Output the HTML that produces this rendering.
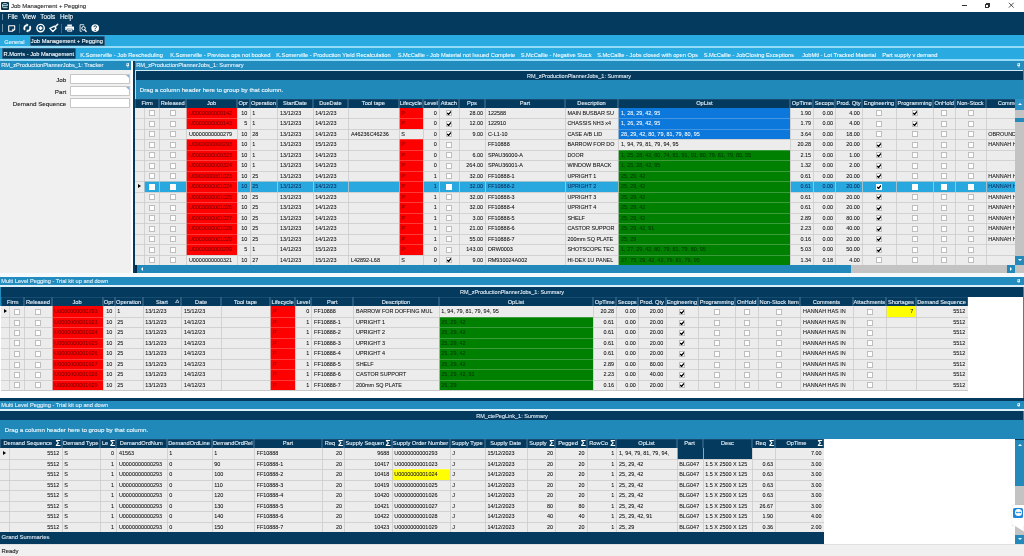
<!DOCTYPE html>
<html lang="en"><head><meta charset="utf-8"><title>Job Management + Pegging</title>
<style>
html,body{margin:0;padding:0}
body{width:1024px;height:556px;overflow:hidden;position:relative;background:#fff;font-family:"Liberation Sans",sans-serif;font-size:5.5px}
body>div{position:absolute;overflow:hidden}
.t{position:absolute;white-space:nowrap;font-size:5.5px;-webkit-text-stroke:0.1px}
.tab{color:#f4fbfe;font-size:5.72px;-webkit-text-stroke:0.1px;line-height:10px;text-align:left;overflow:visible}
.h{position:absolute;white-space:nowrap;overflow:hidden;color:#e4eef6;font-size:5.7px;-webkit-text-stroke:0.12px}
.c{position:absolute;white-space:nowrap;overflow:hidden;font-size:5.45px;-webkit-text-stroke:0.06px;margin-top:1.1px;margin-left:0.5px}
.cb{width:6px;height:6px;box-sizing:border-box;border:1px solid #bebebe;background:#fff !important;line-height:0}
.cb svg{position:absolute;left:-1px;top:-1px}
.sg{position:absolute;color:#fff;font-size:8.6px;font-weight:bold;white-space:nowrap}
.arr{width:0;height:0;border-left:3.2px solid #000;border-top:2.4px solid transparent;border-bottom:2.4px solid transparent;background:transparent !important}
.au{width:0;height:0;border-bottom:2.6px solid #fff;border-left:2px solid transparent;border-right:2px solid transparent;background:transparent !important}
.ad{width:0;height:0;border-top:2.6px solid #fff;border-left:2px solid transparent;border-right:2px solid transparent;background:transparent !important}
.al{width:0;height:0;border-right:2.6px solid #fff;border-top:2px solid transparent;border-bottom:2px solid transparent;background:transparent !important}
.ar{width:0;height:0;border-left:2.6px solid #fff;border-top:2px solid transparent;border-bottom:2px solid transparent;background:transparent !important}
</style></head>
<body>
<div  style="left:0.00px;top:0.00px;width:1024.00px;height:12.00px;background:#ffffff;"></div>
<div style="left:1px;top:1.8px;width:7.9px;height:7.9px;background:#0c2f40;border-radius:1px"></div>
<svg style="position:absolute;left:0;top:0" width="11" height="11" viewBox="0 0 11 11"><path d="M7.5 7.7 H3.6 Q2.6 7.7 2.6 6.7 V4.7 Q2.6 3.7 3.6 3.7 H6.4 Q7.4 3.7 7.4 4.7 V5.7 H2.8" fill="none" stroke="#c8f0fa" stroke-width="0.95"/></svg>
<span class="t" style="left:10.90px;top:0.50px;color:#2a2a2a;font-size:6.0px;line-height:11px;-webkit-text-stroke:0.1px">Job Management + Pegging</span>
<div  style="left:962.00px;top:5.20px;width:4.80px;height:0.60px;background:#333;"></div>
<div style="left:985.1px;top:3.9px;width:3.9px;height:3.9px;border:0.55px solid #333;background:transparent;box-sizing:border-box"></div><div style="left:986.2px;top:3px;width:3.9px;height:3.9px;border-top:0.55px solid #333;border-right:0.55px solid #333;background:transparent;box-sizing:border-box"></div>
<svg style="position:absolute;left:1008px;top:2.4px" width="6.6" height="6.6" viewBox="0 0 6.6 6.6"><path d="M0.9 0.8 L5.7 5.6 M5.7 0.8 L0.9 5.6" stroke="#222" stroke-width="0.8"/></svg>
<div  style="left:0.00px;top:12.00px;width:1024.00px;height:22.80px;background:#043a5e;"></div>
<div  style="left:2.40px;top:13.80px;width:0.70px;height:6.50px;background:#6f93ad;"></div>
<span class="t" style="left:7.60px;top:12.30px;color:#fff;font-size:6.4px;line-height:10px">File</span>
<span class="t" style="left:22.20px;top:12.30px;color:#fff;font-size:6.4px;line-height:10px">View</span>
<span class="t" style="left:40.20px;top:12.30px;color:#fff;font-size:6.4px;line-height:10px">Tools</span>
<span class="t" style="left:60.00px;top:12.30px;color:#fff;font-size:6.4px;line-height:10px">Help</span>
<div  style="left:2.40px;top:24.30px;width:0.70px;height:8.00px;background:#6f93ad;"></div>
<div  style="left:19.30px;top:23.60px;width:0.60px;height:9.60px;background:#3b6787;"></div>
<div  style="left:61.10px;top:23.60px;width:0.60px;height:9.60px;background:#3b6787;"></div>
<svg style="position:absolute;left:0;top:20px" width="104" height="16" viewBox="0 0 104 16">
<g fill="none" stroke="#fff" stroke-linejoin="round">
<path d="M8.7 5.8 H14.7 V9.5 L12.6 11.2 H8.7 Z" stroke-width="1.05"/>
<path d="M14.6 9.3 H12.5 V11.1" stroke-width="0.7"/>
<path d="M24.94 9.85 A3.0 3.0 0 0 1 26.88 5.03" stroke-width="1.8"/>
<path d="M29.66 6.15 A3.0 3.0 0 0 1 27.72 10.97" stroke-width="1.8"/>
<circle cx="40.6" cy="8.1" r="3.7" stroke-width="1.4"/>
<path d="M38.8 8.1 H42.4 M40.6 6.3 V9.9" stroke-width="1.6"/>
<path d="M57.7 4.3 L55.2 6.7" stroke-width="1.5" stroke-linecap="round"/>
<path d="M49.8 8.4 L54.5 6.2 L56.1 8.3 L52.9 11.5 Z" stroke-width="1.3"/>
<path d="M80.1 4.7 H83.8 V5.6 M80.1 4.7 V11.3 H81.8" stroke-width="0.8"/>
<circle cx="83.5" cy="8.3" r="1.75" stroke-width="1"/>
<path d="M84.8 9.8 L86.2 11.5" stroke-width="1.2" stroke-linecap="round"/>
</g>
<g fill="#fff">
<path d="M28.57 4.79 L26.46 3.47 L26.91 6.64 Z"/>
<path d="M26.03 11.21 L28.14 12.53 L27.69 9.36 Z"/>
<rect x="67.3" y="4.5" width="4.6" height="2"/>
<rect x="65.2" y="6.5" width="8.8" height="3.7" rx="0.6"/>
<rect x="67" y="9" width="5.2" height="2.9" stroke="#043a5e" stroke-width="0.5"/>
<circle cx="95.2" cy="8.1" r="3.85"/>
</g>
<path d="M67.9 10.5 H71.3" stroke="#043a5e" stroke-width="0.5"/>
<path d="M93.9 7.1 Q93.9 5.8 95.2 5.8 Q96.5 5.8 96.5 6.9 Q96.5 7.6 95.8 8 Q95.2 8.4 95.2 9.1" fill="none" stroke="#043a5e" stroke-width="1"/>
<circle cx="95.2" cy="10.4" r="0.65" fill="#043a5e"/>
</svg>
<div  style="left:0.00px;top:34.80px;width:1024.00px;height:12.00px;background:#29abe2;"></div>
<div  style="left:0.00px;top:45.90px;width:1024.00px;height:2.10px;background:#93dcf8;"></div>
<span class="t" style="left:4.30px;top:36.70px;color:#e9f6fd;font-size:5.7px;line-height:10px">General</span>
<div  style="left:29.50px;top:35.50px;width:75.20px;height:10.70px;background:#043a5e;box-shadow:inset 0 0 0 0.6px rgba(160,215,245,0.45);"></div>
<span class="t" style="left:30.80px;top:36.00px;color:#fff;font-size:5.75px;line-height:10px">Job Management + Pegging</span>
<div  style="left:0.00px;top:48.00px;width:1024.00px;height:12.00px;background:#29abe2;"></div>
<div  style="left:0.00px;top:58.80px;width:1024.00px;height:2.20px;background:#93dcf8;"></div>
<div  style="left:1.70px;top:48.40px;width:74.50px;height:10.80px;background:#043a5e;box-shadow:inset 0 0 0 0.6px rgba(160,215,245,0.45);"></div>
<span class="t" style="left:3.60px;top:48.90px;color:#fff;font-size:5.7px;line-height:10px">R.Morris - Job Management</span>
<span class="t tab" style="left:80.2px;top:50.1px;width:83.5px">K.Somerville - Job Rescheduling</span>
<span class="t tab" style="left:170.2px;top:50.1px;width:100px">K.Somerville - Previous ops not booked</span>
<span class="t tab" style="left:276.2px;top:50.1px;width:114px">K.Somerville - Production Yield Recalculation</span>
<span class="t tab" style="left:397.7px;top:50.1px;width:116.5px">S.McCallie - Job Material not Issued Complete</span>
<span class="t tab" style="left:520.7px;top:50.1px;width:70.5px">S.McCallie - Negative Stock</span>
<span class="t tab" style="left:597.2px;top:50.1px;width:101px">S.McCallie - Jobs closed with open Ops</span>
<span class="t tab" style="left:703.7px;top:50.1px;width:92.0px">S.McCallie - JobClosing Exceptions</span>
<span class="t tab" style="left:802.2px;top:50.1px;width:74px">JobMtl - Lot Tracked Material</span>
<span class="t tab" style="left:882.2px;top:50.1px;width:56px">Part supply v demand</span>
<div  style="left:0.00px;top:60.90px;width:131.00px;height:8.90px;background:#238cbf;"></div>
<span class="t" style="left:1.20px;top:60.90px;color:#e6f3fa;font-size:5.7px;line-height:9px">RM_zProductionPlannerJobs_1: Tracker</span>
<svg style="position:absolute;left:125.6px;top:62.9px" width="3.8" height="4.7" viewBox="0 0 7.6 11.2" preserveAspectRatio="none"><path d="M1.6 0.8 H6 V5.6 H1.6 Z" fill="none" stroke="#fff" stroke-width="1.5"/><path d="M4.9 1 V5.4" stroke="#fff" stroke-width="1.6"/><path d="M0.2 6.2 H7.4" stroke="#fff" stroke-width="1.5"/><path d="M3.8 6.4 V11" stroke="#fff" stroke-width="1.4"/></svg>
<div  style="left:0.00px;top:69.80px;width:131.50px;height:204.00px;background:#f0f0f0;"></div>
<div  style="left:130.80px;top:61.20px;width:2.20px;height:212.50px;background:#fff;"></div>
<div  style="left:132.90px;top:61.20px;width:2.10px;height:212.50px;background:#043a5e;"></div>
<span class="t" style="left:0;top:75.10000000000001px;width:66.3px;text-align:right;color:#1a1a1a;font-size:6.25px;line-height:10.4px">Job</span>
<div  style="left:70.00px;top:74.20px;width:59.60px;height:10.00px;background:#fff;border:0.7px solid #c6c6c6;box-sizing:border-box;border-radius:0.8px"></div>
<span class="t" style="left:0;top:87.30000000000001px;width:66.3px;text-align:right;color:#1a1a1a;font-size:6.25px;line-height:10.4px">Part</span>
<div  style="left:70.00px;top:86.40px;width:59.60px;height:10.00px;background:#fff;border:0.7px solid #c6c6c6;box-sizing:border-box;border-radius:0.8px"></div>
<span class="t" style="left:0;top:99.30000000000001px;width:66.3px;text-align:right;color:#1a1a1a;font-size:6.25px;line-height:10.4px">Demand Sequence</span>
<div  style="left:70.00px;top:98.40px;width:59.60px;height:10.00px;background:#fff;border:0.7px solid #c6c6c6;box-sizing:border-box;border-radius:0.8px"></div>
<svg style="position:absolute;left:125.9px;top:74.7px" width="3.4" height="3.4" viewBox="0 0 3 3"><path d="M0 0 H3 V3 Z" fill="#8fb4dc"/></svg>
<svg style="position:absolute;left:125.9px;top:86.9px" width="3.4" height="3.4" viewBox="0 0 3 3"><path d="M0 0 H3 V3 Z" fill="#8fb4dc"/></svg>
<div  style="left:135.00px;top:60.90px;width:889.00px;height:8.90px;background:#238cbf;"></div>
<span class="t" style="left:136.20px;top:60.90px;color:#e6f3fa;font-size:5.7px;line-height:9px">RM_zProductionPlannerJobs_1: Summary</span>
<svg style="position:absolute;left:1016.7px;top:62.9px" width="3.8" height="4.7" viewBox="0 0 7.6 11.2" preserveAspectRatio="none"><path d="M1.6 0.8 H6 V5.6 H1.6 Z" fill="none" stroke="#fff" stroke-width="1.5"/><path d="M4.9 1 V5.4" stroke="#fff" stroke-width="1.6"/><path d="M0.2 6.2 H7.4" stroke="#fff" stroke-width="1.5"/><path d="M3.8 6.4 V11" stroke="#fff" stroke-width="1.4"/></svg>
<div  style="left:135.00px;top:69.80px;width:889.00px;height:1.60px;background:#d4ecf8;"></div>
<div  style="left:135.00px;top:71.30px;width:888.00px;height:8.70px;background:#043a5e;"></div>
<span class="t" style="left:135px;top:72px;width:888px;text-align:center;color:#dfeaf3;font-size:5.5px;line-height:9px">RM_zProductionPlannerJobs_1: Summary</span>
<div  style="left:135.00px;top:80.00px;width:888.00px;height:19.00px;background:#2189ba;"></div>
<div  style="left:1023.00px;top:69.80px;width:1.00px;height:29.00px;background:#238cbf;"></div>
<div  style="left:135.00px;top:69.80px;width:0.80px;height:29.00px;background:#b9dff2;"></div>
<span class="t" style="left:139.70px;top:85.20px;color:#f2f9fd;font-size:6.2px;line-height:10px">Drag a column header here to group by that column.</span>
<div  style="left:135.00px;top:98.80px;width:902.60px;height:8.90px;background:#043a5e;"></div>
<div  style="left:135.00px;top:98.80px;width:24.25px;height:8.90px;background:#043a5e;box-shadow:inset 0.6px 0 0 #3f6f92, inset -0.6px 0 0 #3f6f92, inset 0 0.6px 0 #2b5d82;"></div>
<div  style="left:159.25px;top:98.80px;width:26.95px;height:8.90px;background:#043a5e;box-shadow:inset 0.6px 0 0 #3f6f92, inset -0.6px 0 0 #3f6f92, inset 0 0.6px 0 #2b5d82;"></div>
<div  style="left:186.20px;top:98.80px;width:50.60px;height:8.90px;background:#043a5e;box-shadow:inset 0.6px 0 0 #3f6f92, inset -0.6px 0 0 #3f6f92, inset 0 0.6px 0 #2b5d82;"></div>
<div  style="left:236.80px;top:98.80px;width:12.72px;height:8.90px;background:#043a5e;box-shadow:inset 0.6px 0 0 #3f6f92, inset -0.6px 0 0 #3f6f92, inset 0 0.6px 0 #2b5d82;"></div>
<div  style="left:249.52px;top:98.80px;width:27.88px;height:8.90px;background:#043a5e;box-shadow:inset 0.6px 0 0 #3f6f92, inset -0.6px 0 0 #3f6f92, inset 0 0.6px 0 #2b5d82;"></div>
<div  style="left:277.40px;top:98.80px;width:35.20px;height:8.90px;background:#043a5e;box-shadow:inset 0.6px 0 0 #3f6f92, inset -0.6px 0 0 #3f6f92, inset 0 0.6px 0 #2b5d82;"></div>
<div  style="left:312.60px;top:98.80px;width:35.60px;height:8.90px;background:#043a5e;box-shadow:inset 0.6px 0 0 #3f6f92, inset -0.6px 0 0 #3f6f92, inset 0 0.6px 0 #2b5d82;"></div>
<div  style="left:348.20px;top:98.80px;width:50.40px;height:8.90px;background:#043a5e;box-shadow:inset 0.6px 0 0 #3f6f92, inset -0.6px 0 0 #3f6f92, inset 0 0.6px 0 #2b5d82;"></div>
<div  style="left:398.60px;top:98.80px;width:24.40px;height:8.90px;background:#043a5e;box-shadow:inset 0.6px 0 0 #3f6f92, inset -0.6px 0 0 #3f6f92, inset 0 0.6px 0 #2b5d82;"></div>
<div  style="left:423.00px;top:98.80px;width:16.00px;height:8.90px;background:#043a5e;box-shadow:inset 0.6px 0 0 #3f6f92, inset -0.6px 0 0 #3f6f92, inset 0 0.6px 0 #2b5d82;"></div>
<div  style="left:439.00px;top:98.80px;width:19.60px;height:8.90px;background:#043a5e;box-shadow:inset 0.6px 0 0 #3f6f92, inset -0.6px 0 0 #3f6f92, inset 0 0.6px 0 #2b5d82;"></div>
<div  style="left:458.60px;top:98.80px;width:26.60px;height:8.90px;background:#043a5e;box-shadow:inset 0.6px 0 0 #3f6f92, inset -0.6px 0 0 #3f6f92, inset 0 0.6px 0 #2b5d82;"></div>
<div  style="left:485.20px;top:98.80px;width:79.50px;height:8.90px;background:#043a5e;box-shadow:inset 0.6px 0 0 #3f6f92, inset -0.6px 0 0 #3f6f92, inset 0 0.6px 0 #2b5d82;"></div>
<div  style="left:564.70px;top:98.80px;width:53.70px;height:8.90px;background:#043a5e;box-shadow:inset 0.6px 0 0 #3f6f92, inset -0.6px 0 0 #3f6f92, inset 0 0.6px 0 #2b5d82;"></div>
<div  style="left:618.40px;top:98.80px;width:172.00px;height:8.90px;background:#043a5e;box-shadow:inset 0.6px 0 0 #3f6f92, inset -0.6px 0 0 #3f6f92, inset 0 0.6px 0 #2b5d82;"></div>
<div  style="left:790.40px;top:98.80px;width:22.90px;height:8.90px;background:#043a5e;box-shadow:inset 0.6px 0 0 #3f6f92, inset -0.6px 0 0 #3f6f92, inset 0 0.6px 0 #2b5d82;"></div>
<div  style="left:813.30px;top:98.80px;width:21.90px;height:8.90px;background:#043a5e;box-shadow:inset 0.6px 0 0 #3f6f92, inset -0.6px 0 0 #3f6f92, inset 0 0.6px 0 #2b5d82;"></div>
<div  style="left:835.20px;top:98.80px;width:26.90px;height:8.90px;background:#043a5e;box-shadow:inset 0.6px 0 0 #3f6f92, inset -0.6px 0 0 #3f6f92, inset 0 0.6px 0 #2b5d82;"></div>
<div  style="left:862.10px;top:98.80px;width:33.90px;height:8.90px;background:#043a5e;box-shadow:inset 0.6px 0 0 #3f6f92, inset -0.6px 0 0 #3f6f92, inset 0 0.6px 0 #2b5d82;"></div>
<div  style="left:896.00px;top:98.80px;width:37.20px;height:8.90px;background:#043a5e;box-shadow:inset 0.6px 0 0 #3f6f92, inset -0.6px 0 0 #3f6f92, inset 0 0.6px 0 #2b5d82;"></div>
<div  style="left:933.20px;top:98.80px;width:22.00px;height:8.90px;background:#043a5e;box-shadow:inset 0.6px 0 0 #3f6f92, inset -0.6px 0 0 #3f6f92, inset 0 0.6px 0 #2b5d82;"></div>
<div  style="left:955.20px;top:98.80px;width:30.32px;height:8.90px;background:#043a5e;box-shadow:inset 0.6px 0 0 #3f6f92, inset -0.6px 0 0 #3f6f92, inset 0 0.6px 0 #2b5d82;"></div>
<div  style="left:985.52px;top:98.80px;width:52.08px;height:8.90px;background:#043a5e;box-shadow:inset 0.6px 0 0 #3f6f92, inset -0.6px 0 0 #3f6f92, inset 0 0.6px 0 #2b5d82;"></div>
<span class="h" style="left:129.00px;top:98.80px;width:36.25px;line-height:9.20px;text-align:center">Firm</span>
<span class="h" style="left:153.25px;top:98.80px;width:38.95px;line-height:9.20px;text-align:center">Released</span>
<span class="h" style="left:180.20px;top:98.80px;width:62.60px;line-height:9.20px;text-align:center">Job</span>
<span class="h" style="left:230.80px;top:98.80px;width:24.72px;line-height:9.20px;text-align:center">Opr</span>
<span class="h" style="left:243.52px;top:98.80px;width:39.88px;line-height:9.20px;text-align:center">Operation</span>
<span class="h" style="left:271.40px;top:98.80px;width:47.20px;line-height:9.20px;text-align:center">StartDate</span>
<span class="h" style="left:306.60px;top:98.80px;width:47.60px;line-height:9.20px;text-align:center">DueDate</span>
<span class="h" style="left:342.20px;top:98.80px;width:62.40px;line-height:9.20px;text-align:center">Tool tape</span>
<span class="h" style="left:392.60px;top:98.80px;width:36.40px;line-height:9.20px;text-align:center">Lifecycle</span>
<span class="h" style="left:417.00px;top:98.80px;width:28.00px;line-height:9.20px;text-align:center">Level</span>
<span class="h" style="left:433.00px;top:98.80px;width:31.60px;line-height:9.20px;text-align:center">Attach</span>
<span class="h" style="left:452.60px;top:98.80px;width:38.60px;line-height:9.20px;text-align:center">Pps</span>
<span class="h" style="left:479.20px;top:98.80px;width:91.50px;line-height:9.20px;text-align:center">Part</span>
<span class="h" style="left:558.70px;top:98.80px;width:65.70px;line-height:9.20px;text-align:center">Description</span>
<span class="h" style="left:612.40px;top:98.80px;width:184.00px;line-height:9.20px;text-align:center">OpList</span>
<span class="h" style="left:784.40px;top:98.80px;width:34.90px;line-height:9.20px;text-align:center">OpTime</span>
<span class="h" style="left:807.30px;top:98.80px;width:33.90px;line-height:9.20px;text-align:center">Secops</span>
<span class="h" style="left:829.20px;top:98.80px;width:38.90px;line-height:9.20px;text-align:center">Prod. Qty</span>
<span class="h" style="left:856.10px;top:98.80px;width:45.90px;line-height:9.20px;text-align:center">Engineering</span>
<span class="h" style="left:890.00px;top:98.80px;width:49.20px;line-height:9.20px;text-align:center">Programming</span>
<span class="h" style="left:927.20px;top:98.80px;width:34.00px;line-height:9.20px;text-align:center">OnHold</span>
<span class="h" style="left:949.20px;top:98.80px;width:42.32px;line-height:9.20px;text-align:center">Non-Stock</span>
<span class="h" style="left:979.52px;top:98.80px;width:64.08px;line-height:9.20px;text-align:center">Comments</span>
<div  style="left:135.00px;top:107.60px;width:903.30px;height:158.20px;background:#c9c9c9;"></div>
<div  style="left:135.00px;top:107.60px;width:902.60px;height:157.50px;background:#ececec;"></div>
<div  style="left:135.00px;top:107.60px;width:9.40px;height:10.50px;background:#ececec;"></div>
<div  style="left:144.40px;top:107.60px;width:14.85px;height:10.50px;background:#ececec;box-shadow:inset 0.75px 0 0 #c9c9c9;"></div>
<div class="cb" style="left:149px;top:110px;border-color:#bebebe"></div>
<div  style="left:159.25px;top:107.60px;width:26.95px;height:10.50px;background:#ececec;box-shadow:inset 0.75px 0 0 #c9c9c9;"></div>
<div class="cb" style="left:170px;top:110px;border-color:#bebebe"></div>
<div  style="left:186.20px;top:107.60px;width:50.60px;height:10.50px;background:#ff0000;box-shadow:inset 0.75px 0 0 #c9c9c9;"></div>
<span class="c" style="left:188.40px;top:107.60px;width:45.70px;line-height:9.90px;text-align:left;color:#7a0000">U0000000000142</span>
<div  style="left:236.80px;top:107.60px;width:12.72px;height:10.50px;background:#ececec;box-shadow:inset 0.75px 0 0 #c9c9c9;"></div>
<span class="c" style="left:239.00px;top:107.60px;width:7.82px;line-height:9.90px;text-align:right;color:#0d0d0d;overflow:visible">10</span>
<div  style="left:249.52px;top:107.60px;width:27.88px;height:10.50px;background:#ececec;box-shadow:inset 0.75px 0 0 #c9c9c9;"></div>
<span class="c" style="left:251.72px;top:107.60px;width:22.98px;line-height:9.90px;text-align:left;color:#0d0d0d">1</span>
<div  style="left:277.40px;top:107.60px;width:35.20px;height:10.50px;background:#ececec;box-shadow:inset 0.75px 0 0 #c9c9c9;"></div>
<span class="c" style="left:279.60px;top:107.60px;width:30.30px;line-height:9.90px;text-align:left;color:#0d0d0d">13/12/23</span>
<div  style="left:312.60px;top:107.60px;width:35.60px;height:10.50px;background:#ececec;box-shadow:inset 0.75px 0 0 #c9c9c9;"></div>
<span class="c" style="left:314.80px;top:107.60px;width:30.70px;line-height:9.90px;text-align:left;color:#0d0d0d">14/12/23</span>
<div  style="left:348.20px;top:107.60px;width:50.40px;height:10.50px;background:#ececec;box-shadow:inset 0.75px 0 0 #c9c9c9;"></div>
<div  style="left:398.60px;top:107.60px;width:24.40px;height:10.50px;background:#ff0000;box-shadow:inset 0.75px 0 0 #c9c9c9;"></div>
<span class="c" style="left:400.80px;top:107.60px;width:19.50px;line-height:9.90px;text-align:left;color:#7a0000">P</span>
<div  style="left:423.00px;top:107.60px;width:16.00px;height:10.50px;background:#ececec;box-shadow:inset 0.75px 0 0 #c9c9c9;"></div>
<span class="c" style="left:425.20px;top:107.60px;width:11.10px;line-height:9.90px;text-align:right;color:#0d0d0d;overflow:visible">0</span>
<div  style="left:439.00px;top:107.60px;width:19.60px;height:10.50px;background:#ececec;box-shadow:inset 0.75px 0 0 #c9c9c9;"></div>
<div class="cb" style="left:446px;top:110px;border-color:#bebebe"><svg viewBox="0 0 7 7" width="6" height="6"><path d="M1.3 3.3 L3 5.2 L5.9 1.7" fill="none" stroke="#000" stroke-width="1.55"/></svg></div>
<div  style="left:458.60px;top:107.60px;width:26.60px;height:10.50px;background:#ececec;box-shadow:inset 0.75px 0 0 #c9c9c9;"></div>
<span class="c" style="left:460.80px;top:107.60px;width:21.70px;line-height:9.90px;text-align:right;color:#0d0d0d;overflow:visible">28.00</span>
<div  style="left:485.20px;top:107.60px;width:79.50px;height:10.50px;background:#ececec;box-shadow:inset 0.75px 0 0 #c9c9c9;"></div>
<span class="c" style="left:487.40px;top:107.60px;width:74.60px;line-height:9.90px;text-align:left;color:#0d0d0d">122588</span>
<div  style="left:564.70px;top:107.60px;width:53.70px;height:10.50px;background:#ececec;box-shadow:inset 0.75px 0 0 #c9c9c9;"></div>
<span class="c" style="left:566.90px;top:107.60px;width:48.80px;line-height:9.90px;text-align:left;color:#0d0d0d">MAIN BUSBAR SU</span>
<div  style="left:618.40px;top:107.60px;width:172.00px;height:10.50px;background:#0c78dc;box-shadow:inset 0.75px 0 0 #c9c9c9;"></div>
<span class="c" style="left:620.60px;top:107.60px;width:167.10px;line-height:9.90px;text-align:left;color:#ffffff">1, 28, 29, 42, 95</span>
<div  style="left:790.40px;top:107.60px;width:22.90px;height:10.50px;background:#ececec;box-shadow:inset 0.75px 0 0 #c9c9c9;"></div>
<span class="c" style="left:792.60px;top:107.60px;width:18.00px;line-height:9.90px;text-align:right;color:#0d0d0d;overflow:visible">1.90</span>
<div  style="left:813.30px;top:107.60px;width:21.90px;height:10.50px;background:#ececec;box-shadow:inset 0.75px 0 0 #c9c9c9;"></div>
<span class="c" style="left:815.50px;top:107.60px;width:17.00px;line-height:9.90px;text-align:right;color:#0d0d0d;overflow:visible">0.00</span>
<div  style="left:835.20px;top:107.60px;width:26.90px;height:10.50px;background:#ececec;box-shadow:inset 0.75px 0 0 #c9c9c9;"></div>
<span class="c" style="left:837.40px;top:107.60px;width:22.00px;line-height:9.90px;text-align:right;color:#0d0d0d;overflow:visible">4.00</span>
<div  style="left:862.10px;top:107.60px;width:33.90px;height:10.50px;background:#ececec;box-shadow:inset 0.75px 0 0 #c9c9c9;"></div>
<div class="cb" style="left:876px;top:110px;border-color:#bebebe"></div>
<div  style="left:896.00px;top:107.60px;width:37.20px;height:10.50px;background:#ececec;box-shadow:inset 0.75px 0 0 #c9c9c9;"></div>
<div class="cb" style="left:912px;top:110px;border-color:#bebebe"><svg viewBox="0 0 7 7" width="6" height="6"><path d="M1.3 3.3 L3 5.2 L5.9 1.7" fill="none" stroke="#000" stroke-width="1.55"/></svg></div>
<div  style="left:933.20px;top:107.60px;width:22.00px;height:10.50px;background:#ececec;box-shadow:inset 0.75px 0 0 #c9c9c9;"></div>
<div class="cb" style="left:941px;top:110px;border-color:#bebebe"></div>
<div  style="left:955.20px;top:107.60px;width:30.32px;height:10.50px;background:#ececec;box-shadow:inset 0.75px 0 0 #c9c9c9;"></div>
<div class="cb" style="left:968px;top:110px;border-color:#bebebe"></div>
<div  style="left:985.52px;top:107.60px;width:52.08px;height:10.50px;background:#ececec;box-shadow:inset 0.75px 0 0 #c9c9c9;"></div>
<div  style="left:135.00px;top:118.10px;width:9.40px;height:10.50px;background:#ececec;box-shadow:inset 0 0.7px 0 #c9c9c9;"></div>
<div  style="left:144.40px;top:118.10px;width:14.85px;height:10.50px;background:#ececec;box-shadow:inset 0.75px 0 0 #c9c9c9, inset 0 0.7px 0 #c9c9c9;"></div>
<div class="cb" style="left:149px;top:121px;border-color:#bebebe"></div>
<div  style="left:159.25px;top:118.10px;width:26.95px;height:10.50px;background:#ececec;box-shadow:inset 0.75px 0 0 #c9c9c9, inset 0 0.7px 0 #c9c9c9;"></div>
<div class="cb" style="left:170px;top:121px;border-color:#bebebe"></div>
<div  style="left:186.20px;top:118.10px;width:50.60px;height:10.50px;background:#ff0000;box-shadow:inset 0.75px 0 0 #c9c9c9, inset 0 0.8px 0 rgba(255,255,255,0.3);"></div>
<span class="c" style="left:188.40px;top:118.10px;width:45.70px;line-height:9.90px;text-align:left;color:#7a0000">U0000000000143</span>
<div  style="left:236.80px;top:118.10px;width:12.72px;height:10.50px;background:#ececec;box-shadow:inset 0.75px 0 0 #c9c9c9, inset 0 0.7px 0 #c9c9c9;"></div>
<span class="c" style="left:239.00px;top:118.10px;width:7.82px;line-height:9.90px;text-align:right;color:#0d0d0d;overflow:visible">5</span>
<div  style="left:249.52px;top:118.10px;width:27.88px;height:10.50px;background:#ececec;box-shadow:inset 0.75px 0 0 #c9c9c9, inset 0 0.7px 0 #c9c9c9;"></div>
<span class="c" style="left:251.72px;top:118.10px;width:22.98px;line-height:9.90px;text-align:left;color:#0d0d0d">1</span>
<div  style="left:277.40px;top:118.10px;width:35.20px;height:10.50px;background:#ececec;box-shadow:inset 0.75px 0 0 #c9c9c9, inset 0 0.7px 0 #c9c9c9;"></div>
<span class="c" style="left:279.60px;top:118.10px;width:30.30px;line-height:9.90px;text-align:left;color:#0d0d0d">13/12/23</span>
<div  style="left:312.60px;top:118.10px;width:35.60px;height:10.50px;background:#ececec;box-shadow:inset 0.75px 0 0 #c9c9c9, inset 0 0.7px 0 #c9c9c9;"></div>
<span class="c" style="left:314.80px;top:118.10px;width:30.70px;line-height:9.90px;text-align:left;color:#0d0d0d">14/12/23</span>
<div  style="left:348.20px;top:118.10px;width:50.40px;height:10.50px;background:#ececec;box-shadow:inset 0.75px 0 0 #c9c9c9, inset 0 0.7px 0 #c9c9c9;"></div>
<div  style="left:398.60px;top:118.10px;width:24.40px;height:10.50px;background:#ff0000;box-shadow:inset 0.75px 0 0 #c9c9c9, inset 0 0.8px 0 rgba(255,255,255,0.3);"></div>
<span class="c" style="left:400.80px;top:118.10px;width:19.50px;line-height:9.90px;text-align:left;color:#7a0000">P</span>
<div  style="left:423.00px;top:118.10px;width:16.00px;height:10.50px;background:#ececec;box-shadow:inset 0.75px 0 0 #c9c9c9, inset 0 0.7px 0 #c9c9c9;"></div>
<span class="c" style="left:425.20px;top:118.10px;width:11.10px;line-height:9.90px;text-align:right;color:#0d0d0d;overflow:visible">0</span>
<div  style="left:439.00px;top:118.10px;width:19.60px;height:10.50px;background:#ececec;box-shadow:inset 0.75px 0 0 #c9c9c9, inset 0 0.7px 0 #c9c9c9;"></div>
<div class="cb" style="left:446px;top:121px;border-color:#bebebe"><svg viewBox="0 0 7 7" width="6" height="6"><path d="M1.3 3.3 L3 5.2 L5.9 1.7" fill="none" stroke="#000" stroke-width="1.55"/></svg></div>
<div  style="left:458.60px;top:118.10px;width:26.60px;height:10.50px;background:#ececec;box-shadow:inset 0.75px 0 0 #c9c9c9, inset 0 0.7px 0 #c9c9c9;"></div>
<span class="c" style="left:460.80px;top:118.10px;width:21.70px;line-height:9.90px;text-align:right;color:#0d0d0d;overflow:visible">12.00</span>
<div  style="left:485.20px;top:118.10px;width:79.50px;height:10.50px;background:#ececec;box-shadow:inset 0.75px 0 0 #c9c9c9, inset 0 0.7px 0 #c9c9c9;"></div>
<span class="c" style="left:487.40px;top:118.10px;width:74.60px;line-height:9.90px;text-align:left;color:#0d0d0d">122910</span>
<div  style="left:564.70px;top:118.10px;width:53.70px;height:10.50px;background:#ececec;box-shadow:inset 0.75px 0 0 #c9c9c9, inset 0 0.7px 0 #c9c9c9;"></div>
<span class="c" style="left:566.90px;top:118.10px;width:48.80px;line-height:9.90px;text-align:left;color:#0d0d0d">CHASSIS NH3 x4</span>
<div  style="left:618.40px;top:118.10px;width:172.00px;height:10.50px;background:#0c78dc;box-shadow:inset 0.75px 0 0 #c9c9c9, inset 0 0.8px 0 rgba(255,255,255,0.3);"></div>
<span class="c" style="left:620.60px;top:118.10px;width:167.10px;line-height:9.90px;text-align:left;color:#ffffff">1, 26, 29, 42, 95</span>
<div  style="left:790.40px;top:118.10px;width:22.90px;height:10.50px;background:#ececec;box-shadow:inset 0.75px 0 0 #c9c9c9, inset 0 0.7px 0 #c9c9c9;"></div>
<span class="c" style="left:792.60px;top:118.10px;width:18.00px;line-height:9.90px;text-align:right;color:#0d0d0d;overflow:visible">1.79</span>
<div  style="left:813.30px;top:118.10px;width:21.90px;height:10.50px;background:#ececec;box-shadow:inset 0.75px 0 0 #c9c9c9, inset 0 0.7px 0 #c9c9c9;"></div>
<span class="c" style="left:815.50px;top:118.10px;width:17.00px;line-height:9.90px;text-align:right;color:#0d0d0d;overflow:visible">0.00</span>
<div  style="left:835.20px;top:118.10px;width:26.90px;height:10.50px;background:#ececec;box-shadow:inset 0.75px 0 0 #c9c9c9, inset 0 0.7px 0 #c9c9c9;"></div>
<span class="c" style="left:837.40px;top:118.10px;width:22.00px;line-height:9.90px;text-align:right;color:#0d0d0d;overflow:visible">4.00</span>
<div  style="left:862.10px;top:118.10px;width:33.90px;height:10.50px;background:#ececec;box-shadow:inset 0.75px 0 0 #c9c9c9, inset 0 0.7px 0 #c9c9c9;"></div>
<div class="cb" style="left:876px;top:121px;border-color:#bebebe"></div>
<div  style="left:896.00px;top:118.10px;width:37.20px;height:10.50px;background:#ececec;box-shadow:inset 0.75px 0 0 #c9c9c9, inset 0 0.7px 0 #c9c9c9;"></div>
<div class="cb" style="left:912px;top:121px;border-color:#bebebe"><svg viewBox="0 0 7 7" width="6" height="6"><path d="M1.3 3.3 L3 5.2 L5.9 1.7" fill="none" stroke="#000" stroke-width="1.55"/></svg></div>
<div  style="left:933.20px;top:118.10px;width:22.00px;height:10.50px;background:#ececec;box-shadow:inset 0.75px 0 0 #c9c9c9, inset 0 0.7px 0 #c9c9c9;"></div>
<div class="cb" style="left:941px;top:121px;border-color:#bebebe"></div>
<div  style="left:955.20px;top:118.10px;width:30.32px;height:10.50px;background:#ececec;box-shadow:inset 0.75px 0 0 #c9c9c9, inset 0 0.7px 0 #c9c9c9;"></div>
<div class="cb" style="left:968px;top:121px;border-color:#bebebe"></div>
<div  style="left:985.52px;top:118.10px;width:52.08px;height:10.50px;background:#ececec;box-shadow:inset 0.75px 0 0 #c9c9c9, inset 0 0.7px 0 #c9c9c9;"></div>
<div  style="left:135.00px;top:128.60px;width:9.40px;height:10.50px;background:#ececec;box-shadow:inset 0 0.7px 0 #c9c9c9;"></div>
<div  style="left:144.40px;top:128.60px;width:14.85px;height:10.50px;background:#ececec;box-shadow:inset 0.75px 0 0 #c9c9c9, inset 0 0.7px 0 #c9c9c9;"></div>
<div class="cb" style="left:149px;top:131px;border-color:#bebebe"></div>
<div  style="left:159.25px;top:128.60px;width:26.95px;height:10.50px;background:#ececec;box-shadow:inset 0.75px 0 0 #c9c9c9, inset 0 0.7px 0 #c9c9c9;"></div>
<div class="cb" style="left:170px;top:131px;border-color:#bebebe"></div>
<div  style="left:186.20px;top:128.60px;width:50.60px;height:10.50px;background:#ececec;box-shadow:inset 0.75px 0 0 #c9c9c9, inset 0 0.7px 0 #c9c9c9;"></div>
<span class="c" style="left:188.40px;top:128.60px;width:45.70px;line-height:9.90px;text-align:left;color:#0d0d0d">U0000000000279</span>
<div  style="left:236.80px;top:128.60px;width:12.72px;height:10.50px;background:#ececec;box-shadow:inset 0.75px 0 0 #c9c9c9, inset 0 0.7px 0 #c9c9c9;"></div>
<span class="c" style="left:239.00px;top:128.60px;width:7.82px;line-height:9.90px;text-align:right;color:#0d0d0d;overflow:visible">10</span>
<div  style="left:249.52px;top:128.60px;width:27.88px;height:10.50px;background:#ececec;box-shadow:inset 0.75px 0 0 #c9c9c9, inset 0 0.7px 0 #c9c9c9;"></div>
<span class="c" style="left:251.72px;top:128.60px;width:22.98px;line-height:9.90px;text-align:left;color:#0d0d0d">28</span>
<div  style="left:277.40px;top:128.60px;width:35.20px;height:10.50px;background:#ececec;box-shadow:inset 0.75px 0 0 #c9c9c9, inset 0 0.7px 0 #c9c9c9;"></div>
<span class="c" style="left:279.60px;top:128.60px;width:30.30px;line-height:9.90px;text-align:left;color:#0d0d0d">13/12/23</span>
<div  style="left:312.60px;top:128.60px;width:35.60px;height:10.50px;background:#ececec;box-shadow:inset 0.75px 0 0 #c9c9c9, inset 0 0.7px 0 #c9c9c9;"></div>
<span class="c" style="left:314.80px;top:128.60px;width:30.70px;line-height:9.90px;text-align:left;color:#0d0d0d">14/12/23</span>
<div  style="left:348.20px;top:128.60px;width:50.40px;height:10.50px;background:#ececec;box-shadow:inset 0.75px 0 0 #c9c9c9, inset 0 0.7px 0 #c9c9c9;"></div>
<span class="c" style="left:350.40px;top:128.60px;width:45.50px;line-height:9.90px;text-align:left;color:#0d0d0d">A46236C46236</span>
<div  style="left:398.60px;top:128.60px;width:24.40px;height:10.50px;background:#ececec;box-shadow:inset 0.75px 0 0 #c9c9c9, inset 0 0.7px 0 #c9c9c9;"></div>
<span class="c" style="left:400.80px;top:128.60px;width:19.50px;line-height:9.90px;text-align:left;color:#0d0d0d">S</span>
<div  style="left:423.00px;top:128.60px;width:16.00px;height:10.50px;background:#ececec;box-shadow:inset 0.75px 0 0 #c9c9c9, inset 0 0.7px 0 #c9c9c9;"></div>
<span class="c" style="left:425.20px;top:128.60px;width:11.10px;line-height:9.90px;text-align:right;color:#0d0d0d;overflow:visible">0</span>
<div  style="left:439.00px;top:128.60px;width:19.60px;height:10.50px;background:#ececec;box-shadow:inset 0.75px 0 0 #c9c9c9, inset 0 0.7px 0 #c9c9c9;"></div>
<div class="cb" style="left:446px;top:131px;border-color:#bebebe"><svg viewBox="0 0 7 7" width="6" height="6"><path d="M1.3 3.3 L3 5.2 L5.9 1.7" fill="none" stroke="#000" stroke-width="1.55"/></svg></div>
<div  style="left:458.60px;top:128.60px;width:26.60px;height:10.50px;background:#ececec;box-shadow:inset 0.75px 0 0 #c9c9c9, inset 0 0.7px 0 #c9c9c9;"></div>
<span class="c" style="left:460.80px;top:128.60px;width:21.70px;line-height:9.90px;text-align:right;color:#0d0d0d;overflow:visible">9.00</span>
<div  style="left:485.20px;top:128.60px;width:79.50px;height:10.50px;background:#ececec;box-shadow:inset 0.75px 0 0 #c9c9c9, inset 0 0.7px 0 #c9c9c9;"></div>
<span class="c" style="left:487.40px;top:128.60px;width:74.60px;line-height:9.90px;text-align:left;color:#0d0d0d">C-L1-10</span>
<div  style="left:564.70px;top:128.60px;width:53.70px;height:10.50px;background:#ececec;box-shadow:inset 0.75px 0 0 #c9c9c9, inset 0 0.7px 0 #c9c9c9;"></div>
<span class="c" style="left:566.90px;top:128.60px;width:48.80px;line-height:9.90px;text-align:left;color:#0d0d0d">CASE A/B LID</span>
<div  style="left:618.40px;top:128.60px;width:172.00px;height:10.50px;background:#0c78dc;box-shadow:inset 0.75px 0 0 #c9c9c9, inset 0 0.8px 0 rgba(255,255,255,0.3);"></div>
<span class="c" style="left:620.60px;top:128.60px;width:167.10px;line-height:9.90px;text-align:left;color:#ffffff">28, 29, 42, 80, 79, 81, 79, 80, 95</span>
<div  style="left:790.40px;top:128.60px;width:22.90px;height:10.50px;background:#ececec;box-shadow:inset 0.75px 0 0 #c9c9c9, inset 0 0.7px 0 #c9c9c9;"></div>
<span class="c" style="left:792.60px;top:128.60px;width:18.00px;line-height:9.90px;text-align:right;color:#0d0d0d;overflow:visible">3.64</span>
<div  style="left:813.30px;top:128.60px;width:21.90px;height:10.50px;background:#ececec;box-shadow:inset 0.75px 0 0 #c9c9c9, inset 0 0.7px 0 #c9c9c9;"></div>
<span class="c" style="left:815.50px;top:128.60px;width:17.00px;line-height:9.90px;text-align:right;color:#0d0d0d;overflow:visible">0.00</span>
<div  style="left:835.20px;top:128.60px;width:26.90px;height:10.50px;background:#ececec;box-shadow:inset 0.75px 0 0 #c9c9c9, inset 0 0.7px 0 #c9c9c9;"></div>
<span class="c" style="left:837.40px;top:128.60px;width:22.00px;line-height:9.90px;text-align:right;color:#0d0d0d;overflow:visible">18.00</span>
<div  style="left:862.10px;top:128.60px;width:33.90px;height:10.50px;background:#ececec;box-shadow:inset 0.75px 0 0 #c9c9c9, inset 0 0.7px 0 #c9c9c9;"></div>
<div class="cb" style="left:876px;top:131px;border-color:#bebebe"></div>
<div  style="left:896.00px;top:128.60px;width:37.20px;height:10.50px;background:#ececec;box-shadow:inset 0.75px 0 0 #c9c9c9, inset 0 0.7px 0 #c9c9c9;"></div>
<div class="cb" style="left:912px;top:131px;border-color:#bebebe"></div>
<div  style="left:933.20px;top:128.60px;width:22.00px;height:10.50px;background:#ececec;box-shadow:inset 0.75px 0 0 #c9c9c9, inset 0 0.7px 0 #c9c9c9;"></div>
<div class="cb" style="left:941px;top:131px;border-color:#bebebe"></div>
<div  style="left:955.20px;top:128.60px;width:30.32px;height:10.50px;background:#ececec;box-shadow:inset 0.75px 0 0 #c9c9c9, inset 0 0.7px 0 #c9c9c9;"></div>
<div class="cb" style="left:968px;top:131px;border-color:#bebebe"></div>
<div  style="left:985.52px;top:128.60px;width:52.08px;height:10.50px;background:#ececec;box-shadow:inset 0.75px 0 0 #c9c9c9, inset 0 0.7px 0 #c9c9c9;"></div>
<span class="c" style="left:987.72px;top:128.60px;width:47.18px;line-height:9.90px;text-align:left;color:#0d0d0d">OBROUND SLOTS</span>
<div  style="left:135.00px;top:139.10px;width:9.40px;height:10.50px;background:#ececec;box-shadow:inset 0 0.7px 0 #c9c9c9;"></div>
<div  style="left:144.40px;top:139.10px;width:14.85px;height:10.50px;background:#ececec;box-shadow:inset 0.75px 0 0 #c9c9c9, inset 0 0.7px 0 #c9c9c9;"></div>
<div class="cb" style="left:149px;top:142px;border-color:#bebebe"></div>
<div  style="left:159.25px;top:139.10px;width:26.95px;height:10.50px;background:#ececec;box-shadow:inset 0.75px 0 0 #c9c9c9, inset 0 0.7px 0 #c9c9c9;"></div>
<div class="cb" style="left:170px;top:142px;border-color:#bebebe"></div>
<div  style="left:186.20px;top:139.10px;width:50.60px;height:10.50px;background:#ff0000;box-shadow:inset 0.75px 0 0 #c9c9c9, inset 0 0.8px 0 rgba(255,255,255,0.3);"></div>
<span class="c" style="left:188.40px;top:139.10px;width:45.70px;line-height:9.90px;text-align:left;color:#7a0000">U0000000000293</span>
<div  style="left:236.80px;top:139.10px;width:12.72px;height:10.50px;background:#ececec;box-shadow:inset 0.75px 0 0 #c9c9c9, inset 0 0.7px 0 #c9c9c9;"></div>
<span class="c" style="left:239.00px;top:139.10px;width:7.82px;line-height:9.90px;text-align:right;color:#0d0d0d;overflow:visible">10</span>
<div  style="left:249.52px;top:139.10px;width:27.88px;height:10.50px;background:#ececec;box-shadow:inset 0.75px 0 0 #c9c9c9, inset 0 0.7px 0 #c9c9c9;"></div>
<span class="c" style="left:251.72px;top:139.10px;width:22.98px;line-height:9.90px;text-align:left;color:#0d0d0d">1</span>
<div  style="left:277.40px;top:139.10px;width:35.20px;height:10.50px;background:#ececec;box-shadow:inset 0.75px 0 0 #c9c9c9, inset 0 0.7px 0 #c9c9c9;"></div>
<span class="c" style="left:279.60px;top:139.10px;width:30.30px;line-height:9.90px;text-align:left;color:#0d0d0d">13/12/23</span>
<div  style="left:312.60px;top:139.10px;width:35.60px;height:10.50px;background:#ececec;box-shadow:inset 0.75px 0 0 #c9c9c9, inset 0 0.7px 0 #c9c9c9;"></div>
<span class="c" style="left:314.80px;top:139.10px;width:30.70px;line-height:9.90px;text-align:left;color:#0d0d0d">15/12/23</span>
<div  style="left:348.20px;top:139.10px;width:50.40px;height:10.50px;background:#ececec;box-shadow:inset 0.75px 0 0 #c9c9c9, inset 0 0.7px 0 #c9c9c9;"></div>
<div  style="left:398.60px;top:139.10px;width:24.40px;height:10.50px;background:#ff0000;box-shadow:inset 0.75px 0 0 #c9c9c9, inset 0 0.8px 0 rgba(255,255,255,0.3);"></div>
<span class="c" style="left:400.80px;top:139.10px;width:19.50px;line-height:9.90px;text-align:left;color:#7a0000">P</span>
<div  style="left:423.00px;top:139.10px;width:16.00px;height:10.50px;background:#ececec;box-shadow:inset 0.75px 0 0 #c9c9c9, inset 0 0.7px 0 #c9c9c9;"></div>
<span class="c" style="left:425.20px;top:139.10px;width:11.10px;line-height:9.90px;text-align:right;color:#0d0d0d;overflow:visible">0</span>
<div  style="left:439.00px;top:139.10px;width:19.60px;height:10.50px;background:#ececec;box-shadow:inset 0.75px 0 0 #c9c9c9, inset 0 0.7px 0 #c9c9c9;"></div>
<div class="cb" style="left:446px;top:142px;border-color:#bebebe"></div>
<div  style="left:458.60px;top:139.10px;width:26.60px;height:10.50px;background:#ececec;box-shadow:inset 0.75px 0 0 #c9c9c9, inset 0 0.7px 0 #c9c9c9;"></div>
<div  style="left:485.20px;top:139.10px;width:79.50px;height:10.50px;background:#ececec;box-shadow:inset 0.75px 0 0 #c9c9c9, inset 0 0.7px 0 #c9c9c9;"></div>
<span class="c" style="left:487.40px;top:139.10px;width:74.60px;line-height:9.90px;text-align:left;color:#0d0d0d">FF10888</span>
<div  style="left:564.70px;top:139.10px;width:53.70px;height:10.50px;background:#ececec;box-shadow:inset 0.75px 0 0 #c9c9c9, inset 0 0.7px 0 #c9c9c9;"></div>
<span class="c" style="left:566.90px;top:139.10px;width:48.80px;line-height:9.90px;text-align:left;color:#0d0d0d">BARROW FOR DO</span>
<div  style="left:618.40px;top:139.10px;width:172.00px;height:10.50px;background:#ececec;box-shadow:inset 0.75px 0 0 #c9c9c9, inset 0 0.7px 0 #c9c9c9;"></div>
<span class="c" style="left:620.60px;top:139.10px;width:167.10px;line-height:9.90px;text-align:left;color:#0d0d0d">1, 94, 79, 81, 79, 94, 95</span>
<div  style="left:790.40px;top:139.10px;width:22.90px;height:10.50px;background:#ececec;box-shadow:inset 0.75px 0 0 #c9c9c9, inset 0 0.7px 0 #c9c9c9;"></div>
<span class="c" style="left:792.60px;top:139.10px;width:18.00px;line-height:9.90px;text-align:right;color:#0d0d0d;overflow:visible">20.28</span>
<div  style="left:813.30px;top:139.10px;width:21.90px;height:10.50px;background:#ececec;box-shadow:inset 0.75px 0 0 #c9c9c9, inset 0 0.7px 0 #c9c9c9;"></div>
<span class="c" style="left:815.50px;top:139.10px;width:17.00px;line-height:9.90px;text-align:right;color:#0d0d0d;overflow:visible">0.00</span>
<div  style="left:835.20px;top:139.10px;width:26.90px;height:10.50px;background:#ececec;box-shadow:inset 0.75px 0 0 #c9c9c9, inset 0 0.7px 0 #c9c9c9;"></div>
<span class="c" style="left:837.40px;top:139.10px;width:22.00px;line-height:9.90px;text-align:right;color:#0d0d0d;overflow:visible">20.00</span>
<div  style="left:862.10px;top:139.10px;width:33.90px;height:10.50px;background:#ececec;box-shadow:inset 0.75px 0 0 #c9c9c9, inset 0 0.7px 0 #c9c9c9;"></div>
<div class="cb" style="left:876px;top:142px;border-color:#bebebe"><svg viewBox="0 0 7 7" width="6" height="6"><path d="M1.3 3.3 L3 5.2 L5.9 1.7" fill="none" stroke="#000" stroke-width="1.55"/></svg></div>
<div  style="left:896.00px;top:139.10px;width:37.20px;height:10.50px;background:#ececec;box-shadow:inset 0.75px 0 0 #c9c9c9, inset 0 0.7px 0 #c9c9c9;"></div>
<div class="cb" style="left:912px;top:142px;border-color:#bebebe"></div>
<div  style="left:933.20px;top:139.10px;width:22.00px;height:10.50px;background:#ececec;box-shadow:inset 0.75px 0 0 #c9c9c9, inset 0 0.7px 0 #c9c9c9;"></div>
<div class="cb" style="left:941px;top:142px;border-color:#bebebe"></div>
<div  style="left:955.20px;top:139.10px;width:30.32px;height:10.50px;background:#ececec;box-shadow:inset 0.75px 0 0 #c9c9c9, inset 0 0.7px 0 #c9c9c9;"></div>
<div class="cb" style="left:968px;top:142px;border-color:#bebebe"></div>
<div  style="left:985.52px;top:139.10px;width:52.08px;height:10.50px;background:#ececec;box-shadow:inset 0.75px 0 0 #c9c9c9, inset 0 0.7px 0 #c9c9c9;"></div>
<span class="c" style="left:987.72px;top:139.10px;width:47.18px;line-height:9.90px;text-align:left;color:#0d0d0d">HANNAH H</span>
<div  style="left:135.00px;top:149.60px;width:9.40px;height:10.50px;background:#ececec;box-shadow:inset 0 0.7px 0 #c9c9c9;"></div>
<div  style="left:144.40px;top:149.60px;width:14.85px;height:10.50px;background:#ececec;box-shadow:inset 0.75px 0 0 #c9c9c9, inset 0 0.7px 0 #c9c9c9;"></div>
<div class="cb" style="left:149px;top:152px;border-color:#bebebe"></div>
<div  style="left:159.25px;top:149.60px;width:26.95px;height:10.50px;background:#ececec;box-shadow:inset 0.75px 0 0 #c9c9c9, inset 0 0.7px 0 #c9c9c9;"></div>
<div class="cb" style="left:170px;top:152px;border-color:#bebebe"></div>
<div  style="left:186.20px;top:149.60px;width:50.60px;height:10.50px;background:#ff0000;box-shadow:inset 0.75px 0 0 #c9c9c9, inset 0 0.8px 0 rgba(255,255,255,0.3);"></div>
<span class="c" style="left:188.40px;top:149.60px;width:45.70px;line-height:9.90px;text-align:left;color:#7a0000">U0000000000323</span>
<div  style="left:236.80px;top:149.60px;width:12.72px;height:10.50px;background:#ececec;box-shadow:inset 0.75px 0 0 #c9c9c9, inset 0 0.7px 0 #c9c9c9;"></div>
<span class="c" style="left:239.00px;top:149.60px;width:7.82px;line-height:9.90px;text-align:right;color:#0d0d0d;overflow:visible">10</span>
<div  style="left:249.52px;top:149.60px;width:27.88px;height:10.50px;background:#ececec;box-shadow:inset 0.75px 0 0 #c9c9c9, inset 0 0.7px 0 #c9c9c9;"></div>
<span class="c" style="left:251.72px;top:149.60px;width:22.98px;line-height:9.90px;text-align:left;color:#0d0d0d">1</span>
<div  style="left:277.40px;top:149.60px;width:35.20px;height:10.50px;background:#ececec;box-shadow:inset 0.75px 0 0 #c9c9c9, inset 0 0.7px 0 #c9c9c9;"></div>
<span class="c" style="left:279.60px;top:149.60px;width:30.30px;line-height:9.90px;text-align:left;color:#0d0d0d">13/12/23</span>
<div  style="left:312.60px;top:149.60px;width:35.60px;height:10.50px;background:#ececec;box-shadow:inset 0.75px 0 0 #c9c9c9, inset 0 0.7px 0 #c9c9c9;"></div>
<span class="c" style="left:314.80px;top:149.60px;width:30.70px;line-height:9.90px;text-align:left;color:#0d0d0d">14/12/23</span>
<div  style="left:348.20px;top:149.60px;width:50.40px;height:10.50px;background:#ececec;box-shadow:inset 0.75px 0 0 #c9c9c9, inset 0 0.7px 0 #c9c9c9;"></div>
<div  style="left:398.60px;top:149.60px;width:24.40px;height:10.50px;background:#ff0000;box-shadow:inset 0.75px 0 0 #c9c9c9, inset 0 0.8px 0 rgba(255,255,255,0.3);"></div>
<span class="c" style="left:400.80px;top:149.60px;width:19.50px;line-height:9.90px;text-align:left;color:#7a0000">P</span>
<div  style="left:423.00px;top:149.60px;width:16.00px;height:10.50px;background:#ececec;box-shadow:inset 0.75px 0 0 #c9c9c9, inset 0 0.7px 0 #c9c9c9;"></div>
<span class="c" style="left:425.20px;top:149.60px;width:11.10px;line-height:9.90px;text-align:right;color:#0d0d0d;overflow:visible">0</span>
<div  style="left:439.00px;top:149.60px;width:19.60px;height:10.50px;background:#ececec;box-shadow:inset 0.75px 0 0 #c9c9c9, inset 0 0.7px 0 #c9c9c9;"></div>
<div class="cb" style="left:446px;top:152px;border-color:#bebebe"></div>
<div  style="left:458.60px;top:149.60px;width:26.60px;height:10.50px;background:#ececec;box-shadow:inset 0.75px 0 0 #c9c9c9, inset 0 0.7px 0 #c9c9c9;"></div>
<span class="c" style="left:460.80px;top:149.60px;width:21.70px;line-height:9.90px;text-align:right;color:#0d0d0d;overflow:visible">6.00</span>
<div  style="left:485.20px;top:149.60px;width:79.50px;height:10.50px;background:#ececec;box-shadow:inset 0.75px 0 0 #c9c9c9, inset 0 0.7px 0 #c9c9c9;"></div>
<span class="c" style="left:487.40px;top:149.60px;width:74.60px;line-height:9.90px;text-align:left;color:#0d0d0d">SPAU36000-A</span>
<div  style="left:564.70px;top:149.60px;width:53.70px;height:10.50px;background:#ececec;box-shadow:inset 0.75px 0 0 #c9c9c9, inset 0 0.7px 0 #c9c9c9;"></div>
<span class="c" style="left:566.90px;top:149.60px;width:48.80px;line-height:9.90px;text-align:left;color:#0d0d0d">DOOR</span>
<div  style="left:618.40px;top:149.60px;width:172.00px;height:10.50px;background:#008000;box-shadow:inset 0.75px 0 0 #c9c9c9, inset 0 0.8px 0 rgba(255,255,255,0.3);"></div>
<span class="c" style="left:620.60px;top:149.60px;width:167.10px;line-height:9.90px;text-align:left;color:#003800">1, 25, 28, 42, 80, 74, 81, 91, 91, 80, 79, 81, 79, 80, 95</span>
<div  style="left:790.40px;top:149.60px;width:22.90px;height:10.50px;background:#ececec;box-shadow:inset 0.75px 0 0 #c9c9c9, inset 0 0.7px 0 #c9c9c9;"></div>
<span class="c" style="left:792.60px;top:149.60px;width:18.00px;line-height:9.90px;text-align:right;color:#0d0d0d;overflow:visible">2.15</span>
<div  style="left:813.30px;top:149.60px;width:21.90px;height:10.50px;background:#ececec;box-shadow:inset 0.75px 0 0 #c9c9c9, inset 0 0.7px 0 #c9c9c9;"></div>
<span class="c" style="left:815.50px;top:149.60px;width:17.00px;line-height:9.90px;text-align:right;color:#0d0d0d;overflow:visible">0.00</span>
<div  style="left:835.20px;top:149.60px;width:26.90px;height:10.50px;background:#ececec;box-shadow:inset 0.75px 0 0 #c9c9c9, inset 0 0.7px 0 #c9c9c9;"></div>
<span class="c" style="left:837.40px;top:149.60px;width:22.00px;line-height:9.90px;text-align:right;color:#0d0d0d;overflow:visible">1.00</span>
<div  style="left:862.10px;top:149.60px;width:33.90px;height:10.50px;background:#ececec;box-shadow:inset 0.75px 0 0 #c9c9c9, inset 0 0.7px 0 #c9c9c9;"></div>
<div class="cb" style="left:876px;top:152px;border-color:#bebebe"><svg viewBox="0 0 7 7" width="6" height="6"><path d="M1.3 3.3 L3 5.2 L5.9 1.7" fill="none" stroke="#000" stroke-width="1.55"/></svg></div>
<div  style="left:896.00px;top:149.60px;width:37.20px;height:10.50px;background:#ececec;box-shadow:inset 0.75px 0 0 #c9c9c9, inset 0 0.7px 0 #c9c9c9;"></div>
<div class="cb" style="left:912px;top:152px;border-color:#bebebe"></div>
<div  style="left:933.20px;top:149.60px;width:22.00px;height:10.50px;background:#ececec;box-shadow:inset 0.75px 0 0 #c9c9c9, inset 0 0.7px 0 #c9c9c9;"></div>
<div class="cb" style="left:941px;top:152px;border-color:#bebebe"></div>
<div  style="left:955.20px;top:149.60px;width:30.32px;height:10.50px;background:#ececec;box-shadow:inset 0.75px 0 0 #c9c9c9, inset 0 0.7px 0 #c9c9c9;"></div>
<div class="cb" style="left:968px;top:152px;border-color:#bebebe"></div>
<div  style="left:985.52px;top:149.60px;width:52.08px;height:10.50px;background:#ececec;box-shadow:inset 0.75px 0 0 #c9c9c9, inset 0 0.7px 0 #c9c9c9;"></div>
<div  style="left:135.00px;top:160.10px;width:9.40px;height:10.50px;background:#ececec;box-shadow:inset 0 0.7px 0 #c9c9c9;"></div>
<div  style="left:144.40px;top:160.10px;width:14.85px;height:10.50px;background:#ececec;box-shadow:inset 0.75px 0 0 #c9c9c9, inset 0 0.7px 0 #c9c9c9;"></div>
<div class="cb" style="left:149px;top:163px;border-color:#bebebe"></div>
<div  style="left:159.25px;top:160.10px;width:26.95px;height:10.50px;background:#ececec;box-shadow:inset 0.75px 0 0 #c9c9c9, inset 0 0.7px 0 #c9c9c9;"></div>
<div class="cb" style="left:170px;top:163px;border-color:#bebebe"></div>
<div  style="left:186.20px;top:160.10px;width:50.60px;height:10.50px;background:#ff0000;box-shadow:inset 0.75px 0 0 #c9c9c9, inset 0 0.8px 0 rgba(255,255,255,0.3);"></div>
<span class="c" style="left:188.40px;top:160.10px;width:45.70px;line-height:9.90px;text-align:left;color:#7a0000">U0000000000324</span>
<div  style="left:236.80px;top:160.10px;width:12.72px;height:10.50px;background:#ececec;box-shadow:inset 0.75px 0 0 #c9c9c9, inset 0 0.7px 0 #c9c9c9;"></div>
<span class="c" style="left:239.00px;top:160.10px;width:7.82px;line-height:9.90px;text-align:right;color:#0d0d0d;overflow:visible">10</span>
<div  style="left:249.52px;top:160.10px;width:27.88px;height:10.50px;background:#ececec;box-shadow:inset 0.75px 0 0 #c9c9c9, inset 0 0.7px 0 #c9c9c9;"></div>
<span class="c" style="left:251.72px;top:160.10px;width:22.98px;line-height:9.90px;text-align:left;color:#0d0d0d">1</span>
<div  style="left:277.40px;top:160.10px;width:35.20px;height:10.50px;background:#ececec;box-shadow:inset 0.75px 0 0 #c9c9c9, inset 0 0.7px 0 #c9c9c9;"></div>
<span class="c" style="left:279.60px;top:160.10px;width:30.30px;line-height:9.90px;text-align:left;color:#0d0d0d">13/12/23</span>
<div  style="left:312.60px;top:160.10px;width:35.60px;height:10.50px;background:#ececec;box-shadow:inset 0.75px 0 0 #c9c9c9, inset 0 0.7px 0 #c9c9c9;"></div>
<span class="c" style="left:314.80px;top:160.10px;width:30.70px;line-height:9.90px;text-align:left;color:#0d0d0d">14/12/23</span>
<div  style="left:348.20px;top:160.10px;width:50.40px;height:10.50px;background:#ececec;box-shadow:inset 0.75px 0 0 #c9c9c9, inset 0 0.7px 0 #c9c9c9;"></div>
<div  style="left:398.60px;top:160.10px;width:24.40px;height:10.50px;background:#ff0000;box-shadow:inset 0.75px 0 0 #c9c9c9, inset 0 0.8px 0 rgba(255,255,255,0.3);"></div>
<span class="c" style="left:400.80px;top:160.10px;width:19.50px;line-height:9.90px;text-align:left;color:#7a0000">P</span>
<div  style="left:423.00px;top:160.10px;width:16.00px;height:10.50px;background:#ececec;box-shadow:inset 0.75px 0 0 #c9c9c9, inset 0 0.7px 0 #c9c9c9;"></div>
<span class="c" style="left:425.20px;top:160.10px;width:11.10px;line-height:9.90px;text-align:right;color:#0d0d0d;overflow:visible">0</span>
<div  style="left:439.00px;top:160.10px;width:19.60px;height:10.50px;background:#ececec;box-shadow:inset 0.75px 0 0 #c9c9c9, inset 0 0.7px 0 #c9c9c9;"></div>
<div class="cb" style="left:446px;top:163px;border-color:#bebebe"></div>
<div  style="left:458.60px;top:160.10px;width:26.60px;height:10.50px;background:#ececec;box-shadow:inset 0.75px 0 0 #c9c9c9, inset 0 0.7px 0 #c9c9c9;"></div>
<span class="c" style="left:460.80px;top:160.10px;width:21.70px;line-height:9.90px;text-align:right;color:#0d0d0d;overflow:visible">264.00</span>
<div  style="left:485.20px;top:160.10px;width:79.50px;height:10.50px;background:#ececec;box-shadow:inset 0.75px 0 0 #c9c9c9, inset 0 0.7px 0 #c9c9c9;"></div>
<span class="c" style="left:487.40px;top:160.10px;width:74.60px;line-height:9.90px;text-align:left;color:#0d0d0d">SPAU36001-A</span>
<div  style="left:564.70px;top:160.10px;width:53.70px;height:10.50px;background:#ececec;box-shadow:inset 0.75px 0 0 #c9c9c9, inset 0 0.7px 0 #c9c9c9;"></div>
<span class="c" style="left:566.90px;top:160.10px;width:48.80px;line-height:9.90px;text-align:left;color:#0d0d0d">WINDOW BRACK</span>
<div  style="left:618.40px;top:160.10px;width:172.00px;height:10.50px;background:#008000;box-shadow:inset 0.75px 0 0 #c9c9c9, inset 0 0.8px 0 rgba(255,255,255,0.3);"></div>
<span class="c" style="left:620.60px;top:160.10px;width:167.10px;line-height:9.90px;text-align:left;color:#003800">1, 25, 28, 42, 95</span>
<div  style="left:790.40px;top:160.10px;width:22.90px;height:10.50px;background:#ececec;box-shadow:inset 0.75px 0 0 #c9c9c9, inset 0 0.7px 0 #c9c9c9;"></div>
<span class="c" style="left:792.60px;top:160.10px;width:18.00px;line-height:9.90px;text-align:right;color:#0d0d0d;overflow:visible">1.32</span>
<div  style="left:813.30px;top:160.10px;width:21.90px;height:10.50px;background:#ececec;box-shadow:inset 0.75px 0 0 #c9c9c9, inset 0 0.7px 0 #c9c9c9;"></div>
<span class="c" style="left:815.50px;top:160.10px;width:17.00px;line-height:9.90px;text-align:right;color:#0d0d0d;overflow:visible">0.00</span>
<div  style="left:835.20px;top:160.10px;width:26.90px;height:10.50px;background:#ececec;box-shadow:inset 0.75px 0 0 #c9c9c9, inset 0 0.7px 0 #c9c9c9;"></div>
<span class="c" style="left:837.40px;top:160.10px;width:22.00px;line-height:9.90px;text-align:right;color:#0d0d0d;overflow:visible">2.00</span>
<div  style="left:862.10px;top:160.10px;width:33.90px;height:10.50px;background:#ececec;box-shadow:inset 0.75px 0 0 #c9c9c9, inset 0 0.7px 0 #c9c9c9;"></div>
<div class="cb" style="left:876px;top:163px;border-color:#bebebe"><svg viewBox="0 0 7 7" width="6" height="6"><path d="M1.3 3.3 L3 5.2 L5.9 1.7" fill="none" stroke="#000" stroke-width="1.55"/></svg></div>
<div  style="left:896.00px;top:160.10px;width:37.20px;height:10.50px;background:#ececec;box-shadow:inset 0.75px 0 0 #c9c9c9, inset 0 0.7px 0 #c9c9c9;"></div>
<div class="cb" style="left:912px;top:163px;border-color:#bebebe"></div>
<div  style="left:933.20px;top:160.10px;width:22.00px;height:10.50px;background:#ececec;box-shadow:inset 0.75px 0 0 #c9c9c9, inset 0 0.7px 0 #c9c9c9;"></div>
<div class="cb" style="left:941px;top:163px;border-color:#bebebe"></div>
<div  style="left:955.20px;top:160.10px;width:30.32px;height:10.50px;background:#ececec;box-shadow:inset 0.75px 0 0 #c9c9c9, inset 0 0.7px 0 #c9c9c9;"></div>
<div class="cb" style="left:968px;top:163px;border-color:#bebebe"></div>
<div  style="left:985.52px;top:160.10px;width:52.08px;height:10.50px;background:#ececec;box-shadow:inset 0.75px 0 0 #c9c9c9, inset 0 0.7px 0 #c9c9c9;"></div>
<div  style="left:135.00px;top:170.60px;width:9.40px;height:10.50px;background:#ececec;box-shadow:inset 0 0.7px 0 #c9c9c9;"></div>
<div  style="left:144.40px;top:170.60px;width:14.85px;height:10.50px;background:#ececec;box-shadow:inset 0.75px 0 0 #c9c9c9, inset 0 0.7px 0 #c9c9c9;"></div>
<div class="cb" style="left:149px;top:173px;border-color:#bebebe"></div>
<div  style="left:159.25px;top:170.60px;width:26.95px;height:10.50px;background:#ececec;box-shadow:inset 0.75px 0 0 #c9c9c9, inset 0 0.7px 0 #c9c9c9;"></div>
<div class="cb" style="left:170px;top:173px;border-color:#bebebe"></div>
<div  style="left:186.20px;top:170.60px;width:50.60px;height:10.50px;background:#ff0000;box-shadow:inset 0.75px 0 0 #c9c9c9, inset 0 0.8px 0 rgba(255,255,255,0.3);"></div>
<span class="c" style="left:188.40px;top:170.60px;width:45.70px;line-height:9.90px;text-align:left;color:#7a0000">U0000000001023</span>
<div  style="left:236.80px;top:170.60px;width:12.72px;height:10.50px;background:#ececec;box-shadow:inset 0.75px 0 0 #c9c9c9, inset 0 0.7px 0 #c9c9c9;"></div>
<span class="c" style="left:239.00px;top:170.60px;width:7.82px;line-height:9.90px;text-align:right;color:#0d0d0d;overflow:visible">10</span>
<div  style="left:249.52px;top:170.60px;width:27.88px;height:10.50px;background:#ececec;box-shadow:inset 0.75px 0 0 #c9c9c9, inset 0 0.7px 0 #c9c9c9;"></div>
<span class="c" style="left:251.72px;top:170.60px;width:22.98px;line-height:9.90px;text-align:left;color:#0d0d0d">25</span>
<div  style="left:277.40px;top:170.60px;width:35.20px;height:10.50px;background:#ececec;box-shadow:inset 0.75px 0 0 #c9c9c9, inset 0 0.7px 0 #c9c9c9;"></div>
<span class="c" style="left:279.60px;top:170.60px;width:30.30px;line-height:9.90px;text-align:left;color:#0d0d0d">13/12/23</span>
<div  style="left:312.60px;top:170.60px;width:35.60px;height:10.50px;background:#ececec;box-shadow:inset 0.75px 0 0 #c9c9c9, inset 0 0.7px 0 #c9c9c9;"></div>
<span class="c" style="left:314.80px;top:170.60px;width:30.70px;line-height:9.90px;text-align:left;color:#0d0d0d">14/12/23</span>
<div  style="left:348.20px;top:170.60px;width:50.40px;height:10.50px;background:#ececec;box-shadow:inset 0.75px 0 0 #c9c9c9, inset 0 0.7px 0 #c9c9c9;"></div>
<div  style="left:398.60px;top:170.60px;width:24.40px;height:10.50px;background:#ff0000;box-shadow:inset 0.75px 0 0 #c9c9c9, inset 0 0.8px 0 rgba(255,255,255,0.3);"></div>
<span class="c" style="left:400.80px;top:170.60px;width:19.50px;line-height:9.90px;text-align:left;color:#7a0000">P</span>
<div  style="left:423.00px;top:170.60px;width:16.00px;height:10.50px;background:#ececec;box-shadow:inset 0.75px 0 0 #c9c9c9, inset 0 0.7px 0 #c9c9c9;"></div>
<span class="c" style="left:425.20px;top:170.60px;width:11.10px;line-height:9.90px;text-align:right;color:#0d0d0d;overflow:visible">1</span>
<div  style="left:439.00px;top:170.60px;width:19.60px;height:10.50px;background:#ececec;box-shadow:inset 0.75px 0 0 #c9c9c9, inset 0 0.7px 0 #c9c9c9;"></div>
<div class="cb" style="left:446px;top:173px;border-color:#bebebe"></div>
<div  style="left:458.60px;top:170.60px;width:26.60px;height:10.50px;background:#ececec;box-shadow:inset 0.75px 0 0 #c9c9c9, inset 0 0.7px 0 #c9c9c9;"></div>
<span class="c" style="left:460.80px;top:170.60px;width:21.70px;line-height:9.90px;text-align:right;color:#0d0d0d;overflow:visible">32.00</span>
<div  style="left:485.20px;top:170.60px;width:79.50px;height:10.50px;background:#ececec;box-shadow:inset 0.75px 0 0 #c9c9c9, inset 0 0.7px 0 #c9c9c9;"></div>
<span class="c" style="left:487.40px;top:170.60px;width:74.60px;line-height:9.90px;text-align:left;color:#0d0d0d">FF10888-1</span>
<div  style="left:564.70px;top:170.60px;width:53.70px;height:10.50px;background:#ececec;box-shadow:inset 0.75px 0 0 #c9c9c9, inset 0 0.7px 0 #c9c9c9;"></div>
<span class="c" style="left:566.90px;top:170.60px;width:48.80px;line-height:9.90px;text-align:left;color:#0d0d0d">UPRIGHT 1</span>
<div  style="left:618.40px;top:170.60px;width:172.00px;height:10.50px;background:#008000;box-shadow:inset 0.75px 0 0 #c9c9c9, inset 0 0.8px 0 rgba(255,255,255,0.3);"></div>
<span class="c" style="left:620.60px;top:170.60px;width:167.10px;line-height:9.90px;text-align:left;color:#003800">25, 29, 42</span>
<div  style="left:790.40px;top:170.60px;width:22.90px;height:10.50px;background:#ececec;box-shadow:inset 0.75px 0 0 #c9c9c9, inset 0 0.7px 0 #c9c9c9;"></div>
<span class="c" style="left:792.60px;top:170.60px;width:18.00px;line-height:9.90px;text-align:right;color:#0d0d0d;overflow:visible">0.61</span>
<div  style="left:813.30px;top:170.60px;width:21.90px;height:10.50px;background:#ececec;box-shadow:inset 0.75px 0 0 #c9c9c9, inset 0 0.7px 0 #c9c9c9;"></div>
<span class="c" style="left:815.50px;top:170.60px;width:17.00px;line-height:9.90px;text-align:right;color:#0d0d0d;overflow:visible">0.00</span>
<div  style="left:835.20px;top:170.60px;width:26.90px;height:10.50px;background:#ececec;box-shadow:inset 0.75px 0 0 #c9c9c9, inset 0 0.7px 0 #c9c9c9;"></div>
<span class="c" style="left:837.40px;top:170.60px;width:22.00px;line-height:9.90px;text-align:right;color:#0d0d0d;overflow:visible">20.00</span>
<div  style="left:862.10px;top:170.60px;width:33.90px;height:10.50px;background:#ececec;box-shadow:inset 0.75px 0 0 #c9c9c9, inset 0 0.7px 0 #c9c9c9;"></div>
<div class="cb" style="left:876px;top:173px;border-color:#bebebe"><svg viewBox="0 0 7 7" width="6" height="6"><path d="M1.3 3.3 L3 5.2 L5.9 1.7" fill="none" stroke="#000" stroke-width="1.55"/></svg></div>
<div  style="left:896.00px;top:170.60px;width:37.20px;height:10.50px;background:#ececec;box-shadow:inset 0.75px 0 0 #c9c9c9, inset 0 0.7px 0 #c9c9c9;"></div>
<div class="cb" style="left:912px;top:173px;border-color:#bebebe"></div>
<div  style="left:933.20px;top:170.60px;width:22.00px;height:10.50px;background:#ececec;box-shadow:inset 0.75px 0 0 #c9c9c9, inset 0 0.7px 0 #c9c9c9;"></div>
<div class="cb" style="left:941px;top:173px;border-color:#bebebe"></div>
<div  style="left:955.20px;top:170.60px;width:30.32px;height:10.50px;background:#ececec;box-shadow:inset 0.75px 0 0 #c9c9c9, inset 0 0.7px 0 #c9c9c9;"></div>
<div class="cb" style="left:968px;top:173px;border-color:#bebebe"></div>
<div  style="left:985.52px;top:170.60px;width:52.08px;height:10.50px;background:#ececec;box-shadow:inset 0.75px 0 0 #c9c9c9, inset 0 0.7px 0 #c9c9c9;"></div>
<span class="c" style="left:987.72px;top:170.60px;width:47.18px;line-height:9.90px;text-align:left;color:#0d0d0d">HANNAH H</span>
<div  style="left:135.00px;top:181.10px;width:9.40px;height:10.50px;background:#ececec;box-shadow:inset 0 0.7px 0 #c9c9c9;"></div>
<div class="arr" style="left:138.40px;top:183.85px"></div>
<div  style="left:144.40px;top:181.10px;width:14.85px;height:10.50px;background:#29a8e0;box-shadow:inset 0.75px 0 0 #c9c9c9, inset 0 0.7px 0 #c9c9c9;"></div>
<div class="cb" style="left:149px;top:184px;border-color:#fff"></div>
<div  style="left:159.25px;top:181.10px;width:26.95px;height:10.50px;background:#29a8e0;box-shadow:inset 0.75px 0 0 #c9c9c9, inset 0 0.7px 0 #c9c9c9;"></div>
<div class="cb" style="left:170px;top:184px;border-color:#fff"></div>
<div  style="left:186.20px;top:181.10px;width:50.60px;height:10.50px;background:#ff0000;box-shadow:inset 0.75px 0 0 #c9c9c9, inset 0 0.8px 0 rgba(255,255,255,0.3);"></div>
<span class="c" style="left:188.40px;top:181.10px;width:45.70px;line-height:9.90px;text-align:left;color:#7a0000">U0000000001024</span>
<div  style="left:236.80px;top:181.10px;width:12.72px;height:10.50px;background:#29a8e0;box-shadow:inset 0.75px 0 0 #c9c9c9, inset 0 0.7px 0 #c9c9c9;"></div>
<span class="c" style="left:239.00px;top:181.10px;width:7.82px;line-height:9.90px;text-align:right;color:#0a2a5a;overflow:visible">10</span>
<div  style="left:249.52px;top:181.10px;width:27.88px;height:10.50px;background:#29a8e0;box-shadow:inset 0.75px 0 0 #c9c9c9, inset 0 0.7px 0 #c9c9c9;"></div>
<span class="c" style="left:251.72px;top:181.10px;width:22.98px;line-height:9.90px;text-align:left;color:#0a2a5a">25</span>
<div  style="left:277.40px;top:181.10px;width:35.20px;height:10.50px;background:#29a8e0;box-shadow:inset 0.75px 0 0 #c9c9c9, inset 0 0.7px 0 #c9c9c9;"></div>
<span class="c" style="left:279.60px;top:181.10px;width:30.30px;line-height:9.90px;text-align:left;color:#0a2a5a">13/12/23</span>
<div  style="left:312.60px;top:181.10px;width:35.60px;height:10.50px;background:#29a8e0;box-shadow:inset 0.75px 0 0 #c9c9c9, inset 0 0.7px 0 #c9c9c9;"></div>
<span class="c" style="left:314.80px;top:181.10px;width:30.70px;line-height:9.90px;text-align:left;color:#0a2a5a">14/12/23</span>
<div  style="left:348.20px;top:181.10px;width:50.40px;height:10.50px;background:#29a8e0;box-shadow:inset 0.75px 0 0 #c9c9c9, inset 0 0.7px 0 #c9c9c9;"></div>
<div  style="left:398.60px;top:181.10px;width:24.40px;height:10.50px;background:#ff0000;box-shadow:inset 0.75px 0 0 #c9c9c9, inset 0 0.8px 0 rgba(255,255,255,0.3);"></div>
<span class="c" style="left:400.80px;top:181.10px;width:19.50px;line-height:9.90px;text-align:left;color:#7a0000">P</span>
<div  style="left:423.00px;top:181.10px;width:16.00px;height:10.50px;background:#29a8e0;box-shadow:inset 0.75px 0 0 #c9c9c9, inset 0 0.7px 0 #c9c9c9;"></div>
<span class="c" style="left:425.20px;top:181.10px;width:11.10px;line-height:9.90px;text-align:right;color:#0a2a5a;overflow:visible">1</span>
<div  style="left:439.00px;top:181.10px;width:19.60px;height:10.50px;background:#29a8e0;box-shadow:inset 0.75px 0 0 #c9c9c9, inset 0 0.7px 0 #c9c9c9;"></div>
<div class="cb" style="left:446px;top:184px;border-color:#fff"></div>
<div  style="left:458.60px;top:181.10px;width:26.60px;height:10.50px;background:#29a8e0;box-shadow:inset 0.75px 0 0 #c9c9c9, inset 0 0.7px 0 #c9c9c9;"></div>
<span class="c" style="left:460.80px;top:181.10px;width:21.70px;line-height:9.90px;text-align:right;color:#0a2a5a;overflow:visible">32.00</span>
<div  style="left:485.20px;top:181.10px;width:79.50px;height:10.50px;background:#29a8e0;box-shadow:inset 0.75px 0 0 #c9c9c9, inset 0 0.7px 0 #c9c9c9;"></div>
<span class="c" style="left:487.40px;top:181.10px;width:74.60px;line-height:9.90px;text-align:left;color:#0a2a5a">FF10888-2</span>
<div  style="left:564.70px;top:181.10px;width:53.70px;height:10.50px;background:#29a8e0;box-shadow:inset 0.75px 0 0 #c9c9c9, inset 0 0.7px 0 #c9c9c9;"></div>
<span class="c" style="left:566.90px;top:181.10px;width:48.80px;line-height:9.90px;text-align:left;color:#0a2a5a">UPRIGHT 2</span>
<div  style="left:618.40px;top:181.10px;width:172.00px;height:10.50px;background:#008000;box-shadow:inset 0.75px 0 0 #c9c9c9, inset 0 0.8px 0 rgba(255,255,255,0.3);"></div>
<span class="c" style="left:620.60px;top:181.10px;width:167.10px;line-height:9.90px;text-align:left;color:#003800">25, 29, 42</span>
<div  style="left:790.40px;top:181.10px;width:22.90px;height:10.50px;background:#29a8e0;box-shadow:inset 0.75px 0 0 #c9c9c9, inset 0 0.7px 0 #c9c9c9;"></div>
<span class="c" style="left:792.60px;top:181.10px;width:18.00px;line-height:9.90px;text-align:right;color:#0a2a5a;overflow:visible">0.61</span>
<div  style="left:813.30px;top:181.10px;width:21.90px;height:10.50px;background:#29a8e0;box-shadow:inset 0.75px 0 0 #c9c9c9, inset 0 0.7px 0 #c9c9c9;"></div>
<span class="c" style="left:815.50px;top:181.10px;width:17.00px;line-height:9.90px;text-align:right;color:#0a2a5a;overflow:visible">0.00</span>
<div  style="left:835.20px;top:181.10px;width:26.90px;height:10.50px;background:#29a8e0;box-shadow:inset 0.75px 0 0 #c9c9c9, inset 0 0.7px 0 #c9c9c9;"></div>
<span class="c" style="left:837.40px;top:181.10px;width:22.00px;line-height:9.90px;text-align:right;color:#0a2a5a;overflow:visible">20.00</span>
<div  style="left:862.10px;top:181.10px;width:33.90px;height:10.50px;background:#29a8e0;box-shadow:inset 0.75px 0 0 #c9c9c9, inset 0 0.7px 0 #c9c9c9;"></div>
<div class="cb" style="left:876px;top:184px;border-color:#fff"><svg viewBox="0 0 7 7" width="6" height="6"><path d="M1.3 3.3 L3 5.2 L5.9 1.7" fill="none" stroke="#000" stroke-width="1.55"/></svg></div>
<div  style="left:896.00px;top:181.10px;width:37.20px;height:10.50px;background:#29a8e0;box-shadow:inset 0.75px 0 0 #c9c9c9, inset 0 0.7px 0 #c9c9c9;"></div>
<div class="cb" style="left:912px;top:184px;border-color:#fff"></div>
<div  style="left:933.20px;top:181.10px;width:22.00px;height:10.50px;background:#29a8e0;box-shadow:inset 0.75px 0 0 #c9c9c9, inset 0 0.7px 0 #c9c9c9;"></div>
<div class="cb" style="left:941px;top:184px;border-color:#fff"></div>
<div  style="left:955.20px;top:181.10px;width:30.32px;height:10.50px;background:#29a8e0;box-shadow:inset 0.75px 0 0 #c9c9c9, inset 0 0.7px 0 #c9c9c9;"></div>
<div class="cb" style="left:968px;top:184px;border-color:#fff"></div>
<div  style="left:985.52px;top:181.10px;width:52.08px;height:10.50px;background:#29a8e0;box-shadow:inset 0.75px 0 0 #c9c9c9, inset 0 0.7px 0 #c9c9c9;"></div>
<span class="c" style="left:987.72px;top:181.10px;width:47.18px;line-height:9.90px;text-align:left;color:#0a2a5a">HANNAH H</span>
<div  style="left:135.00px;top:191.60px;width:9.40px;height:10.50px;background:#ececec;box-shadow:inset 0 0.7px 0 #c9c9c9;"></div>
<div  style="left:144.40px;top:191.60px;width:14.85px;height:10.50px;background:#ececec;box-shadow:inset 0.75px 0 0 #c9c9c9, inset 0 0.7px 0 #c9c9c9;"></div>
<div class="cb" style="left:149px;top:194px;border-color:#bebebe"></div>
<div  style="left:159.25px;top:191.60px;width:26.95px;height:10.50px;background:#ececec;box-shadow:inset 0.75px 0 0 #c9c9c9, inset 0 0.7px 0 #c9c9c9;"></div>
<div class="cb" style="left:170px;top:194px;border-color:#bebebe"></div>
<div  style="left:186.20px;top:191.60px;width:50.60px;height:10.50px;background:#ff0000;box-shadow:inset 0.75px 0 0 #c9c9c9, inset 0 0.8px 0 rgba(255,255,255,0.3);"></div>
<span class="c" style="left:188.40px;top:191.60px;width:45.70px;line-height:9.90px;text-align:left;color:#7a0000">U0000000001025</span>
<div  style="left:236.80px;top:191.60px;width:12.72px;height:10.50px;background:#ececec;box-shadow:inset 0.75px 0 0 #c9c9c9, inset 0 0.7px 0 #c9c9c9;"></div>
<span class="c" style="left:239.00px;top:191.60px;width:7.82px;line-height:9.90px;text-align:right;color:#0d0d0d;overflow:visible">10</span>
<div  style="left:249.52px;top:191.60px;width:27.88px;height:10.50px;background:#ececec;box-shadow:inset 0.75px 0 0 #c9c9c9, inset 0 0.7px 0 #c9c9c9;"></div>
<span class="c" style="left:251.72px;top:191.60px;width:22.98px;line-height:9.90px;text-align:left;color:#0d0d0d">25</span>
<div  style="left:277.40px;top:191.60px;width:35.20px;height:10.50px;background:#ececec;box-shadow:inset 0.75px 0 0 #c9c9c9, inset 0 0.7px 0 #c9c9c9;"></div>
<span class="c" style="left:279.60px;top:191.60px;width:30.30px;line-height:9.90px;text-align:left;color:#0d0d0d">13/12/23</span>
<div  style="left:312.60px;top:191.60px;width:35.60px;height:10.50px;background:#ececec;box-shadow:inset 0.75px 0 0 #c9c9c9, inset 0 0.7px 0 #c9c9c9;"></div>
<span class="c" style="left:314.80px;top:191.60px;width:30.70px;line-height:9.90px;text-align:left;color:#0d0d0d">14/12/23</span>
<div  style="left:348.20px;top:191.60px;width:50.40px;height:10.50px;background:#ececec;box-shadow:inset 0.75px 0 0 #c9c9c9, inset 0 0.7px 0 #c9c9c9;"></div>
<div  style="left:398.60px;top:191.60px;width:24.40px;height:10.50px;background:#ff0000;box-shadow:inset 0.75px 0 0 #c9c9c9, inset 0 0.8px 0 rgba(255,255,255,0.3);"></div>
<span class="c" style="left:400.80px;top:191.60px;width:19.50px;line-height:9.90px;text-align:left;color:#7a0000">P</span>
<div  style="left:423.00px;top:191.60px;width:16.00px;height:10.50px;background:#ececec;box-shadow:inset 0.75px 0 0 #c9c9c9, inset 0 0.7px 0 #c9c9c9;"></div>
<span class="c" style="left:425.20px;top:191.60px;width:11.10px;line-height:9.90px;text-align:right;color:#0d0d0d;overflow:visible">1</span>
<div  style="left:439.00px;top:191.60px;width:19.60px;height:10.50px;background:#ececec;box-shadow:inset 0.75px 0 0 #c9c9c9, inset 0 0.7px 0 #c9c9c9;"></div>
<div class="cb" style="left:446px;top:194px;border-color:#bebebe"></div>
<div  style="left:458.60px;top:191.60px;width:26.60px;height:10.50px;background:#ececec;box-shadow:inset 0.75px 0 0 #c9c9c9, inset 0 0.7px 0 #c9c9c9;"></div>
<span class="c" style="left:460.80px;top:191.60px;width:21.70px;line-height:9.90px;text-align:right;color:#0d0d0d;overflow:visible">32.00</span>
<div  style="left:485.20px;top:191.60px;width:79.50px;height:10.50px;background:#ececec;box-shadow:inset 0.75px 0 0 #c9c9c9, inset 0 0.7px 0 #c9c9c9;"></div>
<span class="c" style="left:487.40px;top:191.60px;width:74.60px;line-height:9.90px;text-align:left;color:#0d0d0d">FF10888-3</span>
<div  style="left:564.70px;top:191.60px;width:53.70px;height:10.50px;background:#ececec;box-shadow:inset 0.75px 0 0 #c9c9c9, inset 0 0.7px 0 #c9c9c9;"></div>
<span class="c" style="left:566.90px;top:191.60px;width:48.80px;line-height:9.90px;text-align:left;color:#0d0d0d">UPRIGHT 3</span>
<div  style="left:618.40px;top:191.60px;width:172.00px;height:10.50px;background:#008000;box-shadow:inset 0.75px 0 0 #c9c9c9, inset 0 0.8px 0 rgba(255,255,255,0.3);"></div>
<span class="c" style="left:620.60px;top:191.60px;width:167.10px;line-height:9.90px;text-align:left;color:#003800">25, 29, 42</span>
<div  style="left:790.40px;top:191.60px;width:22.90px;height:10.50px;background:#ececec;box-shadow:inset 0.75px 0 0 #c9c9c9, inset 0 0.7px 0 #c9c9c9;"></div>
<span class="c" style="left:792.60px;top:191.60px;width:18.00px;line-height:9.90px;text-align:right;color:#0d0d0d;overflow:visible">0.61</span>
<div  style="left:813.30px;top:191.60px;width:21.90px;height:10.50px;background:#ececec;box-shadow:inset 0.75px 0 0 #c9c9c9, inset 0 0.7px 0 #c9c9c9;"></div>
<span class="c" style="left:815.50px;top:191.60px;width:17.00px;line-height:9.90px;text-align:right;color:#0d0d0d;overflow:visible">0.00</span>
<div  style="left:835.20px;top:191.60px;width:26.90px;height:10.50px;background:#ececec;box-shadow:inset 0.75px 0 0 #c9c9c9, inset 0 0.7px 0 #c9c9c9;"></div>
<span class="c" style="left:837.40px;top:191.60px;width:22.00px;line-height:9.90px;text-align:right;color:#0d0d0d;overflow:visible">20.00</span>
<div  style="left:862.10px;top:191.60px;width:33.90px;height:10.50px;background:#ececec;box-shadow:inset 0.75px 0 0 #c9c9c9, inset 0 0.7px 0 #c9c9c9;"></div>
<div class="cb" style="left:876px;top:194px;border-color:#bebebe"><svg viewBox="0 0 7 7" width="6" height="6"><path d="M1.3 3.3 L3 5.2 L5.9 1.7" fill="none" stroke="#000" stroke-width="1.55"/></svg></div>
<div  style="left:896.00px;top:191.60px;width:37.20px;height:10.50px;background:#ececec;box-shadow:inset 0.75px 0 0 #c9c9c9, inset 0 0.7px 0 #c9c9c9;"></div>
<div class="cb" style="left:912px;top:194px;border-color:#bebebe"></div>
<div  style="left:933.20px;top:191.60px;width:22.00px;height:10.50px;background:#ececec;box-shadow:inset 0.75px 0 0 #c9c9c9, inset 0 0.7px 0 #c9c9c9;"></div>
<div class="cb" style="left:941px;top:194px;border-color:#bebebe"></div>
<div  style="left:955.20px;top:191.60px;width:30.32px;height:10.50px;background:#ececec;box-shadow:inset 0.75px 0 0 #c9c9c9, inset 0 0.7px 0 #c9c9c9;"></div>
<div class="cb" style="left:968px;top:194px;border-color:#bebebe"></div>
<div  style="left:985.52px;top:191.60px;width:52.08px;height:10.50px;background:#ececec;box-shadow:inset 0.75px 0 0 #c9c9c9, inset 0 0.7px 0 #c9c9c9;"></div>
<span class="c" style="left:987.72px;top:191.60px;width:47.18px;line-height:9.90px;text-align:left;color:#0d0d0d">HANNAH H</span>
<div  style="left:135.00px;top:202.10px;width:9.40px;height:10.50px;background:#ececec;box-shadow:inset 0 0.7px 0 #c9c9c9;"></div>
<div  style="left:144.40px;top:202.10px;width:14.85px;height:10.50px;background:#ececec;box-shadow:inset 0.75px 0 0 #c9c9c9, inset 0 0.7px 0 #c9c9c9;"></div>
<div class="cb" style="left:149px;top:205px;border-color:#bebebe"></div>
<div  style="left:159.25px;top:202.10px;width:26.95px;height:10.50px;background:#ececec;box-shadow:inset 0.75px 0 0 #c9c9c9, inset 0 0.7px 0 #c9c9c9;"></div>
<div class="cb" style="left:170px;top:205px;border-color:#bebebe"></div>
<div  style="left:186.20px;top:202.10px;width:50.60px;height:10.50px;background:#ff0000;box-shadow:inset 0.75px 0 0 #c9c9c9, inset 0 0.8px 0 rgba(255,255,255,0.3);"></div>
<span class="c" style="left:188.40px;top:202.10px;width:45.70px;line-height:9.90px;text-align:left;color:#7a0000">U0000000001026</span>
<div  style="left:236.80px;top:202.10px;width:12.72px;height:10.50px;background:#ececec;box-shadow:inset 0.75px 0 0 #c9c9c9, inset 0 0.7px 0 #c9c9c9;"></div>
<span class="c" style="left:239.00px;top:202.10px;width:7.82px;line-height:9.90px;text-align:right;color:#0d0d0d;overflow:visible">10</span>
<div  style="left:249.52px;top:202.10px;width:27.88px;height:10.50px;background:#ececec;box-shadow:inset 0.75px 0 0 #c9c9c9, inset 0 0.7px 0 #c9c9c9;"></div>
<span class="c" style="left:251.72px;top:202.10px;width:22.98px;line-height:9.90px;text-align:left;color:#0d0d0d">25</span>
<div  style="left:277.40px;top:202.10px;width:35.20px;height:10.50px;background:#ececec;box-shadow:inset 0.75px 0 0 #c9c9c9, inset 0 0.7px 0 #c9c9c9;"></div>
<span class="c" style="left:279.60px;top:202.10px;width:30.30px;line-height:9.90px;text-align:left;color:#0d0d0d">13/12/23</span>
<div  style="left:312.60px;top:202.10px;width:35.60px;height:10.50px;background:#ececec;box-shadow:inset 0.75px 0 0 #c9c9c9, inset 0 0.7px 0 #c9c9c9;"></div>
<span class="c" style="left:314.80px;top:202.10px;width:30.70px;line-height:9.90px;text-align:left;color:#0d0d0d">14/12/23</span>
<div  style="left:348.20px;top:202.10px;width:50.40px;height:10.50px;background:#ececec;box-shadow:inset 0.75px 0 0 #c9c9c9, inset 0 0.7px 0 #c9c9c9;"></div>
<div  style="left:398.60px;top:202.10px;width:24.40px;height:10.50px;background:#ff0000;box-shadow:inset 0.75px 0 0 #c9c9c9, inset 0 0.8px 0 rgba(255,255,255,0.3);"></div>
<span class="c" style="left:400.80px;top:202.10px;width:19.50px;line-height:9.90px;text-align:left;color:#7a0000">P</span>
<div  style="left:423.00px;top:202.10px;width:16.00px;height:10.50px;background:#ececec;box-shadow:inset 0.75px 0 0 #c9c9c9, inset 0 0.7px 0 #c9c9c9;"></div>
<span class="c" style="left:425.20px;top:202.10px;width:11.10px;line-height:9.90px;text-align:right;color:#0d0d0d;overflow:visible">1</span>
<div  style="left:439.00px;top:202.10px;width:19.60px;height:10.50px;background:#ececec;box-shadow:inset 0.75px 0 0 #c9c9c9, inset 0 0.7px 0 #c9c9c9;"></div>
<div class="cb" style="left:446px;top:205px;border-color:#bebebe"></div>
<div  style="left:458.60px;top:202.10px;width:26.60px;height:10.50px;background:#ececec;box-shadow:inset 0.75px 0 0 #c9c9c9, inset 0 0.7px 0 #c9c9c9;"></div>
<span class="c" style="left:460.80px;top:202.10px;width:21.70px;line-height:9.90px;text-align:right;color:#0d0d0d;overflow:visible">32.00</span>
<div  style="left:485.20px;top:202.10px;width:79.50px;height:10.50px;background:#ececec;box-shadow:inset 0.75px 0 0 #c9c9c9, inset 0 0.7px 0 #c9c9c9;"></div>
<span class="c" style="left:487.40px;top:202.10px;width:74.60px;line-height:9.90px;text-align:left;color:#0d0d0d">FF10888-4</span>
<div  style="left:564.70px;top:202.10px;width:53.70px;height:10.50px;background:#ececec;box-shadow:inset 0.75px 0 0 #c9c9c9, inset 0 0.7px 0 #c9c9c9;"></div>
<span class="c" style="left:566.90px;top:202.10px;width:48.80px;line-height:9.90px;text-align:left;color:#0d0d0d">UPRIGHT 4</span>
<div  style="left:618.40px;top:202.10px;width:172.00px;height:10.50px;background:#008000;box-shadow:inset 0.75px 0 0 #c9c9c9, inset 0 0.8px 0 rgba(255,255,255,0.3);"></div>
<span class="c" style="left:620.60px;top:202.10px;width:167.10px;line-height:9.90px;text-align:left;color:#003800">25, 29, 42</span>
<div  style="left:790.40px;top:202.10px;width:22.90px;height:10.50px;background:#ececec;box-shadow:inset 0.75px 0 0 #c9c9c9, inset 0 0.7px 0 #c9c9c9;"></div>
<span class="c" style="left:792.60px;top:202.10px;width:18.00px;line-height:9.90px;text-align:right;color:#0d0d0d;overflow:visible">0.61</span>
<div  style="left:813.30px;top:202.10px;width:21.90px;height:10.50px;background:#ececec;box-shadow:inset 0.75px 0 0 #c9c9c9, inset 0 0.7px 0 #c9c9c9;"></div>
<span class="c" style="left:815.50px;top:202.10px;width:17.00px;line-height:9.90px;text-align:right;color:#0d0d0d;overflow:visible">0.00</span>
<div  style="left:835.20px;top:202.10px;width:26.90px;height:10.50px;background:#ececec;box-shadow:inset 0.75px 0 0 #c9c9c9, inset 0 0.7px 0 #c9c9c9;"></div>
<span class="c" style="left:837.40px;top:202.10px;width:22.00px;line-height:9.90px;text-align:right;color:#0d0d0d;overflow:visible">20.00</span>
<div  style="left:862.10px;top:202.10px;width:33.90px;height:10.50px;background:#ececec;box-shadow:inset 0.75px 0 0 #c9c9c9, inset 0 0.7px 0 #c9c9c9;"></div>
<div class="cb" style="left:876px;top:205px;border-color:#bebebe"><svg viewBox="0 0 7 7" width="6" height="6"><path d="M1.3 3.3 L3 5.2 L5.9 1.7" fill="none" stroke="#000" stroke-width="1.55"/></svg></div>
<div  style="left:896.00px;top:202.10px;width:37.20px;height:10.50px;background:#ececec;box-shadow:inset 0.75px 0 0 #c9c9c9, inset 0 0.7px 0 #c9c9c9;"></div>
<div class="cb" style="left:912px;top:205px;border-color:#bebebe"></div>
<div  style="left:933.20px;top:202.10px;width:22.00px;height:10.50px;background:#ececec;box-shadow:inset 0.75px 0 0 #c9c9c9, inset 0 0.7px 0 #c9c9c9;"></div>
<div class="cb" style="left:941px;top:205px;border-color:#bebebe"></div>
<div  style="left:955.20px;top:202.10px;width:30.32px;height:10.50px;background:#ececec;box-shadow:inset 0.75px 0 0 #c9c9c9, inset 0 0.7px 0 #c9c9c9;"></div>
<div class="cb" style="left:968px;top:205px;border-color:#bebebe"></div>
<div  style="left:985.52px;top:202.10px;width:52.08px;height:10.50px;background:#ececec;box-shadow:inset 0.75px 0 0 #c9c9c9, inset 0 0.7px 0 #c9c9c9;"></div>
<span class="c" style="left:987.72px;top:202.10px;width:47.18px;line-height:9.90px;text-align:left;color:#0d0d0d">HANNAH H</span>
<div  style="left:135.00px;top:212.60px;width:9.40px;height:10.50px;background:#ececec;box-shadow:inset 0 0.7px 0 #c9c9c9;"></div>
<div  style="left:144.40px;top:212.60px;width:14.85px;height:10.50px;background:#ececec;box-shadow:inset 0.75px 0 0 #c9c9c9, inset 0 0.7px 0 #c9c9c9;"></div>
<div class="cb" style="left:149px;top:215px;border-color:#bebebe"></div>
<div  style="left:159.25px;top:212.60px;width:26.95px;height:10.50px;background:#ececec;box-shadow:inset 0.75px 0 0 #c9c9c9, inset 0 0.7px 0 #c9c9c9;"></div>
<div class="cb" style="left:170px;top:215px;border-color:#bebebe"></div>
<div  style="left:186.20px;top:212.60px;width:50.60px;height:10.50px;background:#ff0000;box-shadow:inset 0.75px 0 0 #c9c9c9, inset 0 0.8px 0 rgba(255,255,255,0.3);"></div>
<span class="c" style="left:188.40px;top:212.60px;width:45.70px;line-height:9.90px;text-align:left;color:#7a0000">U0000000001027</span>
<div  style="left:236.80px;top:212.60px;width:12.72px;height:10.50px;background:#ececec;box-shadow:inset 0.75px 0 0 #c9c9c9, inset 0 0.7px 0 #c9c9c9;"></div>
<span class="c" style="left:239.00px;top:212.60px;width:7.82px;line-height:9.90px;text-align:right;color:#0d0d0d;overflow:visible">10</span>
<div  style="left:249.52px;top:212.60px;width:27.88px;height:10.50px;background:#ececec;box-shadow:inset 0.75px 0 0 #c9c9c9, inset 0 0.7px 0 #c9c9c9;"></div>
<span class="c" style="left:251.72px;top:212.60px;width:22.98px;line-height:9.90px;text-align:left;color:#0d0d0d">25</span>
<div  style="left:277.40px;top:212.60px;width:35.20px;height:10.50px;background:#ececec;box-shadow:inset 0.75px 0 0 #c9c9c9, inset 0 0.7px 0 #c9c9c9;"></div>
<span class="c" style="left:279.60px;top:212.60px;width:30.30px;line-height:9.90px;text-align:left;color:#0d0d0d">13/12/23</span>
<div  style="left:312.60px;top:212.60px;width:35.60px;height:10.50px;background:#ececec;box-shadow:inset 0.75px 0 0 #c9c9c9, inset 0 0.7px 0 #c9c9c9;"></div>
<span class="c" style="left:314.80px;top:212.60px;width:30.70px;line-height:9.90px;text-align:left;color:#0d0d0d">14/12/23</span>
<div  style="left:348.20px;top:212.60px;width:50.40px;height:10.50px;background:#ececec;box-shadow:inset 0.75px 0 0 #c9c9c9, inset 0 0.7px 0 #c9c9c9;"></div>
<div  style="left:398.60px;top:212.60px;width:24.40px;height:10.50px;background:#ff0000;box-shadow:inset 0.75px 0 0 #c9c9c9, inset 0 0.8px 0 rgba(255,255,255,0.3);"></div>
<span class="c" style="left:400.80px;top:212.60px;width:19.50px;line-height:9.90px;text-align:left;color:#7a0000">P</span>
<div  style="left:423.00px;top:212.60px;width:16.00px;height:10.50px;background:#ececec;box-shadow:inset 0.75px 0 0 #c9c9c9, inset 0 0.7px 0 #c9c9c9;"></div>
<span class="c" style="left:425.20px;top:212.60px;width:11.10px;line-height:9.90px;text-align:right;color:#0d0d0d;overflow:visible">1</span>
<div  style="left:439.00px;top:212.60px;width:19.60px;height:10.50px;background:#ececec;box-shadow:inset 0.75px 0 0 #c9c9c9, inset 0 0.7px 0 #c9c9c9;"></div>
<div class="cb" style="left:446px;top:215px;border-color:#bebebe"></div>
<div  style="left:458.60px;top:212.60px;width:26.60px;height:10.50px;background:#ececec;box-shadow:inset 0.75px 0 0 #c9c9c9, inset 0 0.7px 0 #c9c9c9;"></div>
<span class="c" style="left:460.80px;top:212.60px;width:21.70px;line-height:9.90px;text-align:right;color:#0d0d0d;overflow:visible">3.00</span>
<div  style="left:485.20px;top:212.60px;width:79.50px;height:10.50px;background:#ececec;box-shadow:inset 0.75px 0 0 #c9c9c9, inset 0 0.7px 0 #c9c9c9;"></div>
<span class="c" style="left:487.40px;top:212.60px;width:74.60px;line-height:9.90px;text-align:left;color:#0d0d0d">FF10888-5</span>
<div  style="left:564.70px;top:212.60px;width:53.70px;height:10.50px;background:#ececec;box-shadow:inset 0.75px 0 0 #c9c9c9, inset 0 0.7px 0 #c9c9c9;"></div>
<span class="c" style="left:566.90px;top:212.60px;width:48.80px;line-height:9.90px;text-align:left;color:#0d0d0d">SHELF</span>
<div  style="left:618.40px;top:212.60px;width:172.00px;height:10.50px;background:#008000;box-shadow:inset 0.75px 0 0 #c9c9c9, inset 0 0.8px 0 rgba(255,255,255,0.3);"></div>
<span class="c" style="left:620.60px;top:212.60px;width:167.10px;line-height:9.90px;text-align:left;color:#003800">25, 29, 42</span>
<div  style="left:790.40px;top:212.60px;width:22.90px;height:10.50px;background:#ececec;box-shadow:inset 0.75px 0 0 #c9c9c9, inset 0 0.7px 0 #c9c9c9;"></div>
<span class="c" style="left:792.60px;top:212.60px;width:18.00px;line-height:9.90px;text-align:right;color:#0d0d0d;overflow:visible">2.89</span>
<div  style="left:813.30px;top:212.60px;width:21.90px;height:10.50px;background:#ececec;box-shadow:inset 0.75px 0 0 #c9c9c9, inset 0 0.7px 0 #c9c9c9;"></div>
<span class="c" style="left:815.50px;top:212.60px;width:17.00px;line-height:9.90px;text-align:right;color:#0d0d0d;overflow:visible">0.00</span>
<div  style="left:835.20px;top:212.60px;width:26.90px;height:10.50px;background:#ececec;box-shadow:inset 0.75px 0 0 #c9c9c9, inset 0 0.7px 0 #c9c9c9;"></div>
<span class="c" style="left:837.40px;top:212.60px;width:22.00px;line-height:9.90px;text-align:right;color:#0d0d0d;overflow:visible">80.00</span>
<div  style="left:862.10px;top:212.60px;width:33.90px;height:10.50px;background:#ececec;box-shadow:inset 0.75px 0 0 #c9c9c9, inset 0 0.7px 0 #c9c9c9;"></div>
<div class="cb" style="left:876px;top:215px;border-color:#bebebe"><svg viewBox="0 0 7 7" width="6" height="6"><path d="M1.3 3.3 L3 5.2 L5.9 1.7" fill="none" stroke="#000" stroke-width="1.55"/></svg></div>
<div  style="left:896.00px;top:212.60px;width:37.20px;height:10.50px;background:#ececec;box-shadow:inset 0.75px 0 0 #c9c9c9, inset 0 0.7px 0 #c9c9c9;"></div>
<div class="cb" style="left:912px;top:215px;border-color:#bebebe"></div>
<div  style="left:933.20px;top:212.60px;width:22.00px;height:10.50px;background:#ececec;box-shadow:inset 0.75px 0 0 #c9c9c9, inset 0 0.7px 0 #c9c9c9;"></div>
<div class="cb" style="left:941px;top:215px;border-color:#bebebe"></div>
<div  style="left:955.20px;top:212.60px;width:30.32px;height:10.50px;background:#ececec;box-shadow:inset 0.75px 0 0 #c9c9c9, inset 0 0.7px 0 #c9c9c9;"></div>
<div class="cb" style="left:968px;top:215px;border-color:#bebebe"></div>
<div  style="left:985.52px;top:212.60px;width:52.08px;height:10.50px;background:#ececec;box-shadow:inset 0.75px 0 0 #c9c9c9, inset 0 0.7px 0 #c9c9c9;"></div>
<span class="c" style="left:987.72px;top:212.60px;width:47.18px;line-height:9.90px;text-align:left;color:#0d0d0d">HANNAH H</span>
<div  style="left:135.00px;top:223.10px;width:9.40px;height:10.50px;background:#ececec;box-shadow:inset 0 0.7px 0 #c9c9c9;"></div>
<div  style="left:144.40px;top:223.10px;width:14.85px;height:10.50px;background:#ececec;box-shadow:inset 0.75px 0 0 #c9c9c9, inset 0 0.7px 0 #c9c9c9;"></div>
<div class="cb" style="left:149px;top:226px;border-color:#bebebe"></div>
<div  style="left:159.25px;top:223.10px;width:26.95px;height:10.50px;background:#ececec;box-shadow:inset 0.75px 0 0 #c9c9c9, inset 0 0.7px 0 #c9c9c9;"></div>
<div class="cb" style="left:170px;top:226px;border-color:#bebebe"></div>
<div  style="left:186.20px;top:223.10px;width:50.60px;height:10.50px;background:#ff0000;box-shadow:inset 0.75px 0 0 #c9c9c9, inset 0 0.8px 0 rgba(255,255,255,0.3);"></div>
<span class="c" style="left:188.40px;top:223.10px;width:45.70px;line-height:9.90px;text-align:left;color:#7a0000">U0000000001028</span>
<div  style="left:236.80px;top:223.10px;width:12.72px;height:10.50px;background:#ececec;box-shadow:inset 0.75px 0 0 #c9c9c9, inset 0 0.7px 0 #c9c9c9;"></div>
<span class="c" style="left:239.00px;top:223.10px;width:7.82px;line-height:9.90px;text-align:right;color:#0d0d0d;overflow:visible">10</span>
<div  style="left:249.52px;top:223.10px;width:27.88px;height:10.50px;background:#ececec;box-shadow:inset 0.75px 0 0 #c9c9c9, inset 0 0.7px 0 #c9c9c9;"></div>
<span class="c" style="left:251.72px;top:223.10px;width:22.98px;line-height:9.90px;text-align:left;color:#0d0d0d">25</span>
<div  style="left:277.40px;top:223.10px;width:35.20px;height:10.50px;background:#ececec;box-shadow:inset 0.75px 0 0 #c9c9c9, inset 0 0.7px 0 #c9c9c9;"></div>
<span class="c" style="left:279.60px;top:223.10px;width:30.30px;line-height:9.90px;text-align:left;color:#0d0d0d">13/12/23</span>
<div  style="left:312.60px;top:223.10px;width:35.60px;height:10.50px;background:#ececec;box-shadow:inset 0.75px 0 0 #c9c9c9, inset 0 0.7px 0 #c9c9c9;"></div>
<span class="c" style="left:314.80px;top:223.10px;width:30.70px;line-height:9.90px;text-align:left;color:#0d0d0d">14/12/23</span>
<div  style="left:348.20px;top:223.10px;width:50.40px;height:10.50px;background:#ececec;box-shadow:inset 0.75px 0 0 #c9c9c9, inset 0 0.7px 0 #c9c9c9;"></div>
<div  style="left:398.60px;top:223.10px;width:24.40px;height:10.50px;background:#ff0000;box-shadow:inset 0.75px 0 0 #c9c9c9, inset 0 0.8px 0 rgba(255,255,255,0.3);"></div>
<span class="c" style="left:400.80px;top:223.10px;width:19.50px;line-height:9.90px;text-align:left;color:#7a0000">P</span>
<div  style="left:423.00px;top:223.10px;width:16.00px;height:10.50px;background:#ececec;box-shadow:inset 0.75px 0 0 #c9c9c9, inset 0 0.7px 0 #c9c9c9;"></div>
<span class="c" style="left:425.20px;top:223.10px;width:11.10px;line-height:9.90px;text-align:right;color:#0d0d0d;overflow:visible">1</span>
<div  style="left:439.00px;top:223.10px;width:19.60px;height:10.50px;background:#ececec;box-shadow:inset 0.75px 0 0 #c9c9c9, inset 0 0.7px 0 #c9c9c9;"></div>
<div class="cb" style="left:446px;top:226px;border-color:#bebebe"></div>
<div  style="left:458.60px;top:223.10px;width:26.60px;height:10.50px;background:#ececec;box-shadow:inset 0.75px 0 0 #c9c9c9, inset 0 0.7px 0 #c9c9c9;"></div>
<span class="c" style="left:460.80px;top:223.10px;width:21.70px;line-height:9.90px;text-align:right;color:#0d0d0d;overflow:visible">21.00</span>
<div  style="left:485.20px;top:223.10px;width:79.50px;height:10.50px;background:#ececec;box-shadow:inset 0.75px 0 0 #c9c9c9, inset 0 0.7px 0 #c9c9c9;"></div>
<span class="c" style="left:487.40px;top:223.10px;width:74.60px;line-height:9.90px;text-align:left;color:#0d0d0d">FF10888-6</span>
<div  style="left:564.70px;top:223.10px;width:53.70px;height:10.50px;background:#ececec;box-shadow:inset 0.75px 0 0 #c9c9c9, inset 0 0.7px 0 #c9c9c9;"></div>
<span class="c" style="left:566.90px;top:223.10px;width:48.80px;line-height:9.90px;text-align:left;color:#0d0d0d">CASTOR SUPPOR</span>
<div  style="left:618.40px;top:223.10px;width:172.00px;height:10.50px;background:#008000;box-shadow:inset 0.75px 0 0 #c9c9c9, inset 0 0.8px 0 rgba(255,255,255,0.3);"></div>
<span class="c" style="left:620.60px;top:223.10px;width:167.10px;line-height:9.90px;text-align:left;color:#003800">25, 29, 42, 91</span>
<div  style="left:790.40px;top:223.10px;width:22.90px;height:10.50px;background:#ececec;box-shadow:inset 0.75px 0 0 #c9c9c9, inset 0 0.7px 0 #c9c9c9;"></div>
<span class="c" style="left:792.60px;top:223.10px;width:18.00px;line-height:9.90px;text-align:right;color:#0d0d0d;overflow:visible">2.23</span>
<div  style="left:813.30px;top:223.10px;width:21.90px;height:10.50px;background:#ececec;box-shadow:inset 0.75px 0 0 #c9c9c9, inset 0 0.7px 0 #c9c9c9;"></div>
<span class="c" style="left:815.50px;top:223.10px;width:17.00px;line-height:9.90px;text-align:right;color:#0d0d0d;overflow:visible">0.00</span>
<div  style="left:835.20px;top:223.10px;width:26.90px;height:10.50px;background:#ececec;box-shadow:inset 0.75px 0 0 #c9c9c9, inset 0 0.7px 0 #c9c9c9;"></div>
<span class="c" style="left:837.40px;top:223.10px;width:22.00px;line-height:9.90px;text-align:right;color:#0d0d0d;overflow:visible">40.00</span>
<div  style="left:862.10px;top:223.10px;width:33.90px;height:10.50px;background:#ececec;box-shadow:inset 0.75px 0 0 #c9c9c9, inset 0 0.7px 0 #c9c9c9;"></div>
<div class="cb" style="left:876px;top:226px;border-color:#bebebe"><svg viewBox="0 0 7 7" width="6" height="6"><path d="M1.3 3.3 L3 5.2 L5.9 1.7" fill="none" stroke="#000" stroke-width="1.55"/></svg></div>
<div  style="left:896.00px;top:223.10px;width:37.20px;height:10.50px;background:#ececec;box-shadow:inset 0.75px 0 0 #c9c9c9, inset 0 0.7px 0 #c9c9c9;"></div>
<div class="cb" style="left:912px;top:226px;border-color:#bebebe"></div>
<div  style="left:933.20px;top:223.10px;width:22.00px;height:10.50px;background:#ececec;box-shadow:inset 0.75px 0 0 #c9c9c9, inset 0 0.7px 0 #c9c9c9;"></div>
<div class="cb" style="left:941px;top:226px;border-color:#bebebe"></div>
<div  style="left:955.20px;top:223.10px;width:30.32px;height:10.50px;background:#ececec;box-shadow:inset 0.75px 0 0 #c9c9c9, inset 0 0.7px 0 #c9c9c9;"></div>
<div class="cb" style="left:968px;top:226px;border-color:#bebebe"></div>
<div  style="left:985.52px;top:223.10px;width:52.08px;height:10.50px;background:#ececec;box-shadow:inset 0.75px 0 0 #c9c9c9, inset 0 0.7px 0 #c9c9c9;"></div>
<span class="c" style="left:987.72px;top:223.10px;width:47.18px;line-height:9.90px;text-align:left;color:#0d0d0d">HANNAH H</span>
<div  style="left:135.00px;top:233.60px;width:9.40px;height:10.50px;background:#ececec;box-shadow:inset 0 0.7px 0 #c9c9c9;"></div>
<div  style="left:144.40px;top:233.60px;width:14.85px;height:10.50px;background:#ececec;box-shadow:inset 0.75px 0 0 #c9c9c9, inset 0 0.7px 0 #c9c9c9;"></div>
<div class="cb" style="left:149px;top:236px;border-color:#bebebe"></div>
<div  style="left:159.25px;top:233.60px;width:26.95px;height:10.50px;background:#ececec;box-shadow:inset 0.75px 0 0 #c9c9c9, inset 0 0.7px 0 #c9c9c9;"></div>
<div class="cb" style="left:170px;top:236px;border-color:#bebebe"></div>
<div  style="left:186.20px;top:233.60px;width:50.60px;height:10.50px;background:#ff0000;box-shadow:inset 0.75px 0 0 #c9c9c9, inset 0 0.8px 0 rgba(255,255,255,0.3);"></div>
<span class="c" style="left:188.40px;top:233.60px;width:45.70px;line-height:9.90px;text-align:left;color:#7a0000">U0000000001029</span>
<div  style="left:236.80px;top:233.60px;width:12.72px;height:10.50px;background:#ececec;box-shadow:inset 0.75px 0 0 #c9c9c9, inset 0 0.7px 0 #c9c9c9;"></div>
<span class="c" style="left:239.00px;top:233.60px;width:7.82px;line-height:9.90px;text-align:right;color:#0d0d0d;overflow:visible">10</span>
<div  style="left:249.52px;top:233.60px;width:27.88px;height:10.50px;background:#ececec;box-shadow:inset 0.75px 0 0 #c9c9c9, inset 0 0.7px 0 #c9c9c9;"></div>
<span class="c" style="left:251.72px;top:233.60px;width:22.98px;line-height:9.90px;text-align:left;color:#0d0d0d">25</span>
<div  style="left:277.40px;top:233.60px;width:35.20px;height:10.50px;background:#ececec;box-shadow:inset 0.75px 0 0 #c9c9c9, inset 0 0.7px 0 #c9c9c9;"></div>
<span class="c" style="left:279.60px;top:233.60px;width:30.30px;line-height:9.90px;text-align:left;color:#0d0d0d">13/12/23</span>
<div  style="left:312.60px;top:233.60px;width:35.60px;height:10.50px;background:#ececec;box-shadow:inset 0.75px 0 0 #c9c9c9, inset 0 0.7px 0 #c9c9c9;"></div>
<span class="c" style="left:314.80px;top:233.60px;width:30.70px;line-height:9.90px;text-align:left;color:#0d0d0d">14/12/23</span>
<div  style="left:348.20px;top:233.60px;width:50.40px;height:10.50px;background:#ececec;box-shadow:inset 0.75px 0 0 #c9c9c9, inset 0 0.7px 0 #c9c9c9;"></div>
<div  style="left:398.60px;top:233.60px;width:24.40px;height:10.50px;background:#ff0000;box-shadow:inset 0.75px 0 0 #c9c9c9, inset 0 0.8px 0 rgba(255,255,255,0.3);"></div>
<span class="c" style="left:400.80px;top:233.60px;width:19.50px;line-height:9.90px;text-align:left;color:#7a0000">P</span>
<div  style="left:423.00px;top:233.60px;width:16.00px;height:10.50px;background:#ececec;box-shadow:inset 0.75px 0 0 #c9c9c9, inset 0 0.7px 0 #c9c9c9;"></div>
<span class="c" style="left:425.20px;top:233.60px;width:11.10px;line-height:9.90px;text-align:right;color:#0d0d0d;overflow:visible">1</span>
<div  style="left:439.00px;top:233.60px;width:19.60px;height:10.50px;background:#ececec;box-shadow:inset 0.75px 0 0 #c9c9c9, inset 0 0.7px 0 #c9c9c9;"></div>
<div class="cb" style="left:446px;top:236px;border-color:#bebebe"></div>
<div  style="left:458.60px;top:233.60px;width:26.60px;height:10.50px;background:#ececec;box-shadow:inset 0.75px 0 0 #c9c9c9, inset 0 0.7px 0 #c9c9c9;"></div>
<span class="c" style="left:460.80px;top:233.60px;width:21.70px;line-height:9.90px;text-align:right;color:#0d0d0d;overflow:visible">55.00</span>
<div  style="left:485.20px;top:233.60px;width:79.50px;height:10.50px;background:#ececec;box-shadow:inset 0.75px 0 0 #c9c9c9, inset 0 0.7px 0 #c9c9c9;"></div>
<span class="c" style="left:487.40px;top:233.60px;width:74.60px;line-height:9.90px;text-align:left;color:#0d0d0d">FF10888-7</span>
<div  style="left:564.70px;top:233.60px;width:53.70px;height:10.50px;background:#ececec;box-shadow:inset 0.75px 0 0 #c9c9c9, inset 0 0.7px 0 #c9c9c9;"></div>
<span class="c" style="left:566.90px;top:233.60px;width:48.80px;line-height:9.90px;text-align:left;color:#0d0d0d">200mm SQ PLATE</span>
<div  style="left:618.40px;top:233.60px;width:172.00px;height:10.50px;background:#008000;box-shadow:inset 0.75px 0 0 #c9c9c9, inset 0 0.8px 0 rgba(255,255,255,0.3);"></div>
<span class="c" style="left:620.60px;top:233.60px;width:167.10px;line-height:9.90px;text-align:left;color:#003800">25, 29</span>
<div  style="left:790.40px;top:233.60px;width:22.90px;height:10.50px;background:#ececec;box-shadow:inset 0.75px 0 0 #c9c9c9, inset 0 0.7px 0 #c9c9c9;"></div>
<span class="c" style="left:792.60px;top:233.60px;width:18.00px;line-height:9.90px;text-align:right;color:#0d0d0d;overflow:visible">0.16</span>
<div  style="left:813.30px;top:233.60px;width:21.90px;height:10.50px;background:#ececec;box-shadow:inset 0.75px 0 0 #c9c9c9, inset 0 0.7px 0 #c9c9c9;"></div>
<span class="c" style="left:815.50px;top:233.60px;width:17.00px;line-height:9.90px;text-align:right;color:#0d0d0d;overflow:visible">0.00</span>
<div  style="left:835.20px;top:233.60px;width:26.90px;height:10.50px;background:#ececec;box-shadow:inset 0.75px 0 0 #c9c9c9, inset 0 0.7px 0 #c9c9c9;"></div>
<span class="c" style="left:837.40px;top:233.60px;width:22.00px;line-height:9.90px;text-align:right;color:#0d0d0d;overflow:visible">20.00</span>
<div  style="left:862.10px;top:233.60px;width:33.90px;height:10.50px;background:#ececec;box-shadow:inset 0.75px 0 0 #c9c9c9, inset 0 0.7px 0 #c9c9c9;"></div>
<div class="cb" style="left:876px;top:236px;border-color:#bebebe"><svg viewBox="0 0 7 7" width="6" height="6"><path d="M1.3 3.3 L3 5.2 L5.9 1.7" fill="none" stroke="#000" stroke-width="1.55"/></svg></div>
<div  style="left:896.00px;top:233.60px;width:37.20px;height:10.50px;background:#ececec;box-shadow:inset 0.75px 0 0 #c9c9c9, inset 0 0.7px 0 #c9c9c9;"></div>
<div class="cb" style="left:912px;top:236px;border-color:#bebebe"></div>
<div  style="left:933.20px;top:233.60px;width:22.00px;height:10.50px;background:#ececec;box-shadow:inset 0.75px 0 0 #c9c9c9, inset 0 0.7px 0 #c9c9c9;"></div>
<div class="cb" style="left:941px;top:236px;border-color:#bebebe"></div>
<div  style="left:955.20px;top:233.60px;width:30.32px;height:10.50px;background:#ececec;box-shadow:inset 0.75px 0 0 #c9c9c9, inset 0 0.7px 0 #c9c9c9;"></div>
<div class="cb" style="left:968px;top:236px;border-color:#bebebe"></div>
<div  style="left:985.52px;top:233.60px;width:52.08px;height:10.50px;background:#ececec;box-shadow:inset 0.75px 0 0 #c9c9c9, inset 0 0.7px 0 #c9c9c9;"></div>
<span class="c" style="left:987.72px;top:233.60px;width:47.18px;line-height:9.90px;text-align:left;color:#0d0d0d">HANNAH H</span>
<div  style="left:135.00px;top:244.10px;width:9.40px;height:10.50px;background:#ececec;box-shadow:inset 0 0.7px 0 #c9c9c9;"></div>
<div  style="left:144.40px;top:244.10px;width:14.85px;height:10.50px;background:#ececec;box-shadow:inset 0.75px 0 0 #c9c9c9, inset 0 0.7px 0 #c9c9c9;"></div>
<div class="cb" style="left:149px;top:247px;border-color:#bebebe"></div>
<div  style="left:159.25px;top:244.10px;width:26.95px;height:10.50px;background:#ececec;box-shadow:inset 0.75px 0 0 #c9c9c9, inset 0 0.7px 0 #c9c9c9;"></div>
<div class="cb" style="left:170px;top:247px;border-color:#bebebe"></div>
<div  style="left:186.20px;top:244.10px;width:50.60px;height:10.50px;background:#ff0000;box-shadow:inset 0.75px 0 0 #c9c9c9, inset 0 0.8px 0 rgba(255,255,255,0.3);"></div>
<span class="c" style="left:188.40px;top:244.10px;width:45.70px;line-height:9.90px;text-align:left;color:#7a0000">U0000000000299</span>
<div  style="left:236.80px;top:244.10px;width:12.72px;height:10.50px;background:#ececec;box-shadow:inset 0.75px 0 0 #c9c9c9, inset 0 0.7px 0 #c9c9c9;"></div>
<span class="c" style="left:239.00px;top:244.10px;width:7.82px;line-height:9.90px;text-align:right;color:#0d0d0d;overflow:visible">5</span>
<div  style="left:249.52px;top:244.10px;width:27.88px;height:10.50px;background:#ececec;box-shadow:inset 0.75px 0 0 #c9c9c9, inset 0 0.7px 0 #c9c9c9;"></div>
<span class="c" style="left:251.72px;top:244.10px;width:22.98px;line-height:9.90px;text-align:left;color:#0d0d0d">1</span>
<div  style="left:277.40px;top:244.10px;width:35.20px;height:10.50px;background:#ececec;box-shadow:inset 0.75px 0 0 #c9c9c9, inset 0 0.7px 0 #c9c9c9;"></div>
<span class="c" style="left:279.60px;top:244.10px;width:30.30px;line-height:9.90px;text-align:left;color:#0d0d0d">14/12/23</span>
<div  style="left:312.60px;top:244.10px;width:35.60px;height:10.50px;background:#ececec;box-shadow:inset 0.75px 0 0 #c9c9c9, inset 0 0.7px 0 #c9c9c9;"></div>
<span class="c" style="left:314.80px;top:244.10px;width:30.70px;line-height:9.90px;text-align:left;color:#0d0d0d">15/12/23</span>
<div  style="left:348.20px;top:244.10px;width:50.40px;height:10.50px;background:#ececec;box-shadow:inset 0.75px 0 0 #c9c9c9, inset 0 0.7px 0 #c9c9c9;"></div>
<div  style="left:398.60px;top:244.10px;width:24.40px;height:10.50px;background:#ff0000;box-shadow:inset 0.75px 0 0 #c9c9c9, inset 0 0.8px 0 rgba(255,255,255,0.3);"></div>
<span class="c" style="left:400.80px;top:244.10px;width:19.50px;line-height:9.90px;text-align:left;color:#7a0000">P</span>
<div  style="left:423.00px;top:244.10px;width:16.00px;height:10.50px;background:#ececec;box-shadow:inset 0.75px 0 0 #c9c9c9, inset 0 0.7px 0 #c9c9c9;"></div>
<span class="c" style="left:425.20px;top:244.10px;width:11.10px;line-height:9.90px;text-align:right;color:#0d0d0d;overflow:visible">0</span>
<div  style="left:439.00px;top:244.10px;width:19.60px;height:10.50px;background:#ececec;box-shadow:inset 0.75px 0 0 #c9c9c9, inset 0 0.7px 0 #c9c9c9;"></div>
<div class="cb" style="left:446px;top:247px;border-color:#bebebe"></div>
<div  style="left:458.60px;top:244.10px;width:26.60px;height:10.50px;background:#ececec;box-shadow:inset 0.75px 0 0 #c9c9c9, inset 0 0.7px 0 #c9c9c9;"></div>
<span class="c" style="left:460.80px;top:244.10px;width:21.70px;line-height:9.90px;text-align:right;color:#0d0d0d;overflow:visible">143.00</span>
<div  style="left:485.20px;top:244.10px;width:79.50px;height:10.50px;background:#ececec;box-shadow:inset 0.75px 0 0 #c9c9c9, inset 0 0.7px 0 #c9c9c9;"></div>
<span class="c" style="left:487.40px;top:244.10px;width:74.60px;line-height:9.90px;text-align:left;color:#0d0d0d">DRW0003</span>
<div  style="left:564.70px;top:244.10px;width:53.70px;height:10.50px;background:#ececec;box-shadow:inset 0.75px 0 0 #c9c9c9, inset 0 0.7px 0 #c9c9c9;"></div>
<span class="c" style="left:566.90px;top:244.10px;width:48.80px;line-height:9.90px;text-align:left;color:#0d0d0d">SHOTSCOPE TEC</span>
<div  style="left:618.40px;top:244.10px;width:172.00px;height:10.50px;background:#008000;box-shadow:inset 0.75px 0 0 #c9c9c9, inset 0 0.8px 0 rgba(255,255,255,0.3);"></div>
<span class="c" style="left:620.60px;top:244.10px;width:167.10px;line-height:9.90px;text-align:left;color:#003800">1, 27, 29, 42, 80, 79, 81, 79, 80, 95</span>
<div  style="left:790.40px;top:244.10px;width:22.90px;height:10.50px;background:#ececec;box-shadow:inset 0.75px 0 0 #c9c9c9, inset 0 0.7px 0 #c9c9c9;"></div>
<span class="c" style="left:792.60px;top:244.10px;width:18.00px;line-height:9.90px;text-align:right;color:#0d0d0d;overflow:visible">5.03</span>
<div  style="left:813.30px;top:244.10px;width:21.90px;height:10.50px;background:#ececec;box-shadow:inset 0.75px 0 0 #c9c9c9, inset 0 0.7px 0 #c9c9c9;"></div>
<span class="c" style="left:815.50px;top:244.10px;width:17.00px;line-height:9.90px;text-align:right;color:#0d0d0d;overflow:visible">0.00</span>
<div  style="left:835.20px;top:244.10px;width:26.90px;height:10.50px;background:#ececec;box-shadow:inset 0.75px 0 0 #c9c9c9, inset 0 0.7px 0 #c9c9c9;"></div>
<span class="c" style="left:837.40px;top:244.10px;width:22.00px;line-height:9.90px;text-align:right;color:#0d0d0d;overflow:visible">50.00</span>
<div  style="left:862.10px;top:244.10px;width:33.90px;height:10.50px;background:#ececec;box-shadow:inset 0.75px 0 0 #c9c9c9, inset 0 0.7px 0 #c9c9c9;"></div>
<div class="cb" style="left:876px;top:247px;border-color:#bebebe"><svg viewBox="0 0 7 7" width="6" height="6"><path d="M1.3 3.3 L3 5.2 L5.9 1.7" fill="none" stroke="#000" stroke-width="1.55"/></svg></div>
<div  style="left:896.00px;top:244.10px;width:37.20px;height:10.50px;background:#ececec;box-shadow:inset 0.75px 0 0 #c9c9c9, inset 0 0.7px 0 #c9c9c9;"></div>
<div class="cb" style="left:912px;top:247px;border-color:#bebebe"></div>
<div  style="left:933.20px;top:244.10px;width:22.00px;height:10.50px;background:#ececec;box-shadow:inset 0.75px 0 0 #c9c9c9, inset 0 0.7px 0 #c9c9c9;"></div>
<div class="cb" style="left:941px;top:247px;border-color:#bebebe"></div>
<div  style="left:955.20px;top:244.10px;width:30.32px;height:10.50px;background:#ececec;box-shadow:inset 0.75px 0 0 #c9c9c9, inset 0 0.7px 0 #c9c9c9;"></div>
<div class="cb" style="left:968px;top:247px;border-color:#bebebe"></div>
<div  style="left:985.52px;top:244.10px;width:52.08px;height:10.50px;background:#ececec;box-shadow:inset 0.75px 0 0 #c9c9c9, inset 0 0.7px 0 #c9c9c9;"></div>
<div  style="left:135.00px;top:254.60px;width:9.40px;height:10.50px;background:#ececec;box-shadow:inset 0 0.7px 0 #c9c9c9;"></div>
<div  style="left:144.40px;top:254.60px;width:14.85px;height:10.50px;background:#ececec;box-shadow:inset 0.75px 0 0 #c9c9c9, inset 0 0.7px 0 #c9c9c9;"></div>
<div class="cb" style="left:149px;top:257px;border-color:#bebebe"></div>
<div  style="left:159.25px;top:254.60px;width:26.95px;height:10.50px;background:#ececec;box-shadow:inset 0.75px 0 0 #c9c9c9, inset 0 0.7px 0 #c9c9c9;"></div>
<div class="cb" style="left:170px;top:257px;border-color:#bebebe"></div>
<div  style="left:186.20px;top:254.60px;width:50.60px;height:10.50px;background:#ececec;box-shadow:inset 0.75px 0 0 #c9c9c9, inset 0 0.7px 0 #c9c9c9;"></div>
<span class="c" style="left:188.40px;top:254.60px;width:45.70px;line-height:9.90px;text-align:left;color:#0d0d0d">U0000000000321</span>
<div  style="left:236.80px;top:254.60px;width:12.72px;height:10.50px;background:#ececec;box-shadow:inset 0.75px 0 0 #c9c9c9, inset 0 0.7px 0 #c9c9c9;"></div>
<span class="c" style="left:239.00px;top:254.60px;width:7.82px;line-height:9.90px;text-align:right;color:#0d0d0d;overflow:visible">10</span>
<div  style="left:249.52px;top:254.60px;width:27.88px;height:10.50px;background:#ececec;box-shadow:inset 0.75px 0 0 #c9c9c9, inset 0 0.7px 0 #c9c9c9;"></div>
<span class="c" style="left:251.72px;top:254.60px;width:22.98px;line-height:9.90px;text-align:left;color:#0d0d0d">27</span>
<div  style="left:277.40px;top:254.60px;width:35.20px;height:10.50px;background:#ececec;box-shadow:inset 0.75px 0 0 #c9c9c9, inset 0 0.7px 0 #c9c9c9;"></div>
<span class="c" style="left:279.60px;top:254.60px;width:30.30px;line-height:9.90px;text-align:left;color:#0d0d0d">14/12/23</span>
<div  style="left:312.60px;top:254.60px;width:35.60px;height:10.50px;background:#ececec;box-shadow:inset 0.75px 0 0 #c9c9c9, inset 0 0.7px 0 #c9c9c9;"></div>
<span class="c" style="left:314.80px;top:254.60px;width:30.70px;line-height:9.90px;text-align:left;color:#0d0d0d">15/12/23</span>
<div  style="left:348.20px;top:254.60px;width:50.40px;height:10.50px;background:#ececec;box-shadow:inset 0.75px 0 0 #c9c9c9, inset 0 0.7px 0 #c9c9c9;"></div>
<span class="c" style="left:350.40px;top:254.60px;width:45.50px;line-height:9.90px;text-align:left;color:#0d0d0d">L42892-L68</span>
<div  style="left:398.60px;top:254.60px;width:24.40px;height:10.50px;background:#ececec;box-shadow:inset 0.75px 0 0 #c9c9c9, inset 0 0.7px 0 #c9c9c9;"></div>
<span class="c" style="left:400.80px;top:254.60px;width:19.50px;line-height:9.90px;text-align:left;color:#0d0d0d">S</span>
<div  style="left:423.00px;top:254.60px;width:16.00px;height:10.50px;background:#ececec;box-shadow:inset 0.75px 0 0 #c9c9c9, inset 0 0.7px 0 #c9c9c9;"></div>
<span class="c" style="left:425.20px;top:254.60px;width:11.10px;line-height:9.90px;text-align:right;color:#0d0d0d;overflow:visible">0</span>
<div  style="left:439.00px;top:254.60px;width:19.60px;height:10.50px;background:#ececec;box-shadow:inset 0.75px 0 0 #c9c9c9, inset 0 0.7px 0 #c9c9c9;"></div>
<div class="cb" style="left:446px;top:257px;border-color:#bebebe"><svg viewBox="0 0 7 7" width="6" height="6"><path d="M1.3 3.3 L3 5.2 L5.9 1.7" fill="none" stroke="#000" stroke-width="1.55"/></svg></div>
<div  style="left:458.60px;top:254.60px;width:26.60px;height:10.50px;background:#ececec;box-shadow:inset 0.75px 0 0 #c9c9c9, inset 0 0.7px 0 #c9c9c9;"></div>
<span class="c" style="left:460.80px;top:254.60px;width:21.70px;line-height:9.90px;text-align:right;color:#0d0d0d;overflow:visible">9.00</span>
<div  style="left:485.20px;top:254.60px;width:79.50px;height:10.50px;background:#ececec;box-shadow:inset 0.75px 0 0 #c9c9c9, inset 0 0.7px 0 #c9c9c9;"></div>
<span class="c" style="left:487.40px;top:254.60px;width:74.60px;line-height:9.90px;text-align:left;color:#0d0d0d">RM930024A002</span>
<div  style="left:564.70px;top:254.60px;width:53.70px;height:10.50px;background:#ececec;box-shadow:inset 0.75px 0 0 #c9c9c9, inset 0 0.7px 0 #c9c9c9;"></div>
<span class="c" style="left:566.90px;top:254.60px;width:48.80px;line-height:9.90px;text-align:left;color:#0d0d0d">HI-DEX 1U PANEL</span>
<div  style="left:618.40px;top:254.60px;width:172.00px;height:10.50px;background:#008000;box-shadow:inset 0.75px 0 0 #c9c9c9, inset 0 0.8px 0 rgba(255,255,255,0.3);"></div>
<span class="c" style="left:620.60px;top:254.60px;width:167.10px;line-height:9.90px;text-align:left;color:#003800">27, 75, 29, 42, 42, 79, 81, 79, 95</span>
<div  style="left:790.40px;top:254.60px;width:22.90px;height:10.50px;background:#ececec;box-shadow:inset 0.75px 0 0 #c9c9c9, inset 0 0.7px 0 #c9c9c9;"></div>
<span class="c" style="left:792.60px;top:254.60px;width:18.00px;line-height:9.90px;text-align:right;color:#0d0d0d;overflow:visible">1.34</span>
<div  style="left:813.30px;top:254.60px;width:21.90px;height:10.50px;background:#ececec;box-shadow:inset 0.75px 0 0 #c9c9c9, inset 0 0.7px 0 #c9c9c9;"></div>
<span class="c" style="left:815.50px;top:254.60px;width:17.00px;line-height:9.90px;text-align:right;color:#0d0d0d;overflow:visible">0.18</span>
<div  style="left:835.20px;top:254.60px;width:26.90px;height:10.50px;background:#ececec;box-shadow:inset 0.75px 0 0 #c9c9c9, inset 0 0.7px 0 #c9c9c9;"></div>
<span class="c" style="left:837.40px;top:254.60px;width:22.00px;line-height:9.90px;text-align:right;color:#0d0d0d;overflow:visible">4.00</span>
<div  style="left:862.10px;top:254.60px;width:33.90px;height:10.50px;background:#ececec;box-shadow:inset 0.75px 0 0 #c9c9c9, inset 0 0.7px 0 #c9c9c9;"></div>
<div class="cb" style="left:876px;top:257px;border-color:#bebebe"></div>
<div  style="left:896.00px;top:254.60px;width:37.20px;height:10.50px;background:#ececec;box-shadow:inset 0.75px 0 0 #c9c9c9, inset 0 0.7px 0 #c9c9c9;"></div>
<div class="cb" style="left:912px;top:257px;border-color:#bebebe"></div>
<div  style="left:933.20px;top:254.60px;width:22.00px;height:10.50px;background:#ececec;box-shadow:inset 0.75px 0 0 #c9c9c9, inset 0 0.7px 0 #c9c9c9;"></div>
<div class="cb" style="left:941px;top:257px;border-color:#bebebe"></div>
<div  style="left:955.20px;top:254.60px;width:30.32px;height:10.50px;background:#ececec;box-shadow:inset 0.75px 0 0 #c9c9c9, inset 0 0.7px 0 #c9c9c9;"></div>
<div class="cb" style="left:968px;top:257px;border-color:#bebebe"></div>
<div  style="left:985.52px;top:254.60px;width:52.08px;height:10.50px;background:#ececec;box-shadow:inset 0.75px 0 0 #c9c9c9, inset 0 0.7px 0 #c9c9c9;"></div>
<div  style="left:1015.20px;top:98.80px;width:8.80px;height:165.80px;background:#c3c3c3;"></div>
<div  style="left:1015.20px;top:98.80px;width:8.80px;height:11.00px;background:#2b93c6;"></div>
<div class="au" style="left:1017.7px;top:103.4px"></div>
<div  style="left:1015.20px;top:117.70px;width:8.80px;height:4.00px;background:#2389bb;"></div>
<div  style="left:1015.20px;top:255.80px;width:8.80px;height:9.00px;background:#2389bb;"></div>
<div class="ad" style="left:1017.7px;top:259.2px"></div>
<div  style="left:135.00px;top:264.60px;width:889.00px;height:8.70px;background:#c3c3c3;"></div>
<div  style="left:135.00px;top:264.60px;width:716.00px;height:8.70px;background:#2389bb;"></div>
<div  style="left:135.00px;top:264.60px;width:2.20px;height:8.70px;background:#032b47;"></div>
<div class="al" style="left:140.7px;top:267.4px"></div>
<div  style="left:1006.50px;top:264.60px;width:8.50px;height:8.70px;background:#2389bb;"></div>
<div class="ar" style="left:1009.6px;top:267.4px"></div>
<div  style="left:0.00px;top:273.20px;width:1024.00px;height:4.00px;background:#f4fafd;"></div>
<div  style="left:0.00px;top:277.20px;width:1024.00px;height:8.20px;background:#238cbf;"></div>
<span class="t" style="left:1.20px;top:276.70px;color:#e6f3fa;font-size:5.7px;line-height:9px">Multi Level Pegging - Trial kit up and down</span>
<svg style="position:absolute;left:1016.7px;top:278.6px" width="3.8" height="4.7" viewBox="0 0 7.6 11.2" preserveAspectRatio="none"><path d="M1.6 0.8 H6 V5.6 H1.6 Z" fill="none" stroke="#fff" stroke-width="1.5"/><path d="M4.9 1 V5.4" stroke="#fff" stroke-width="1.6"/><path d="M0.2 6.2 H7.4" stroke="#fff" stroke-width="1.5"/><path d="M3.8 6.4 V11" stroke="#fff" stroke-width="1.4"/></svg>
<div  style="left:0.00px;top:285.40px;width:1024.00px;height:1.80px;background:#dcf0fa;"></div>
<div  style="left:0.00px;top:287.20px;width:1024.00px;height:110.40px;background:#fff;"></div>
<div  style="left:0.00px;top:287.20px;width:1.00px;height:19.00px;background:#238cbf;"></div>
<div  style="left:1023.00px;top:287.20px;width:1.00px;height:110.40px;background:#238cbf;"></div>
<div  style="left:1.00px;top:287.20px;width:1022.00px;height:9.80px;background:#043a5e;"></div>
<span class="t" style="left:1px;top:288.2px;width:1022px;text-align:center;color:#dfeaf3;font-size:5.5px;line-height:9px">RM_zProductionPlannerJobs_1: Summary</span>
<div  style="left:1.00px;top:296.60px;width:966.52px;height:9.70px;background:#043a5e;"></div>
<div  style="left:1.00px;top:296.60px;width:23.40px;height:9.70px;background:#043a5e;box-shadow:inset 0.6px 0 0 #3f6f92, inset -0.6px 0 0 #3f6f92, inset 0 0.6px 0 #2b5d82;"></div>
<div  style="left:24.40px;top:296.60px;width:27.12px;height:9.70px;background:#043a5e;box-shadow:inset 0.6px 0 0 #3f6f92, inset -0.6px 0 0 #3f6f92, inset 0 0.6px 0 #2b5d82;"></div>
<div  style="left:51.52px;top:296.60px;width:51.00px;height:9.70px;background:#043a5e;box-shadow:inset 0.6px 0 0 #3f6f92, inset -0.6px 0 0 #3f6f92, inset 0 0.6px 0 #2b5d82;"></div>
<div  style="left:102.52px;top:296.60px;width:12.08px;height:9.70px;background:#043a5e;box-shadow:inset 0.6px 0 0 #3f6f92, inset -0.6px 0 0 #3f6f92, inset 0 0.6px 0 #2b5d82;"></div>
<div  style="left:114.60px;top:296.60px;width:28.00px;height:9.70px;background:#043a5e;box-shadow:inset 0.6px 0 0 #3f6f92, inset -0.6px 0 0 #3f6f92, inset 0 0.6px 0 #2b5d82;"></div>
<div  style="left:142.60px;top:296.60px;width:38.70px;height:9.70px;background:#043a5e;box-shadow:inset 0.6px 0 0 #3f6f92, inset -0.6px 0 0 #3f6f92, inset 0 0.6px 0 #2b5d82;"></div>
<div  style="left:181.30px;top:296.60px;width:39.50px;height:9.70px;background:#043a5e;box-shadow:inset 0.6px 0 0 #3f6f92, inset -0.6px 0 0 #3f6f92, inset 0 0.6px 0 #2b5d82;"></div>
<div  style="left:220.80px;top:296.60px;width:49.40px;height:9.70px;background:#043a5e;box-shadow:inset 0.6px 0 0 #3f6f92, inset -0.6px 0 0 #3f6f92, inset 0 0.6px 0 #2b5d82;"></div>
<div  style="left:270.20px;top:296.60px;width:24.80px;height:9.70px;background:#043a5e;box-shadow:inset 0.6px 0 0 #3f6f92, inset -0.6px 0 0 #3f6f92, inset 0 0.6px 0 #2b5d82;"></div>
<div  style="left:295.00px;top:296.60px;width:16.40px;height:9.70px;background:#043a5e;box-shadow:inset 0.6px 0 0 #3f6f92, inset -0.6px 0 0 #3f6f92, inset 0 0.6px 0 #2b5d82;"></div>
<div  style="left:311.40px;top:296.60px;width:41.90px;height:9.70px;background:#043a5e;box-shadow:inset 0.6px 0 0 #3f6f92, inset -0.6px 0 0 #3f6f92, inset 0 0.6px 0 #2b5d82;"></div>
<div  style="left:353.30px;top:296.60px;width:85.30px;height:9.70px;background:#043a5e;box-shadow:inset 0.6px 0 0 #3f6f92, inset -0.6px 0 0 #3f6f92, inset 0 0.6px 0 #2b5d82;"></div>
<div  style="left:438.60px;top:296.60px;width:154.60px;height:9.70px;background:#043a5e;box-shadow:inset 0.6px 0 0 #3f6f92, inset -0.6px 0 0 #3f6f92, inset 0 0.6px 0 #2b5d82;"></div>
<div  style="left:593.20px;top:296.60px;width:23.05px;height:9.70px;background:#043a5e;box-shadow:inset 0.6px 0 0 #3f6f92, inset -0.6px 0 0 #3f6f92, inset 0 0.6px 0 #2b5d82;"></div>
<div  style="left:616.25px;top:296.60px;width:21.85px;height:9.70px;background:#043a5e;box-shadow:inset 0.6px 0 0 #3f6f92, inset -0.6px 0 0 #3f6f92, inset 0 0.6px 0 #2b5d82;"></div>
<div  style="left:638.10px;top:296.60px;width:27.42px;height:9.70px;background:#043a5e;box-shadow:inset 0.6px 0 0 #3f6f92, inset -0.6px 0 0 #3f6f92, inset 0 0.6px 0 #2b5d82;"></div>
<div  style="left:665.52px;top:296.60px;width:32.78px;height:9.70px;background:#043a5e;box-shadow:inset 0.6px 0 0 #3f6f92, inset -0.6px 0 0 #3f6f92, inset 0 0.6px 0 #2b5d82;"></div>
<div  style="left:698.30px;top:296.60px;width:37.10px;height:9.70px;background:#043a5e;box-shadow:inset 0.6px 0 0 #3f6f92, inset -0.6px 0 0 #3f6f92, inset 0 0.6px 0 #2b5d82;"></div>
<div  style="left:735.40px;top:296.60px;width:22.60px;height:9.70px;background:#043a5e;box-shadow:inset 0.6px 0 0 #3f6f92, inset -0.6px 0 0 #3f6f92, inset 0 0.6px 0 #2b5d82;"></div>
<div  style="left:758.00px;top:296.60px;width:42.40px;height:9.70px;background:#043a5e;box-shadow:inset 0.6px 0 0 #3f6f92, inset -0.6px 0 0 #3f6f92, inset 0 0.6px 0 #2b5d82;"></div>
<div  style="left:800.40px;top:296.60px;width:52.12px;height:9.70px;background:#043a5e;box-shadow:inset 0.6px 0 0 #3f6f92, inset -0.6px 0 0 #3f6f92, inset 0 0.6px 0 #2b5d82;"></div>
<div  style="left:852.52px;top:296.60px;width:33.78px;height:9.70px;background:#043a5e;box-shadow:inset 0.6px 0 0 #3f6f92, inset -0.6px 0 0 #3f6f92, inset 0 0.6px 0 #2b5d82;"></div>
<div  style="left:886.30px;top:296.60px;width:29.30px;height:9.70px;background:#043a5e;box-shadow:inset 0.6px 0 0 #3f6f92, inset -0.6px 0 0 #3f6f92, inset 0 0.6px 0 #2b5d82;"></div>
<div  style="left:915.60px;top:296.60px;width:51.92px;height:9.70px;background:#043a5e;box-shadow:inset 0.6px 0 0 #3f6f92, inset -0.6px 0 0 #3f6f92, inset 0 0.6px 0 #2b5d82;"></div>
<span class="h" style="left:-5.00px;top:296.60px;width:35.40px;line-height:10.00px;text-align:center">Firm</span>
<span class="h" style="left:18.40px;top:296.60px;width:39.12px;line-height:10.00px;text-align:center">Released</span>
<span class="h" style="left:45.52px;top:296.60px;width:63.00px;line-height:10.00px;text-align:center">Job</span>
<span class="h" style="left:96.52px;top:296.60px;width:24.08px;line-height:10.00px;text-align:center">Opr</span>
<span class="h" style="left:108.60px;top:296.60px;width:40.00px;line-height:10.00px;text-align:center">Operation</span>
<span class="h" style="left:136.60px;top:296.60px;width:50.70px;line-height:10.00px;text-align:center">Start</span>
<span class="h" style="left:175.30px;top:296.60px;width:51.50px;line-height:10.00px;text-align:center">Date</span>
<span class="h" style="left:214.80px;top:296.60px;width:61.40px;line-height:10.00px;text-align:center">Tool tape</span>
<span class="h" style="left:264.20px;top:296.60px;width:36.80px;line-height:10.00px;text-align:center">Lifecycle</span>
<span class="h" style="left:289.00px;top:296.60px;width:28.40px;line-height:10.00px;text-align:center">Level</span>
<span class="h" style="left:305.40px;top:296.60px;width:53.90px;line-height:10.00px;text-align:center">Part</span>
<span class="h" style="left:347.30px;top:296.60px;width:97.30px;line-height:10.00px;text-align:center">Description</span>
<span class="h" style="left:432.60px;top:296.60px;width:166.60px;line-height:10.00px;text-align:center">OpList</span>
<span class="h" style="left:587.20px;top:296.60px;width:35.05px;line-height:10.00px;text-align:center">OpTime</span>
<span class="h" style="left:610.25px;top:296.60px;width:33.85px;line-height:10.00px;text-align:center">Secops</span>
<span class="h" style="left:632.10px;top:296.60px;width:39.42px;line-height:10.00px;text-align:center">Prod. Qty</span>
<span class="h" style="left:659.52px;top:296.60px;width:44.78px;line-height:10.00px;text-align:center">Engineering</span>
<span class="h" style="left:692.30px;top:296.60px;width:49.10px;line-height:10.00px;text-align:center">Programming</span>
<span class="h" style="left:729.40px;top:296.60px;width:34.60px;line-height:10.00px;text-align:center">OnHold</span>
<span class="h" style="left:752.00px;top:296.60px;width:54.40px;line-height:10.00px;text-align:center">Non-Stock Item</span>
<span class="h" style="left:794.40px;top:296.60px;width:64.12px;line-height:10.00px;text-align:center">Comments</span>
<span class="h" style="left:846.52px;top:296.60px;width:45.78px;line-height:10.00px;text-align:center">Attachments</span>
<span class="h" style="left:880.30px;top:296.60px;width:41.30px;line-height:10.00px;text-align:center">Shortages</span>
<span class="h" style="left:909.60px;top:296.60px;width:63.92px;line-height:10.00px;text-align:center">Demand Sequence</span>
<div  style="left:1.00px;top:306.30px;width:967.22px;height:84.70px;background:#c9c9c9;"></div>
<div  style="left:1.00px;top:306.30px;width:966.52px;height:84.00px;background:#ececec;"></div>
<div  style="left:1.00px;top:306.30px;width:7.80px;height:10.50px;background:#ececec;"></div>
<div class="arr" style="left:3.60px;top:309.05px"></div>
<div  style="left:8.80px;top:306.30px;width:15.60px;height:10.50px;background:#ececec;box-shadow:inset 0.75px 0 0 #c9c9c9;"></div>
<div class="cb" style="left:14px;top:309px;border-color:#bebebe"></div>
<div  style="left:24.40px;top:306.30px;width:27.12px;height:10.50px;background:#ececec;box-shadow:inset 0.75px 0 0 #c9c9c9;"></div>
<div class="cb" style="left:35px;top:309px;border-color:#bebebe"></div>
<div  style="left:51.52px;top:306.30px;width:51.00px;height:10.50px;background:#ff0000;box-shadow:inset 0.75px 0 0 #c9c9c9;"></div>
<span class="c" style="left:53.72px;top:306.30px;width:46.10px;line-height:9.90px;text-align:left;color:#7a0000">U0000000000293</span>
<div  style="left:102.52px;top:306.30px;width:12.08px;height:10.50px;background:#ececec;box-shadow:inset 0.75px 0 0 #c9c9c9;"></div>
<span class="c" style="left:104.72px;top:306.30px;width:7.18px;line-height:9.90px;text-align:right;color:#0d0d0d;overflow:visible">10</span>
<div  style="left:114.60px;top:306.30px;width:28.00px;height:10.50px;background:#ececec;box-shadow:inset 0.75px 0 0 #c9c9c9;"></div>
<span class="c" style="left:116.80px;top:306.30px;width:23.10px;line-height:9.90px;text-align:left;color:#0d0d0d">1</span>
<div  style="left:142.60px;top:306.30px;width:38.70px;height:10.50px;background:#ececec;box-shadow:inset 0.75px 0 0 #c9c9c9;"></div>
<span class="c" style="left:144.80px;top:306.30px;width:33.80px;line-height:9.90px;text-align:left;color:#0d0d0d">13/12/23</span>
<div  style="left:181.30px;top:306.30px;width:39.50px;height:10.50px;background:#ececec;box-shadow:inset 0.75px 0 0 #c9c9c9;"></div>
<span class="c" style="left:183.50px;top:306.30px;width:34.60px;line-height:9.90px;text-align:left;color:#0d0d0d">15/12/23</span>
<div  style="left:220.80px;top:306.30px;width:49.40px;height:10.50px;background:#ececec;box-shadow:inset 0.75px 0 0 #c9c9c9;"></div>
<div  style="left:270.20px;top:306.30px;width:24.80px;height:10.50px;background:#ff0000;box-shadow:inset 0.75px 0 0 #c9c9c9;"></div>
<span class="c" style="left:272.40px;top:306.30px;width:19.90px;line-height:9.90px;text-align:left;color:#7a0000">P</span>
<div  style="left:295.00px;top:306.30px;width:16.40px;height:10.50px;background:#ececec;box-shadow:inset 0.75px 0 0 #c9c9c9;"></div>
<span class="c" style="left:297.20px;top:306.30px;width:11.50px;line-height:9.90px;text-align:right;color:#0d0d0d;overflow:visible">0</span>
<div  style="left:311.40px;top:306.30px;width:41.90px;height:10.50px;background:#ececec;box-shadow:inset 0.75px 0 0 #c9c9c9;"></div>
<span class="c" style="left:313.60px;top:306.30px;width:37.00px;line-height:9.90px;text-align:left;color:#0d0d0d">FF10888</span>
<div  style="left:353.30px;top:306.30px;width:85.30px;height:10.50px;background:#ececec;box-shadow:inset 0.75px 0 0 #c9c9c9;"></div>
<span class="c" style="left:355.50px;top:306.30px;width:80.40px;line-height:9.90px;text-align:left;color:#0d0d0d">BARROW FOR DOFFING MUL</span>
<div  style="left:438.60px;top:306.30px;width:154.60px;height:10.50px;background:#ececec;box-shadow:inset 0.75px 0 0 #c9c9c9;"></div>
<span class="c" style="left:440.80px;top:306.30px;width:149.70px;line-height:9.90px;text-align:left;color:#0d0d0d">1, 94, 79, 81, 79, 94, 95</span>
<div  style="left:593.20px;top:306.30px;width:23.05px;height:10.50px;background:#ececec;box-shadow:inset 0.75px 0 0 #c9c9c9;"></div>
<span class="c" style="left:595.40px;top:306.30px;width:18.15px;line-height:9.90px;text-align:right;color:#0d0d0d;overflow:visible">20.28</span>
<div  style="left:616.25px;top:306.30px;width:21.85px;height:10.50px;background:#ececec;box-shadow:inset 0.75px 0 0 #c9c9c9;"></div>
<span class="c" style="left:618.45px;top:306.30px;width:16.95px;line-height:9.90px;text-align:right;color:#0d0d0d;overflow:visible">0.00</span>
<div  style="left:638.10px;top:306.30px;width:27.42px;height:10.50px;background:#ececec;box-shadow:inset 0.75px 0 0 #c9c9c9;"></div>
<span class="c" style="left:640.30px;top:306.30px;width:22.52px;line-height:9.90px;text-align:right;color:#0d0d0d;overflow:visible">20.00</span>
<div  style="left:665.52px;top:306.30px;width:32.78px;height:10.50px;background:#ececec;box-shadow:inset 0.75px 0 0 #c9c9c9;"></div>
<div class="cb" style="left:679px;top:309px;border-color:#bebebe"><svg viewBox="0 0 7 7" width="6" height="6"><path d="M1.3 3.3 L3 5.2 L5.9 1.7" fill="none" stroke="#000" stroke-width="1.55"/></svg></div>
<div  style="left:698.30px;top:306.30px;width:37.10px;height:10.50px;background:#ececec;box-shadow:inset 0.75px 0 0 #c9c9c9;"></div>
<div class="cb" style="left:714px;top:309px;border-color:#bebebe"></div>
<div  style="left:735.40px;top:306.30px;width:22.60px;height:10.50px;background:#ececec;box-shadow:inset 0.75px 0 0 #c9c9c9;"></div>
<div class="cb" style="left:744px;top:309px;border-color:#bebebe"></div>
<div  style="left:758.00px;top:306.30px;width:42.40px;height:10.50px;background:#ececec;box-shadow:inset 0.75px 0 0 #c9c9c9;"></div>
<div class="cb" style="left:776px;top:309px;border-color:#bebebe"></div>
<div  style="left:800.40px;top:306.30px;width:52.12px;height:10.50px;background:#ececec;box-shadow:inset 0.75px 0 0 #c9c9c9;"></div>
<span class="c" style="left:802.60px;top:306.30px;width:47.22px;line-height:9.90px;text-align:left;color:#0d0d0d">HANNAH HAS IN</span>
<div  style="left:852.52px;top:306.30px;width:33.78px;height:10.50px;background:#ececec;box-shadow:inset 0.75px 0 0 #c9c9c9;"></div>
<div class="cb" style="left:867px;top:309px;border-color:#bebebe"></div>
<div  style="left:886.30px;top:306.30px;width:29.30px;height:10.50px;background:#ffff00;box-shadow:inset 0.75px 0 0 #c9c9c9;"></div>
<span class="c" style="left:888.50px;top:306.30px;width:24.40px;line-height:9.90px;text-align:right;color:#1a1a1a;overflow:visible">7</span>
<div  style="left:915.60px;top:306.30px;width:51.92px;height:10.50px;background:#ececec;box-shadow:inset 0.75px 0 0 #c9c9c9;"></div>
<span class="c" style="left:917.80px;top:306.30px;width:47.02px;line-height:9.90px;text-align:right;color:#0d0d0d;overflow:visible">5512</span>
<div  style="left:1.00px;top:316.80px;width:7.80px;height:10.50px;background:#ececec;box-shadow:inset 0 0.7px 0 #c9c9c9;"></div>
<div  style="left:8.80px;top:316.80px;width:15.60px;height:10.50px;background:#ececec;box-shadow:inset 0.75px 0 0 #c9c9c9, inset 0 0.7px 0 #c9c9c9;"></div>
<div class="cb" style="left:14px;top:320px;border-color:#bebebe"></div>
<div  style="left:24.40px;top:316.80px;width:27.12px;height:10.50px;background:#ececec;box-shadow:inset 0.75px 0 0 #c9c9c9, inset 0 0.7px 0 #c9c9c9;"></div>
<div class="cb" style="left:35px;top:320px;border-color:#bebebe"></div>
<div  style="left:51.52px;top:316.80px;width:51.00px;height:10.50px;background:#ff0000;box-shadow:inset 0.75px 0 0 #c9c9c9, inset 0 0.8px 0 rgba(255,255,255,0.3);"></div>
<span class="c" style="left:53.72px;top:316.80px;width:46.10px;line-height:9.90px;text-align:left;color:#7a0000">U0000000001023</span>
<div  style="left:102.52px;top:316.80px;width:12.08px;height:10.50px;background:#ececec;box-shadow:inset 0.75px 0 0 #c9c9c9, inset 0 0.7px 0 #c9c9c9;"></div>
<span class="c" style="left:104.72px;top:316.80px;width:7.18px;line-height:9.90px;text-align:right;color:#0d0d0d;overflow:visible">10</span>
<div  style="left:114.60px;top:316.80px;width:28.00px;height:10.50px;background:#ececec;box-shadow:inset 0.75px 0 0 #c9c9c9, inset 0 0.7px 0 #c9c9c9;"></div>
<span class="c" style="left:116.80px;top:316.80px;width:23.10px;line-height:9.90px;text-align:left;color:#0d0d0d">25</span>
<div  style="left:142.60px;top:316.80px;width:38.70px;height:10.50px;background:#ececec;box-shadow:inset 0.75px 0 0 #c9c9c9, inset 0 0.7px 0 #c9c9c9;"></div>
<span class="c" style="left:144.80px;top:316.80px;width:33.80px;line-height:9.90px;text-align:left;color:#0d0d0d">13/12/23</span>
<div  style="left:181.30px;top:316.80px;width:39.50px;height:10.50px;background:#ececec;box-shadow:inset 0.75px 0 0 #c9c9c9, inset 0 0.7px 0 #c9c9c9;"></div>
<span class="c" style="left:183.50px;top:316.80px;width:34.60px;line-height:9.90px;text-align:left;color:#0d0d0d">14/12/23</span>
<div  style="left:220.80px;top:316.80px;width:49.40px;height:10.50px;background:#ececec;box-shadow:inset 0.75px 0 0 #c9c9c9, inset 0 0.7px 0 #c9c9c9;"></div>
<div  style="left:270.20px;top:316.80px;width:24.80px;height:10.50px;background:#ff0000;box-shadow:inset 0.75px 0 0 #c9c9c9, inset 0 0.8px 0 rgba(255,255,255,0.3);"></div>
<span class="c" style="left:272.40px;top:316.80px;width:19.90px;line-height:9.90px;text-align:left;color:#7a0000">P</span>
<div  style="left:295.00px;top:316.80px;width:16.40px;height:10.50px;background:#ececec;box-shadow:inset 0.75px 0 0 #c9c9c9, inset 0 0.7px 0 #c9c9c9;"></div>
<span class="c" style="left:297.20px;top:316.80px;width:11.50px;line-height:9.90px;text-align:right;color:#0d0d0d;overflow:visible">1</span>
<div  style="left:311.40px;top:316.80px;width:41.90px;height:10.50px;background:#ececec;box-shadow:inset 0.75px 0 0 #c9c9c9, inset 0 0.7px 0 #c9c9c9;"></div>
<span class="c" style="left:313.60px;top:316.80px;width:37.00px;line-height:9.90px;text-align:left;color:#0d0d0d">FF10888-1</span>
<div  style="left:353.30px;top:316.80px;width:85.30px;height:10.50px;background:#ececec;box-shadow:inset 0.75px 0 0 #c9c9c9, inset 0 0.7px 0 #c9c9c9;"></div>
<span class="c" style="left:355.50px;top:316.80px;width:80.40px;line-height:9.90px;text-align:left;color:#0d0d0d">UPRIGHT 1</span>
<div  style="left:438.60px;top:316.80px;width:154.60px;height:10.50px;background:#008000;box-shadow:inset 0.75px 0 0 #c9c9c9, inset 0 0.8px 0 rgba(255,255,255,0.3);"></div>
<span class="c" style="left:440.80px;top:316.80px;width:149.70px;line-height:9.90px;text-align:left;color:#003800">25, 29, 42</span>
<div  style="left:593.20px;top:316.80px;width:23.05px;height:10.50px;background:#ececec;box-shadow:inset 0.75px 0 0 #c9c9c9, inset 0 0.7px 0 #c9c9c9;"></div>
<span class="c" style="left:595.40px;top:316.80px;width:18.15px;line-height:9.90px;text-align:right;color:#0d0d0d;overflow:visible">0.61</span>
<div  style="left:616.25px;top:316.80px;width:21.85px;height:10.50px;background:#ececec;box-shadow:inset 0.75px 0 0 #c9c9c9, inset 0 0.7px 0 #c9c9c9;"></div>
<span class="c" style="left:618.45px;top:316.80px;width:16.95px;line-height:9.90px;text-align:right;color:#0d0d0d;overflow:visible">0.00</span>
<div  style="left:638.10px;top:316.80px;width:27.42px;height:10.50px;background:#ececec;box-shadow:inset 0.75px 0 0 #c9c9c9, inset 0 0.7px 0 #c9c9c9;"></div>
<span class="c" style="left:640.30px;top:316.80px;width:22.52px;line-height:9.90px;text-align:right;color:#0d0d0d;overflow:visible">20.00</span>
<div  style="left:665.52px;top:316.80px;width:32.78px;height:10.50px;background:#ececec;box-shadow:inset 0.75px 0 0 #c9c9c9, inset 0 0.7px 0 #c9c9c9;"></div>
<div class="cb" style="left:679px;top:320px;border-color:#bebebe"><svg viewBox="0 0 7 7" width="6" height="6"><path d="M1.3 3.3 L3 5.2 L5.9 1.7" fill="none" stroke="#000" stroke-width="1.55"/></svg></div>
<div  style="left:698.30px;top:316.80px;width:37.10px;height:10.50px;background:#ececec;box-shadow:inset 0.75px 0 0 #c9c9c9, inset 0 0.7px 0 #c9c9c9;"></div>
<div class="cb" style="left:714px;top:320px;border-color:#bebebe"></div>
<div  style="left:735.40px;top:316.80px;width:22.60px;height:10.50px;background:#ececec;box-shadow:inset 0.75px 0 0 #c9c9c9, inset 0 0.7px 0 #c9c9c9;"></div>
<div class="cb" style="left:744px;top:320px;border-color:#bebebe"></div>
<div  style="left:758.00px;top:316.80px;width:42.40px;height:10.50px;background:#ececec;box-shadow:inset 0.75px 0 0 #c9c9c9, inset 0 0.7px 0 #c9c9c9;"></div>
<div class="cb" style="left:776px;top:320px;border-color:#bebebe"></div>
<div  style="left:800.40px;top:316.80px;width:52.12px;height:10.50px;background:#ececec;box-shadow:inset 0.75px 0 0 #c9c9c9, inset 0 0.7px 0 #c9c9c9;"></div>
<span class="c" style="left:802.60px;top:316.80px;width:47.22px;line-height:9.90px;text-align:left;color:#0d0d0d">HANNAH HAS IN</span>
<div  style="left:852.52px;top:316.80px;width:33.78px;height:10.50px;background:#ececec;box-shadow:inset 0.75px 0 0 #c9c9c9, inset 0 0.7px 0 #c9c9c9;"></div>
<div class="cb" style="left:867px;top:320px;border-color:#bebebe"></div>
<div  style="left:886.30px;top:316.80px;width:29.30px;height:10.50px;background:#ececec;box-shadow:inset 0.75px 0 0 #c9c9c9, inset 0 0.7px 0 #c9c9c9;"></div>
<div  style="left:915.60px;top:316.80px;width:51.92px;height:10.50px;background:#ececec;box-shadow:inset 0.75px 0 0 #c9c9c9, inset 0 0.7px 0 #c9c9c9;"></div>
<span class="c" style="left:917.80px;top:316.80px;width:47.02px;line-height:9.90px;text-align:right;color:#0d0d0d;overflow:visible">5512</span>
<div  style="left:1.00px;top:327.30px;width:7.80px;height:10.50px;background:#ececec;box-shadow:inset 0 0.7px 0 #c9c9c9;"></div>
<div  style="left:8.80px;top:327.30px;width:15.60px;height:10.50px;background:#ececec;box-shadow:inset 0.75px 0 0 #c9c9c9, inset 0 0.7px 0 #c9c9c9;"></div>
<div class="cb" style="left:14px;top:330px;border-color:#bebebe"></div>
<div  style="left:24.40px;top:327.30px;width:27.12px;height:10.50px;background:#ececec;box-shadow:inset 0.75px 0 0 #c9c9c9, inset 0 0.7px 0 #c9c9c9;"></div>
<div class="cb" style="left:35px;top:330px;border-color:#bebebe"></div>
<div  style="left:51.52px;top:327.30px;width:51.00px;height:10.50px;background:#ff0000;box-shadow:inset 0.75px 0 0 #c9c9c9, inset 0 0.8px 0 rgba(255,255,255,0.3);"></div>
<span class="c" style="left:53.72px;top:327.30px;width:46.10px;line-height:9.90px;text-align:left;color:#7a0000">U0000000001024</span>
<div  style="left:102.52px;top:327.30px;width:12.08px;height:10.50px;background:#ececec;box-shadow:inset 0.75px 0 0 #c9c9c9, inset 0 0.7px 0 #c9c9c9;"></div>
<span class="c" style="left:104.72px;top:327.30px;width:7.18px;line-height:9.90px;text-align:right;color:#0d0d0d;overflow:visible">10</span>
<div  style="left:114.60px;top:327.30px;width:28.00px;height:10.50px;background:#ececec;box-shadow:inset 0.75px 0 0 #c9c9c9, inset 0 0.7px 0 #c9c9c9;"></div>
<span class="c" style="left:116.80px;top:327.30px;width:23.10px;line-height:9.90px;text-align:left;color:#0d0d0d">25</span>
<div  style="left:142.60px;top:327.30px;width:38.70px;height:10.50px;background:#ececec;box-shadow:inset 0.75px 0 0 #c9c9c9, inset 0 0.7px 0 #c9c9c9;"></div>
<span class="c" style="left:144.80px;top:327.30px;width:33.80px;line-height:9.90px;text-align:left;color:#0d0d0d">13/12/23</span>
<div  style="left:181.30px;top:327.30px;width:39.50px;height:10.50px;background:#ececec;box-shadow:inset 0.75px 0 0 #c9c9c9, inset 0 0.7px 0 #c9c9c9;"></div>
<span class="c" style="left:183.50px;top:327.30px;width:34.60px;line-height:9.90px;text-align:left;color:#0d0d0d">14/12/23</span>
<div  style="left:220.80px;top:327.30px;width:49.40px;height:10.50px;background:#ececec;box-shadow:inset 0.75px 0 0 #c9c9c9, inset 0 0.7px 0 #c9c9c9;"></div>
<div  style="left:270.20px;top:327.30px;width:24.80px;height:10.50px;background:#ff0000;box-shadow:inset 0.75px 0 0 #c9c9c9, inset 0 0.8px 0 rgba(255,255,255,0.3);"></div>
<span class="c" style="left:272.40px;top:327.30px;width:19.90px;line-height:9.90px;text-align:left;color:#7a0000">P</span>
<div  style="left:295.00px;top:327.30px;width:16.40px;height:10.50px;background:#ececec;box-shadow:inset 0.75px 0 0 #c9c9c9, inset 0 0.7px 0 #c9c9c9;"></div>
<span class="c" style="left:297.20px;top:327.30px;width:11.50px;line-height:9.90px;text-align:right;color:#0d0d0d;overflow:visible">1</span>
<div  style="left:311.40px;top:327.30px;width:41.90px;height:10.50px;background:#ececec;box-shadow:inset 0.75px 0 0 #c9c9c9, inset 0 0.7px 0 #c9c9c9;"></div>
<span class="c" style="left:313.60px;top:327.30px;width:37.00px;line-height:9.90px;text-align:left;color:#0d0d0d">FF10888-2</span>
<div  style="left:353.30px;top:327.30px;width:85.30px;height:10.50px;background:#ececec;box-shadow:inset 0.75px 0 0 #c9c9c9, inset 0 0.7px 0 #c9c9c9;"></div>
<span class="c" style="left:355.50px;top:327.30px;width:80.40px;line-height:9.90px;text-align:left;color:#0d0d0d">UPRIGHT 2</span>
<div  style="left:438.60px;top:327.30px;width:154.60px;height:10.50px;background:#008000;box-shadow:inset 0.75px 0 0 #c9c9c9, inset 0 0.8px 0 rgba(255,255,255,0.3);"></div>
<span class="c" style="left:440.80px;top:327.30px;width:149.70px;line-height:9.90px;text-align:left;color:#003800">25, 29, 42</span>
<div  style="left:593.20px;top:327.30px;width:23.05px;height:10.50px;background:#ececec;box-shadow:inset 0.75px 0 0 #c9c9c9, inset 0 0.7px 0 #c9c9c9;"></div>
<span class="c" style="left:595.40px;top:327.30px;width:18.15px;line-height:9.90px;text-align:right;color:#0d0d0d;overflow:visible">0.61</span>
<div  style="left:616.25px;top:327.30px;width:21.85px;height:10.50px;background:#ececec;box-shadow:inset 0.75px 0 0 #c9c9c9, inset 0 0.7px 0 #c9c9c9;"></div>
<span class="c" style="left:618.45px;top:327.30px;width:16.95px;line-height:9.90px;text-align:right;color:#0d0d0d;overflow:visible">0.00</span>
<div  style="left:638.10px;top:327.30px;width:27.42px;height:10.50px;background:#ececec;box-shadow:inset 0.75px 0 0 #c9c9c9, inset 0 0.7px 0 #c9c9c9;"></div>
<span class="c" style="left:640.30px;top:327.30px;width:22.52px;line-height:9.90px;text-align:right;color:#0d0d0d;overflow:visible">20.00</span>
<div  style="left:665.52px;top:327.30px;width:32.78px;height:10.50px;background:#ececec;box-shadow:inset 0.75px 0 0 #c9c9c9, inset 0 0.7px 0 #c9c9c9;"></div>
<div class="cb" style="left:679px;top:330px;border-color:#bebebe"><svg viewBox="0 0 7 7" width="6" height="6"><path d="M1.3 3.3 L3 5.2 L5.9 1.7" fill="none" stroke="#000" stroke-width="1.55"/></svg></div>
<div  style="left:698.30px;top:327.30px;width:37.10px;height:10.50px;background:#ececec;box-shadow:inset 0.75px 0 0 #c9c9c9, inset 0 0.7px 0 #c9c9c9;"></div>
<div class="cb" style="left:714px;top:330px;border-color:#bebebe"></div>
<div  style="left:735.40px;top:327.30px;width:22.60px;height:10.50px;background:#ececec;box-shadow:inset 0.75px 0 0 #c9c9c9, inset 0 0.7px 0 #c9c9c9;"></div>
<div class="cb" style="left:744px;top:330px;border-color:#bebebe"></div>
<div  style="left:758.00px;top:327.30px;width:42.40px;height:10.50px;background:#ececec;box-shadow:inset 0.75px 0 0 #c9c9c9, inset 0 0.7px 0 #c9c9c9;"></div>
<div class="cb" style="left:776px;top:330px;border-color:#bebebe"></div>
<div  style="left:800.40px;top:327.30px;width:52.12px;height:10.50px;background:#ececec;box-shadow:inset 0.75px 0 0 #c9c9c9, inset 0 0.7px 0 #c9c9c9;"></div>
<span class="c" style="left:802.60px;top:327.30px;width:47.22px;line-height:9.90px;text-align:left;color:#0d0d0d">HANNAH HAS IN</span>
<div  style="left:852.52px;top:327.30px;width:33.78px;height:10.50px;background:#ececec;box-shadow:inset 0.75px 0 0 #c9c9c9, inset 0 0.7px 0 #c9c9c9;"></div>
<div class="cb" style="left:867px;top:330px;border-color:#bebebe"></div>
<div  style="left:886.30px;top:327.30px;width:29.30px;height:10.50px;background:#ececec;box-shadow:inset 0.75px 0 0 #c9c9c9, inset 0 0.7px 0 #c9c9c9;"></div>
<div  style="left:915.60px;top:327.30px;width:51.92px;height:10.50px;background:#ececec;box-shadow:inset 0.75px 0 0 #c9c9c9, inset 0 0.7px 0 #c9c9c9;"></div>
<span class="c" style="left:917.80px;top:327.30px;width:47.02px;line-height:9.90px;text-align:right;color:#0d0d0d;overflow:visible">5512</span>
<div  style="left:1.00px;top:337.80px;width:7.80px;height:10.50px;background:#ececec;box-shadow:inset 0 0.7px 0 #c9c9c9;"></div>
<div  style="left:8.80px;top:337.80px;width:15.60px;height:10.50px;background:#ececec;box-shadow:inset 0.75px 0 0 #c9c9c9, inset 0 0.7px 0 #c9c9c9;"></div>
<div class="cb" style="left:14px;top:340px;border-color:#bebebe"></div>
<div  style="left:24.40px;top:337.80px;width:27.12px;height:10.50px;background:#ececec;box-shadow:inset 0.75px 0 0 #c9c9c9, inset 0 0.7px 0 #c9c9c9;"></div>
<div class="cb" style="left:35px;top:340px;border-color:#bebebe"></div>
<div  style="left:51.52px;top:337.80px;width:51.00px;height:10.50px;background:#ff0000;box-shadow:inset 0.75px 0 0 #c9c9c9, inset 0 0.8px 0 rgba(255,255,255,0.3);"></div>
<span class="c" style="left:53.72px;top:337.80px;width:46.10px;line-height:9.90px;text-align:left;color:#7a0000">U0000000001025</span>
<div  style="left:102.52px;top:337.80px;width:12.08px;height:10.50px;background:#ececec;box-shadow:inset 0.75px 0 0 #c9c9c9, inset 0 0.7px 0 #c9c9c9;"></div>
<span class="c" style="left:104.72px;top:337.80px;width:7.18px;line-height:9.90px;text-align:right;color:#0d0d0d;overflow:visible">10</span>
<div  style="left:114.60px;top:337.80px;width:28.00px;height:10.50px;background:#ececec;box-shadow:inset 0.75px 0 0 #c9c9c9, inset 0 0.7px 0 #c9c9c9;"></div>
<span class="c" style="left:116.80px;top:337.80px;width:23.10px;line-height:9.90px;text-align:left;color:#0d0d0d">25</span>
<div  style="left:142.60px;top:337.80px;width:38.70px;height:10.50px;background:#ececec;box-shadow:inset 0.75px 0 0 #c9c9c9, inset 0 0.7px 0 #c9c9c9;"></div>
<span class="c" style="left:144.80px;top:337.80px;width:33.80px;line-height:9.90px;text-align:left;color:#0d0d0d">13/12/23</span>
<div  style="left:181.30px;top:337.80px;width:39.50px;height:10.50px;background:#ececec;box-shadow:inset 0.75px 0 0 #c9c9c9, inset 0 0.7px 0 #c9c9c9;"></div>
<span class="c" style="left:183.50px;top:337.80px;width:34.60px;line-height:9.90px;text-align:left;color:#0d0d0d">14/12/23</span>
<div  style="left:220.80px;top:337.80px;width:49.40px;height:10.50px;background:#ececec;box-shadow:inset 0.75px 0 0 #c9c9c9, inset 0 0.7px 0 #c9c9c9;"></div>
<div  style="left:270.20px;top:337.80px;width:24.80px;height:10.50px;background:#ff0000;box-shadow:inset 0.75px 0 0 #c9c9c9, inset 0 0.8px 0 rgba(255,255,255,0.3);"></div>
<span class="c" style="left:272.40px;top:337.80px;width:19.90px;line-height:9.90px;text-align:left;color:#7a0000">P</span>
<div  style="left:295.00px;top:337.80px;width:16.40px;height:10.50px;background:#ececec;box-shadow:inset 0.75px 0 0 #c9c9c9, inset 0 0.7px 0 #c9c9c9;"></div>
<span class="c" style="left:297.20px;top:337.80px;width:11.50px;line-height:9.90px;text-align:right;color:#0d0d0d;overflow:visible">1</span>
<div  style="left:311.40px;top:337.80px;width:41.90px;height:10.50px;background:#ececec;box-shadow:inset 0.75px 0 0 #c9c9c9, inset 0 0.7px 0 #c9c9c9;"></div>
<span class="c" style="left:313.60px;top:337.80px;width:37.00px;line-height:9.90px;text-align:left;color:#0d0d0d">FF10888-3</span>
<div  style="left:353.30px;top:337.80px;width:85.30px;height:10.50px;background:#ececec;box-shadow:inset 0.75px 0 0 #c9c9c9, inset 0 0.7px 0 #c9c9c9;"></div>
<span class="c" style="left:355.50px;top:337.80px;width:80.40px;line-height:9.90px;text-align:left;color:#0d0d0d">UPRIGHT 3</span>
<div  style="left:438.60px;top:337.80px;width:154.60px;height:10.50px;background:#008000;box-shadow:inset 0.75px 0 0 #c9c9c9, inset 0 0.8px 0 rgba(255,255,255,0.3);"></div>
<span class="c" style="left:440.80px;top:337.80px;width:149.70px;line-height:9.90px;text-align:left;color:#003800">25, 29, 42</span>
<div  style="left:593.20px;top:337.80px;width:23.05px;height:10.50px;background:#ececec;box-shadow:inset 0.75px 0 0 #c9c9c9, inset 0 0.7px 0 #c9c9c9;"></div>
<span class="c" style="left:595.40px;top:337.80px;width:18.15px;line-height:9.90px;text-align:right;color:#0d0d0d;overflow:visible">0.61</span>
<div  style="left:616.25px;top:337.80px;width:21.85px;height:10.50px;background:#ececec;box-shadow:inset 0.75px 0 0 #c9c9c9, inset 0 0.7px 0 #c9c9c9;"></div>
<span class="c" style="left:618.45px;top:337.80px;width:16.95px;line-height:9.90px;text-align:right;color:#0d0d0d;overflow:visible">0.00</span>
<div  style="left:638.10px;top:337.80px;width:27.42px;height:10.50px;background:#ececec;box-shadow:inset 0.75px 0 0 #c9c9c9, inset 0 0.7px 0 #c9c9c9;"></div>
<span class="c" style="left:640.30px;top:337.80px;width:22.52px;line-height:9.90px;text-align:right;color:#0d0d0d;overflow:visible">20.00</span>
<div  style="left:665.52px;top:337.80px;width:32.78px;height:10.50px;background:#ececec;box-shadow:inset 0.75px 0 0 #c9c9c9, inset 0 0.7px 0 #c9c9c9;"></div>
<div class="cb" style="left:679px;top:340px;border-color:#bebebe"><svg viewBox="0 0 7 7" width="6" height="6"><path d="M1.3 3.3 L3 5.2 L5.9 1.7" fill="none" stroke="#000" stroke-width="1.55"/></svg></div>
<div  style="left:698.30px;top:337.80px;width:37.10px;height:10.50px;background:#ececec;box-shadow:inset 0.75px 0 0 #c9c9c9, inset 0 0.7px 0 #c9c9c9;"></div>
<div class="cb" style="left:714px;top:340px;border-color:#bebebe"></div>
<div  style="left:735.40px;top:337.80px;width:22.60px;height:10.50px;background:#ececec;box-shadow:inset 0.75px 0 0 #c9c9c9, inset 0 0.7px 0 #c9c9c9;"></div>
<div class="cb" style="left:744px;top:340px;border-color:#bebebe"></div>
<div  style="left:758.00px;top:337.80px;width:42.40px;height:10.50px;background:#ececec;box-shadow:inset 0.75px 0 0 #c9c9c9, inset 0 0.7px 0 #c9c9c9;"></div>
<div class="cb" style="left:776px;top:340px;border-color:#bebebe"></div>
<div  style="left:800.40px;top:337.80px;width:52.12px;height:10.50px;background:#ececec;box-shadow:inset 0.75px 0 0 #c9c9c9, inset 0 0.7px 0 #c9c9c9;"></div>
<span class="c" style="left:802.60px;top:337.80px;width:47.22px;line-height:9.90px;text-align:left;color:#0d0d0d">HANNAH HAS IN</span>
<div  style="left:852.52px;top:337.80px;width:33.78px;height:10.50px;background:#ececec;box-shadow:inset 0.75px 0 0 #c9c9c9, inset 0 0.7px 0 #c9c9c9;"></div>
<div class="cb" style="left:867px;top:340px;border-color:#bebebe"></div>
<div  style="left:886.30px;top:337.80px;width:29.30px;height:10.50px;background:#ececec;box-shadow:inset 0.75px 0 0 #c9c9c9, inset 0 0.7px 0 #c9c9c9;"></div>
<div  style="left:915.60px;top:337.80px;width:51.92px;height:10.50px;background:#ececec;box-shadow:inset 0.75px 0 0 #c9c9c9, inset 0 0.7px 0 #c9c9c9;"></div>
<span class="c" style="left:917.80px;top:337.80px;width:47.02px;line-height:9.90px;text-align:right;color:#0d0d0d;overflow:visible">5512</span>
<div  style="left:1.00px;top:348.30px;width:7.80px;height:10.50px;background:#ececec;box-shadow:inset 0 0.7px 0 #c9c9c9;"></div>
<div  style="left:8.80px;top:348.30px;width:15.60px;height:10.50px;background:#ececec;box-shadow:inset 0.75px 0 0 #c9c9c9, inset 0 0.7px 0 #c9c9c9;"></div>
<div class="cb" style="left:14px;top:351px;border-color:#bebebe"></div>
<div  style="left:24.40px;top:348.30px;width:27.12px;height:10.50px;background:#ececec;box-shadow:inset 0.75px 0 0 #c9c9c9, inset 0 0.7px 0 #c9c9c9;"></div>
<div class="cb" style="left:35px;top:351px;border-color:#bebebe"></div>
<div  style="left:51.52px;top:348.30px;width:51.00px;height:10.50px;background:#ff0000;box-shadow:inset 0.75px 0 0 #c9c9c9, inset 0 0.8px 0 rgba(255,255,255,0.3);"></div>
<span class="c" style="left:53.72px;top:348.30px;width:46.10px;line-height:9.90px;text-align:left;color:#7a0000">U0000000001026</span>
<div  style="left:102.52px;top:348.30px;width:12.08px;height:10.50px;background:#ececec;box-shadow:inset 0.75px 0 0 #c9c9c9, inset 0 0.7px 0 #c9c9c9;"></div>
<span class="c" style="left:104.72px;top:348.30px;width:7.18px;line-height:9.90px;text-align:right;color:#0d0d0d;overflow:visible">10</span>
<div  style="left:114.60px;top:348.30px;width:28.00px;height:10.50px;background:#ececec;box-shadow:inset 0.75px 0 0 #c9c9c9, inset 0 0.7px 0 #c9c9c9;"></div>
<span class="c" style="left:116.80px;top:348.30px;width:23.10px;line-height:9.90px;text-align:left;color:#0d0d0d">25</span>
<div  style="left:142.60px;top:348.30px;width:38.70px;height:10.50px;background:#ececec;box-shadow:inset 0.75px 0 0 #c9c9c9, inset 0 0.7px 0 #c9c9c9;"></div>
<span class="c" style="left:144.80px;top:348.30px;width:33.80px;line-height:9.90px;text-align:left;color:#0d0d0d">13/12/23</span>
<div  style="left:181.30px;top:348.30px;width:39.50px;height:10.50px;background:#ececec;box-shadow:inset 0.75px 0 0 #c9c9c9, inset 0 0.7px 0 #c9c9c9;"></div>
<span class="c" style="left:183.50px;top:348.30px;width:34.60px;line-height:9.90px;text-align:left;color:#0d0d0d">14/12/23</span>
<div  style="left:220.80px;top:348.30px;width:49.40px;height:10.50px;background:#ececec;box-shadow:inset 0.75px 0 0 #c9c9c9, inset 0 0.7px 0 #c9c9c9;"></div>
<div  style="left:270.20px;top:348.30px;width:24.80px;height:10.50px;background:#ff0000;box-shadow:inset 0.75px 0 0 #c9c9c9, inset 0 0.8px 0 rgba(255,255,255,0.3);"></div>
<span class="c" style="left:272.40px;top:348.30px;width:19.90px;line-height:9.90px;text-align:left;color:#7a0000">P</span>
<div  style="left:295.00px;top:348.30px;width:16.40px;height:10.50px;background:#ececec;box-shadow:inset 0.75px 0 0 #c9c9c9, inset 0 0.7px 0 #c9c9c9;"></div>
<span class="c" style="left:297.20px;top:348.30px;width:11.50px;line-height:9.90px;text-align:right;color:#0d0d0d;overflow:visible">1</span>
<div  style="left:311.40px;top:348.30px;width:41.90px;height:10.50px;background:#ececec;box-shadow:inset 0.75px 0 0 #c9c9c9, inset 0 0.7px 0 #c9c9c9;"></div>
<span class="c" style="left:313.60px;top:348.30px;width:37.00px;line-height:9.90px;text-align:left;color:#0d0d0d">FF10888-4</span>
<div  style="left:353.30px;top:348.30px;width:85.30px;height:10.50px;background:#ececec;box-shadow:inset 0.75px 0 0 #c9c9c9, inset 0 0.7px 0 #c9c9c9;"></div>
<span class="c" style="left:355.50px;top:348.30px;width:80.40px;line-height:9.90px;text-align:left;color:#0d0d0d">UPRIGHT 4</span>
<div  style="left:438.60px;top:348.30px;width:154.60px;height:10.50px;background:#008000;box-shadow:inset 0.75px 0 0 #c9c9c9, inset 0 0.8px 0 rgba(255,255,255,0.3);"></div>
<span class="c" style="left:440.80px;top:348.30px;width:149.70px;line-height:9.90px;text-align:left;color:#003800">25, 29, 42</span>
<div  style="left:593.20px;top:348.30px;width:23.05px;height:10.50px;background:#ececec;box-shadow:inset 0.75px 0 0 #c9c9c9, inset 0 0.7px 0 #c9c9c9;"></div>
<span class="c" style="left:595.40px;top:348.30px;width:18.15px;line-height:9.90px;text-align:right;color:#0d0d0d;overflow:visible">0.61</span>
<div  style="left:616.25px;top:348.30px;width:21.85px;height:10.50px;background:#ececec;box-shadow:inset 0.75px 0 0 #c9c9c9, inset 0 0.7px 0 #c9c9c9;"></div>
<span class="c" style="left:618.45px;top:348.30px;width:16.95px;line-height:9.90px;text-align:right;color:#0d0d0d;overflow:visible">0.00</span>
<div  style="left:638.10px;top:348.30px;width:27.42px;height:10.50px;background:#ececec;box-shadow:inset 0.75px 0 0 #c9c9c9, inset 0 0.7px 0 #c9c9c9;"></div>
<span class="c" style="left:640.30px;top:348.30px;width:22.52px;line-height:9.90px;text-align:right;color:#0d0d0d;overflow:visible">20.00</span>
<div  style="left:665.52px;top:348.30px;width:32.78px;height:10.50px;background:#ececec;box-shadow:inset 0.75px 0 0 #c9c9c9, inset 0 0.7px 0 #c9c9c9;"></div>
<div class="cb" style="left:679px;top:351px;border-color:#bebebe"><svg viewBox="0 0 7 7" width="6" height="6"><path d="M1.3 3.3 L3 5.2 L5.9 1.7" fill="none" stroke="#000" stroke-width="1.55"/></svg></div>
<div  style="left:698.30px;top:348.30px;width:37.10px;height:10.50px;background:#ececec;box-shadow:inset 0.75px 0 0 #c9c9c9, inset 0 0.7px 0 #c9c9c9;"></div>
<div class="cb" style="left:714px;top:351px;border-color:#bebebe"></div>
<div  style="left:735.40px;top:348.30px;width:22.60px;height:10.50px;background:#ececec;box-shadow:inset 0.75px 0 0 #c9c9c9, inset 0 0.7px 0 #c9c9c9;"></div>
<div class="cb" style="left:744px;top:351px;border-color:#bebebe"></div>
<div  style="left:758.00px;top:348.30px;width:42.40px;height:10.50px;background:#ececec;box-shadow:inset 0.75px 0 0 #c9c9c9, inset 0 0.7px 0 #c9c9c9;"></div>
<div class="cb" style="left:776px;top:351px;border-color:#bebebe"></div>
<div  style="left:800.40px;top:348.30px;width:52.12px;height:10.50px;background:#ececec;box-shadow:inset 0.75px 0 0 #c9c9c9, inset 0 0.7px 0 #c9c9c9;"></div>
<span class="c" style="left:802.60px;top:348.30px;width:47.22px;line-height:9.90px;text-align:left;color:#0d0d0d">HANNAH HAS IN</span>
<div  style="left:852.52px;top:348.30px;width:33.78px;height:10.50px;background:#ececec;box-shadow:inset 0.75px 0 0 #c9c9c9, inset 0 0.7px 0 #c9c9c9;"></div>
<div class="cb" style="left:867px;top:351px;border-color:#bebebe"></div>
<div  style="left:886.30px;top:348.30px;width:29.30px;height:10.50px;background:#ececec;box-shadow:inset 0.75px 0 0 #c9c9c9, inset 0 0.7px 0 #c9c9c9;"></div>
<div  style="left:915.60px;top:348.30px;width:51.92px;height:10.50px;background:#ececec;box-shadow:inset 0.75px 0 0 #c9c9c9, inset 0 0.7px 0 #c9c9c9;"></div>
<span class="c" style="left:917.80px;top:348.30px;width:47.02px;line-height:9.90px;text-align:right;color:#0d0d0d;overflow:visible">5512</span>
<div  style="left:1.00px;top:358.80px;width:7.80px;height:10.50px;background:#ececec;box-shadow:inset 0 0.7px 0 #c9c9c9;"></div>
<div  style="left:8.80px;top:358.80px;width:15.60px;height:10.50px;background:#ececec;box-shadow:inset 0.75px 0 0 #c9c9c9, inset 0 0.7px 0 #c9c9c9;"></div>
<div class="cb" style="left:14px;top:362px;border-color:#bebebe"></div>
<div  style="left:24.40px;top:358.80px;width:27.12px;height:10.50px;background:#ececec;box-shadow:inset 0.75px 0 0 #c9c9c9, inset 0 0.7px 0 #c9c9c9;"></div>
<div class="cb" style="left:35px;top:362px;border-color:#bebebe"></div>
<div  style="left:51.52px;top:358.80px;width:51.00px;height:10.50px;background:#ff0000;box-shadow:inset 0.75px 0 0 #c9c9c9, inset 0 0.8px 0 rgba(255,255,255,0.3);"></div>
<span class="c" style="left:53.72px;top:358.80px;width:46.10px;line-height:9.90px;text-align:left;color:#7a0000">U0000000001027</span>
<div  style="left:102.52px;top:358.80px;width:12.08px;height:10.50px;background:#ececec;box-shadow:inset 0.75px 0 0 #c9c9c9, inset 0 0.7px 0 #c9c9c9;"></div>
<span class="c" style="left:104.72px;top:358.80px;width:7.18px;line-height:9.90px;text-align:right;color:#0d0d0d;overflow:visible">10</span>
<div  style="left:114.60px;top:358.80px;width:28.00px;height:10.50px;background:#ececec;box-shadow:inset 0.75px 0 0 #c9c9c9, inset 0 0.7px 0 #c9c9c9;"></div>
<span class="c" style="left:116.80px;top:358.80px;width:23.10px;line-height:9.90px;text-align:left;color:#0d0d0d">25</span>
<div  style="left:142.60px;top:358.80px;width:38.70px;height:10.50px;background:#ececec;box-shadow:inset 0.75px 0 0 #c9c9c9, inset 0 0.7px 0 #c9c9c9;"></div>
<span class="c" style="left:144.80px;top:358.80px;width:33.80px;line-height:9.90px;text-align:left;color:#0d0d0d">13/12/23</span>
<div  style="left:181.30px;top:358.80px;width:39.50px;height:10.50px;background:#ececec;box-shadow:inset 0.75px 0 0 #c9c9c9, inset 0 0.7px 0 #c9c9c9;"></div>
<span class="c" style="left:183.50px;top:358.80px;width:34.60px;line-height:9.90px;text-align:left;color:#0d0d0d">14/12/23</span>
<div  style="left:220.80px;top:358.80px;width:49.40px;height:10.50px;background:#ececec;box-shadow:inset 0.75px 0 0 #c9c9c9, inset 0 0.7px 0 #c9c9c9;"></div>
<div  style="left:270.20px;top:358.80px;width:24.80px;height:10.50px;background:#ff0000;box-shadow:inset 0.75px 0 0 #c9c9c9, inset 0 0.8px 0 rgba(255,255,255,0.3);"></div>
<span class="c" style="left:272.40px;top:358.80px;width:19.90px;line-height:9.90px;text-align:left;color:#7a0000">P</span>
<div  style="left:295.00px;top:358.80px;width:16.40px;height:10.50px;background:#ececec;box-shadow:inset 0.75px 0 0 #c9c9c9, inset 0 0.7px 0 #c9c9c9;"></div>
<span class="c" style="left:297.20px;top:358.80px;width:11.50px;line-height:9.90px;text-align:right;color:#0d0d0d;overflow:visible">1</span>
<div  style="left:311.40px;top:358.80px;width:41.90px;height:10.50px;background:#ececec;box-shadow:inset 0.75px 0 0 #c9c9c9, inset 0 0.7px 0 #c9c9c9;"></div>
<span class="c" style="left:313.60px;top:358.80px;width:37.00px;line-height:9.90px;text-align:left;color:#0d0d0d">FF10888-5</span>
<div  style="left:353.30px;top:358.80px;width:85.30px;height:10.50px;background:#ececec;box-shadow:inset 0.75px 0 0 #c9c9c9, inset 0 0.7px 0 #c9c9c9;"></div>
<span class="c" style="left:355.50px;top:358.80px;width:80.40px;line-height:9.90px;text-align:left;color:#0d0d0d">SHELF</span>
<div  style="left:438.60px;top:358.80px;width:154.60px;height:10.50px;background:#008000;box-shadow:inset 0.75px 0 0 #c9c9c9, inset 0 0.8px 0 rgba(255,255,255,0.3);"></div>
<span class="c" style="left:440.80px;top:358.80px;width:149.70px;line-height:9.90px;text-align:left;color:#003800">25, 29, 42</span>
<div  style="left:593.20px;top:358.80px;width:23.05px;height:10.50px;background:#ececec;box-shadow:inset 0.75px 0 0 #c9c9c9, inset 0 0.7px 0 #c9c9c9;"></div>
<span class="c" style="left:595.40px;top:358.80px;width:18.15px;line-height:9.90px;text-align:right;color:#0d0d0d;overflow:visible">2.89</span>
<div  style="left:616.25px;top:358.80px;width:21.85px;height:10.50px;background:#ececec;box-shadow:inset 0.75px 0 0 #c9c9c9, inset 0 0.7px 0 #c9c9c9;"></div>
<span class="c" style="left:618.45px;top:358.80px;width:16.95px;line-height:9.90px;text-align:right;color:#0d0d0d;overflow:visible">0.00</span>
<div  style="left:638.10px;top:358.80px;width:27.42px;height:10.50px;background:#ececec;box-shadow:inset 0.75px 0 0 #c9c9c9, inset 0 0.7px 0 #c9c9c9;"></div>
<span class="c" style="left:640.30px;top:358.80px;width:22.52px;line-height:9.90px;text-align:right;color:#0d0d0d;overflow:visible">80.00</span>
<div  style="left:665.52px;top:358.80px;width:32.78px;height:10.50px;background:#ececec;box-shadow:inset 0.75px 0 0 #c9c9c9, inset 0 0.7px 0 #c9c9c9;"></div>
<div class="cb" style="left:679px;top:362px;border-color:#bebebe"><svg viewBox="0 0 7 7" width="6" height="6"><path d="M1.3 3.3 L3 5.2 L5.9 1.7" fill="none" stroke="#000" stroke-width="1.55"/></svg></div>
<div  style="left:698.30px;top:358.80px;width:37.10px;height:10.50px;background:#ececec;box-shadow:inset 0.75px 0 0 #c9c9c9, inset 0 0.7px 0 #c9c9c9;"></div>
<div class="cb" style="left:714px;top:362px;border-color:#bebebe"></div>
<div  style="left:735.40px;top:358.80px;width:22.60px;height:10.50px;background:#ececec;box-shadow:inset 0.75px 0 0 #c9c9c9, inset 0 0.7px 0 #c9c9c9;"></div>
<div class="cb" style="left:744px;top:362px;border-color:#bebebe"></div>
<div  style="left:758.00px;top:358.80px;width:42.40px;height:10.50px;background:#ececec;box-shadow:inset 0.75px 0 0 #c9c9c9, inset 0 0.7px 0 #c9c9c9;"></div>
<div class="cb" style="left:776px;top:362px;border-color:#bebebe"></div>
<div  style="left:800.40px;top:358.80px;width:52.12px;height:10.50px;background:#ececec;box-shadow:inset 0.75px 0 0 #c9c9c9, inset 0 0.7px 0 #c9c9c9;"></div>
<span class="c" style="left:802.60px;top:358.80px;width:47.22px;line-height:9.90px;text-align:left;color:#0d0d0d">HANNAH HAS IN</span>
<div  style="left:852.52px;top:358.80px;width:33.78px;height:10.50px;background:#ececec;box-shadow:inset 0.75px 0 0 #c9c9c9, inset 0 0.7px 0 #c9c9c9;"></div>
<div class="cb" style="left:867px;top:362px;border-color:#bebebe"></div>
<div  style="left:886.30px;top:358.80px;width:29.30px;height:10.50px;background:#ececec;box-shadow:inset 0.75px 0 0 #c9c9c9, inset 0 0.7px 0 #c9c9c9;"></div>
<div  style="left:915.60px;top:358.80px;width:51.92px;height:10.50px;background:#ececec;box-shadow:inset 0.75px 0 0 #c9c9c9, inset 0 0.7px 0 #c9c9c9;"></div>
<span class="c" style="left:917.80px;top:358.80px;width:47.02px;line-height:9.90px;text-align:right;color:#0d0d0d;overflow:visible">5512</span>
<div  style="left:1.00px;top:369.30px;width:7.80px;height:10.50px;background:#ececec;box-shadow:inset 0 0.7px 0 #c9c9c9;"></div>
<div  style="left:8.80px;top:369.30px;width:15.60px;height:10.50px;background:#ececec;box-shadow:inset 0.75px 0 0 #c9c9c9, inset 0 0.7px 0 #c9c9c9;"></div>
<div class="cb" style="left:14px;top:372px;border-color:#bebebe"></div>
<div  style="left:24.40px;top:369.30px;width:27.12px;height:10.50px;background:#ececec;box-shadow:inset 0.75px 0 0 #c9c9c9, inset 0 0.7px 0 #c9c9c9;"></div>
<div class="cb" style="left:35px;top:372px;border-color:#bebebe"></div>
<div  style="left:51.52px;top:369.30px;width:51.00px;height:10.50px;background:#ff0000;box-shadow:inset 0.75px 0 0 #c9c9c9, inset 0 0.8px 0 rgba(255,255,255,0.3);"></div>
<span class="c" style="left:53.72px;top:369.30px;width:46.10px;line-height:9.90px;text-align:left;color:#7a0000">U0000000001028</span>
<div  style="left:102.52px;top:369.30px;width:12.08px;height:10.50px;background:#ececec;box-shadow:inset 0.75px 0 0 #c9c9c9, inset 0 0.7px 0 #c9c9c9;"></div>
<span class="c" style="left:104.72px;top:369.30px;width:7.18px;line-height:9.90px;text-align:right;color:#0d0d0d;overflow:visible">10</span>
<div  style="left:114.60px;top:369.30px;width:28.00px;height:10.50px;background:#ececec;box-shadow:inset 0.75px 0 0 #c9c9c9, inset 0 0.7px 0 #c9c9c9;"></div>
<span class="c" style="left:116.80px;top:369.30px;width:23.10px;line-height:9.90px;text-align:left;color:#0d0d0d">25</span>
<div  style="left:142.60px;top:369.30px;width:38.70px;height:10.50px;background:#ececec;box-shadow:inset 0.75px 0 0 #c9c9c9, inset 0 0.7px 0 #c9c9c9;"></div>
<span class="c" style="left:144.80px;top:369.30px;width:33.80px;line-height:9.90px;text-align:left;color:#0d0d0d">13/12/23</span>
<div  style="left:181.30px;top:369.30px;width:39.50px;height:10.50px;background:#ececec;box-shadow:inset 0.75px 0 0 #c9c9c9, inset 0 0.7px 0 #c9c9c9;"></div>
<span class="c" style="left:183.50px;top:369.30px;width:34.60px;line-height:9.90px;text-align:left;color:#0d0d0d">14/12/23</span>
<div  style="left:220.80px;top:369.30px;width:49.40px;height:10.50px;background:#ececec;box-shadow:inset 0.75px 0 0 #c9c9c9, inset 0 0.7px 0 #c9c9c9;"></div>
<div  style="left:270.20px;top:369.30px;width:24.80px;height:10.50px;background:#ff0000;box-shadow:inset 0.75px 0 0 #c9c9c9, inset 0 0.8px 0 rgba(255,255,255,0.3);"></div>
<span class="c" style="left:272.40px;top:369.30px;width:19.90px;line-height:9.90px;text-align:left;color:#7a0000">P</span>
<div  style="left:295.00px;top:369.30px;width:16.40px;height:10.50px;background:#ececec;box-shadow:inset 0.75px 0 0 #c9c9c9, inset 0 0.7px 0 #c9c9c9;"></div>
<span class="c" style="left:297.20px;top:369.30px;width:11.50px;line-height:9.90px;text-align:right;color:#0d0d0d;overflow:visible">1</span>
<div  style="left:311.40px;top:369.30px;width:41.90px;height:10.50px;background:#ececec;box-shadow:inset 0.75px 0 0 #c9c9c9, inset 0 0.7px 0 #c9c9c9;"></div>
<span class="c" style="left:313.60px;top:369.30px;width:37.00px;line-height:9.90px;text-align:left;color:#0d0d0d">FF10888-6</span>
<div  style="left:353.30px;top:369.30px;width:85.30px;height:10.50px;background:#ececec;box-shadow:inset 0.75px 0 0 #c9c9c9, inset 0 0.7px 0 #c9c9c9;"></div>
<span class="c" style="left:355.50px;top:369.30px;width:80.40px;line-height:9.90px;text-align:left;color:#0d0d0d">CASTOR SUPPORT</span>
<div  style="left:438.60px;top:369.30px;width:154.60px;height:10.50px;background:#008000;box-shadow:inset 0.75px 0 0 #c9c9c9, inset 0 0.8px 0 rgba(255,255,255,0.3);"></div>
<span class="c" style="left:440.80px;top:369.30px;width:149.70px;line-height:9.90px;text-align:left;color:#003800">25, 29, 42, 91</span>
<div  style="left:593.20px;top:369.30px;width:23.05px;height:10.50px;background:#ececec;box-shadow:inset 0.75px 0 0 #c9c9c9, inset 0 0.7px 0 #c9c9c9;"></div>
<span class="c" style="left:595.40px;top:369.30px;width:18.15px;line-height:9.90px;text-align:right;color:#0d0d0d;overflow:visible">2.23</span>
<div  style="left:616.25px;top:369.30px;width:21.85px;height:10.50px;background:#ececec;box-shadow:inset 0.75px 0 0 #c9c9c9, inset 0 0.7px 0 #c9c9c9;"></div>
<span class="c" style="left:618.45px;top:369.30px;width:16.95px;line-height:9.90px;text-align:right;color:#0d0d0d;overflow:visible">0.00</span>
<div  style="left:638.10px;top:369.30px;width:27.42px;height:10.50px;background:#ececec;box-shadow:inset 0.75px 0 0 #c9c9c9, inset 0 0.7px 0 #c9c9c9;"></div>
<span class="c" style="left:640.30px;top:369.30px;width:22.52px;line-height:9.90px;text-align:right;color:#0d0d0d;overflow:visible">40.00</span>
<div  style="left:665.52px;top:369.30px;width:32.78px;height:10.50px;background:#ececec;box-shadow:inset 0.75px 0 0 #c9c9c9, inset 0 0.7px 0 #c9c9c9;"></div>
<div class="cb" style="left:679px;top:372px;border-color:#bebebe"><svg viewBox="0 0 7 7" width="6" height="6"><path d="M1.3 3.3 L3 5.2 L5.9 1.7" fill="none" stroke="#000" stroke-width="1.55"/></svg></div>
<div  style="left:698.30px;top:369.30px;width:37.10px;height:10.50px;background:#ececec;box-shadow:inset 0.75px 0 0 #c9c9c9, inset 0 0.7px 0 #c9c9c9;"></div>
<div class="cb" style="left:714px;top:372px;border-color:#bebebe"></div>
<div  style="left:735.40px;top:369.30px;width:22.60px;height:10.50px;background:#ececec;box-shadow:inset 0.75px 0 0 #c9c9c9, inset 0 0.7px 0 #c9c9c9;"></div>
<div class="cb" style="left:744px;top:372px;border-color:#bebebe"></div>
<div  style="left:758.00px;top:369.30px;width:42.40px;height:10.50px;background:#ececec;box-shadow:inset 0.75px 0 0 #c9c9c9, inset 0 0.7px 0 #c9c9c9;"></div>
<div class="cb" style="left:776px;top:372px;border-color:#bebebe"></div>
<div  style="left:800.40px;top:369.30px;width:52.12px;height:10.50px;background:#ececec;box-shadow:inset 0.75px 0 0 #c9c9c9, inset 0 0.7px 0 #c9c9c9;"></div>
<span class="c" style="left:802.60px;top:369.30px;width:47.22px;line-height:9.90px;text-align:left;color:#0d0d0d">HANNAH HAS IN</span>
<div  style="left:852.52px;top:369.30px;width:33.78px;height:10.50px;background:#ececec;box-shadow:inset 0.75px 0 0 #c9c9c9, inset 0 0.7px 0 #c9c9c9;"></div>
<div class="cb" style="left:867px;top:372px;border-color:#bebebe"></div>
<div  style="left:886.30px;top:369.30px;width:29.30px;height:10.50px;background:#ececec;box-shadow:inset 0.75px 0 0 #c9c9c9, inset 0 0.7px 0 #c9c9c9;"></div>
<div  style="left:915.60px;top:369.30px;width:51.92px;height:10.50px;background:#ececec;box-shadow:inset 0.75px 0 0 #c9c9c9, inset 0 0.7px 0 #c9c9c9;"></div>
<span class="c" style="left:917.80px;top:369.30px;width:47.02px;line-height:9.90px;text-align:right;color:#0d0d0d;overflow:visible">5512</span>
<div  style="left:1.00px;top:379.80px;width:7.80px;height:10.50px;background:#ececec;box-shadow:inset 0 0.7px 0 #c9c9c9;"></div>
<div  style="left:8.80px;top:379.80px;width:15.60px;height:10.50px;background:#ececec;box-shadow:inset 0.75px 0 0 #c9c9c9, inset 0 0.7px 0 #c9c9c9;"></div>
<div class="cb" style="left:14px;top:382px;border-color:#bebebe"></div>
<div  style="left:24.40px;top:379.80px;width:27.12px;height:10.50px;background:#ececec;box-shadow:inset 0.75px 0 0 #c9c9c9, inset 0 0.7px 0 #c9c9c9;"></div>
<div class="cb" style="left:35px;top:382px;border-color:#bebebe"></div>
<div  style="left:51.52px;top:379.80px;width:51.00px;height:10.50px;background:#ff0000;box-shadow:inset 0.75px 0 0 #c9c9c9, inset 0 0.8px 0 rgba(255,255,255,0.3);"></div>
<span class="c" style="left:53.72px;top:379.80px;width:46.10px;line-height:9.90px;text-align:left;color:#7a0000">U0000000001029</span>
<div  style="left:102.52px;top:379.80px;width:12.08px;height:10.50px;background:#ececec;box-shadow:inset 0.75px 0 0 #c9c9c9, inset 0 0.7px 0 #c9c9c9;"></div>
<span class="c" style="left:104.72px;top:379.80px;width:7.18px;line-height:9.90px;text-align:right;color:#0d0d0d;overflow:visible">10</span>
<div  style="left:114.60px;top:379.80px;width:28.00px;height:10.50px;background:#ececec;box-shadow:inset 0.75px 0 0 #c9c9c9, inset 0 0.7px 0 #c9c9c9;"></div>
<span class="c" style="left:116.80px;top:379.80px;width:23.10px;line-height:9.90px;text-align:left;color:#0d0d0d">25</span>
<div  style="left:142.60px;top:379.80px;width:38.70px;height:10.50px;background:#ececec;box-shadow:inset 0.75px 0 0 #c9c9c9, inset 0 0.7px 0 #c9c9c9;"></div>
<span class="c" style="left:144.80px;top:379.80px;width:33.80px;line-height:9.90px;text-align:left;color:#0d0d0d">13/12/23</span>
<div  style="left:181.30px;top:379.80px;width:39.50px;height:10.50px;background:#ececec;box-shadow:inset 0.75px 0 0 #c9c9c9, inset 0 0.7px 0 #c9c9c9;"></div>
<span class="c" style="left:183.50px;top:379.80px;width:34.60px;line-height:9.90px;text-align:left;color:#0d0d0d">14/12/23</span>
<div  style="left:220.80px;top:379.80px;width:49.40px;height:10.50px;background:#ececec;box-shadow:inset 0.75px 0 0 #c9c9c9, inset 0 0.7px 0 #c9c9c9;"></div>
<div  style="left:270.20px;top:379.80px;width:24.80px;height:10.50px;background:#ff0000;box-shadow:inset 0.75px 0 0 #c9c9c9, inset 0 0.8px 0 rgba(255,255,255,0.3);"></div>
<span class="c" style="left:272.40px;top:379.80px;width:19.90px;line-height:9.90px;text-align:left;color:#7a0000">P</span>
<div  style="left:295.00px;top:379.80px;width:16.40px;height:10.50px;background:#ececec;box-shadow:inset 0.75px 0 0 #c9c9c9, inset 0 0.7px 0 #c9c9c9;"></div>
<span class="c" style="left:297.20px;top:379.80px;width:11.50px;line-height:9.90px;text-align:right;color:#0d0d0d;overflow:visible">1</span>
<div  style="left:311.40px;top:379.80px;width:41.90px;height:10.50px;background:#ececec;box-shadow:inset 0.75px 0 0 #c9c9c9, inset 0 0.7px 0 #c9c9c9;"></div>
<span class="c" style="left:313.60px;top:379.80px;width:37.00px;line-height:9.90px;text-align:left;color:#0d0d0d">FF10888-7</span>
<div  style="left:353.30px;top:379.80px;width:85.30px;height:10.50px;background:#ececec;box-shadow:inset 0.75px 0 0 #c9c9c9, inset 0 0.7px 0 #c9c9c9;"></div>
<span class="c" style="left:355.50px;top:379.80px;width:80.40px;line-height:9.90px;text-align:left;color:#0d0d0d">200mm SQ PLATE</span>
<div  style="left:438.60px;top:379.80px;width:154.60px;height:10.50px;background:#008000;box-shadow:inset 0.75px 0 0 #c9c9c9, inset 0 0.8px 0 rgba(255,255,255,0.3);"></div>
<span class="c" style="left:440.80px;top:379.80px;width:149.70px;line-height:9.90px;text-align:left;color:#003800">25, 29</span>
<div  style="left:593.20px;top:379.80px;width:23.05px;height:10.50px;background:#ececec;box-shadow:inset 0.75px 0 0 #c9c9c9, inset 0 0.7px 0 #c9c9c9;"></div>
<span class="c" style="left:595.40px;top:379.80px;width:18.15px;line-height:9.90px;text-align:right;color:#0d0d0d;overflow:visible">0.16</span>
<div  style="left:616.25px;top:379.80px;width:21.85px;height:10.50px;background:#ececec;box-shadow:inset 0.75px 0 0 #c9c9c9, inset 0 0.7px 0 #c9c9c9;"></div>
<span class="c" style="left:618.45px;top:379.80px;width:16.95px;line-height:9.90px;text-align:right;color:#0d0d0d;overflow:visible">0.00</span>
<div  style="left:638.10px;top:379.80px;width:27.42px;height:10.50px;background:#ececec;box-shadow:inset 0.75px 0 0 #c9c9c9, inset 0 0.7px 0 #c9c9c9;"></div>
<span class="c" style="left:640.30px;top:379.80px;width:22.52px;line-height:9.90px;text-align:right;color:#0d0d0d;overflow:visible">20.00</span>
<div  style="left:665.52px;top:379.80px;width:32.78px;height:10.50px;background:#ececec;box-shadow:inset 0.75px 0 0 #c9c9c9, inset 0 0.7px 0 #c9c9c9;"></div>
<div class="cb" style="left:679px;top:382px;border-color:#bebebe"><svg viewBox="0 0 7 7" width="6" height="6"><path d="M1.3 3.3 L3 5.2 L5.9 1.7" fill="none" stroke="#000" stroke-width="1.55"/></svg></div>
<div  style="left:698.30px;top:379.80px;width:37.10px;height:10.50px;background:#ececec;box-shadow:inset 0.75px 0 0 #c9c9c9, inset 0 0.7px 0 #c9c9c9;"></div>
<div class="cb" style="left:714px;top:382px;border-color:#bebebe"></div>
<div  style="left:735.40px;top:379.80px;width:22.60px;height:10.50px;background:#ececec;box-shadow:inset 0.75px 0 0 #c9c9c9, inset 0 0.7px 0 #c9c9c9;"></div>
<div class="cb" style="left:744px;top:382px;border-color:#bebebe"></div>
<div  style="left:758.00px;top:379.80px;width:42.40px;height:10.50px;background:#ececec;box-shadow:inset 0.75px 0 0 #c9c9c9, inset 0 0.7px 0 #c9c9c9;"></div>
<div class="cb" style="left:776px;top:382px;border-color:#bebebe"></div>
<div  style="left:800.40px;top:379.80px;width:52.12px;height:10.50px;background:#ececec;box-shadow:inset 0.75px 0 0 #c9c9c9, inset 0 0.7px 0 #c9c9c9;"></div>
<span class="c" style="left:802.60px;top:379.80px;width:47.22px;line-height:9.90px;text-align:left;color:#0d0d0d">HANNAH HAS IN</span>
<div  style="left:852.52px;top:379.80px;width:33.78px;height:10.50px;background:#ececec;box-shadow:inset 0.75px 0 0 #c9c9c9, inset 0 0.7px 0 #c9c9c9;"></div>
<div class="cb" style="left:867px;top:382px;border-color:#bebebe"></div>
<div  style="left:886.30px;top:379.80px;width:29.30px;height:10.50px;background:#ececec;box-shadow:inset 0.75px 0 0 #c9c9c9, inset 0 0.7px 0 #c9c9c9;"></div>
<div  style="left:915.60px;top:379.80px;width:51.92px;height:10.50px;background:#ececec;box-shadow:inset 0.75px 0 0 #c9c9c9, inset 0 0.7px 0 #c9c9c9;"></div>
<span class="c" style="left:917.80px;top:379.80px;width:47.02px;line-height:9.90px;text-align:right;color:#0d0d0d;overflow:visible">5512</span>
<svg style="position:absolute;left:174.6px;top:298.8px" width="4.6" height="4.6" viewBox="0 0 5 5"><path d="M2.5 0.8 L4.4 4.2 H0.6 Z" fill="none" stroke="#dfeaf3" stroke-width="0.8"/></svg>
<div  style="left:0.00px;top:397.60px;width:1024.00px;height:3.60px;background:#043a5e;"></div>
<div  style="left:0.00px;top:401.20px;width:1024.00px;height:8.00px;background:#238cbf;"></div>
<span class="t" style="left:1.20px;top:400.50px;color:#e6f3fa;font-size:5.7px;line-height:9px">Multi Level Pegging - Trial kit up and down</span>
<svg style="position:absolute;left:1016.7px;top:402.6px" width="3.8" height="4.7" viewBox="0 0 7.6 11.2" preserveAspectRatio="none"><path d="M1.6 0.8 H6 V5.6 H1.6 Z" fill="none" stroke="#fff" stroke-width="1.5"/><path d="M4.9 1 V5.4" stroke="#fff" stroke-width="1.6"/><path d="M0.2 6.2 H7.4" stroke="#fff" stroke-width="1.5"/><path d="M3.8 6.4 V11" stroke="#fff" stroke-width="1.4"/></svg>
<div  style="left:0.00px;top:409.20px;width:1024.00px;height:1.60px;background:#dcf0fa;"></div>
<div  style="left:0.00px;top:410.80px;width:1024.00px;height:133.20px;background:#fff;"></div>
<div  style="left:0.00px;top:410.80px;width:1024.00px;height:8.90px;background:#043a5e;"></div>
<span class="t" style="left:0px;top:412px;width:1024px;text-align:center;color:#dfeaf3;font-size:5.5px;line-height:9px">RM_ctePegLink_1: Summary</span>
<div  style="left:0.00px;top:419.70px;width:1024.00px;height:19.40px;background:#2189ba;"></div>
<div  style="left:1023.00px;top:410.80px;width:1.00px;height:27.70px;background:#238cbf;"></div>
<span class="t" style="left:4.70px;top:425.20px;color:#f2f9fd;font-size:6.2px;line-height:10px">Drag a column header here to group by that column.</span>
<div  style="left:0.00px;top:438.50px;width:823.70px;height:9.50px;background:#043a5e;"></div>
<div  style="left:0.00px;top:438.50px;width:61.52px;height:9.50px;background:#043a5e;box-shadow:inset 0.6px 0 0 #3f6f92, inset -0.6px 0 0 #3f6f92, inset 0 0.6px 0 #2b5d82;"></div>
<div  style="left:61.52px;top:438.50px;width:38.48px;height:9.50px;background:#043a5e;box-shadow:inset 0.6px 0 0 #3f6f92, inset -0.6px 0 0 #3f6f92, inset 0 0.6px 0 #2b5d82;"></div>
<div  style="left:100.00px;top:438.50px;width:16.20px;height:9.50px;background:#043a5e;box-shadow:inset 0.6px 0 0 #3f6f92, inset -0.6px 0 0 #3f6f92, inset 0 0.6px 0 #2b5d82;"></div>
<div  style="left:116.20px;top:438.50px;width:50.32px;height:9.50px;background:#043a5e;box-shadow:inset 0.6px 0 0 #3f6f92, inset -0.6px 0 0 #3f6f92, inset 0 0.6px 0 #2b5d82;"></div>
<div  style="left:166.52px;top:438.50px;width:45.00px;height:9.50px;background:#043a5e;box-shadow:inset 0.6px 0 0 #3f6f92, inset -0.6px 0 0 #3f6f92, inset 0 0.6px 0 #2b5d82;"></div>
<div  style="left:211.52px;top:438.50px;width:42.38px;height:9.50px;background:#043a5e;box-shadow:inset 0.6px 0 0 #3f6f92, inset -0.6px 0 0 #3f6f92, inset 0 0.6px 0 #2b5d82;"></div>
<div  style="left:253.90px;top:438.50px;width:68.00px;height:9.50px;background:#043a5e;box-shadow:inset 0.6px 0 0 #3f6f92, inset -0.6px 0 0 #3f6f92, inset 0 0.6px 0 #2b5d82;"></div>
<div  style="left:321.90px;top:438.50px;width:22.30px;height:9.50px;background:#043a5e;box-shadow:inset 0.6px 0 0 #3f6f92, inset -0.6px 0 0 #3f6f92, inset 0 0.6px 0 #2b5d82;"></div>
<div  style="left:344.20px;top:438.50px;width:47.32px;height:9.50px;background:#043a5e;box-shadow:inset 0.6px 0 0 #3f6f92, inset -0.6px 0 0 #3f6f92, inset 0 0.6px 0 #2b5d82;"></div>
<div  style="left:391.52px;top:438.50px;width:58.00px;height:9.50px;background:#043a5e;box-shadow:inset 0.6px 0 0 #3f6f92, inset -0.6px 0 0 #3f6f92, inset 0 0.6px 0 #2b5d82;"></div>
<div  style="left:449.52px;top:438.50px;width:35.18px;height:9.50px;background:#043a5e;box-shadow:inset 0.6px 0 0 #3f6f92, inset -0.6px 0 0 #3f6f92, inset 0 0.6px 0 #2b5d82;"></div>
<div  style="left:484.70px;top:438.50px;width:42.00px;height:9.50px;background:#043a5e;box-shadow:inset 0.6px 0 0 #3f6f92, inset -0.6px 0 0 #3f6f92, inset 0 0.6px 0 #2b5d82;"></div>
<div  style="left:526.70px;top:438.50px;width:28.60px;height:9.50px;background:#043a5e;box-shadow:inset 0.6px 0 0 #3f6f92, inset -0.6px 0 0 #3f6f92, inset 0 0.6px 0 #2b5d82;"></div>
<div  style="left:555.30px;top:438.50px;width:31.50px;height:9.50px;background:#043a5e;box-shadow:inset 0.6px 0 0 #3f6f92, inset -0.6px 0 0 #3f6f92, inset 0 0.6px 0 #2b5d82;"></div>
<div  style="left:586.80px;top:438.50px;width:29.60px;height:9.50px;background:#043a5e;box-shadow:inset 0.6px 0 0 #3f6f92, inset -0.6px 0 0 #3f6f92, inset 0 0.6px 0 #2b5d82;"></div>
<div  style="left:616.40px;top:438.50px;width:60.12px;height:9.50px;background:#043a5e;box-shadow:inset 0.6px 0 0 #3f6f92, inset -0.6px 0 0 #3f6f92, inset 0 0.6px 0 #2b5d82;"></div>
<div  style="left:676.52px;top:438.50px;width:26.08px;height:9.50px;background:#043a5e;box-shadow:inset 0.6px 0 0 #3f6f92, inset -0.6px 0 0 #3f6f92, inset 0 0.6px 0 #2b5d82;"></div>
<div  style="left:702.60px;top:438.50px;width:49.60px;height:9.50px;background:#043a5e;box-shadow:inset 0.6px 0 0 #3f6f92, inset -0.6px 0 0 #3f6f92, inset 0 0.6px 0 #2b5d82;"></div>
<div  style="left:752.20px;top:438.50px;width:23.00px;height:9.50px;background:#043a5e;box-shadow:inset 0.6px 0 0 #3f6f92, inset -0.6px 0 0 #3f6f92, inset 0 0.6px 0 #2b5d82;"></div>
<div  style="left:775.20px;top:438.50px;width:48.50px;height:9.50px;background:#043a5e;box-shadow:inset 0.6px 0 0 #3f6f92, inset -0.6px 0 0 #3f6f92, inset 0 0.6px 0 #2b5d82;"></div>
<span class="h" style="left:0.00px;top:438.50px;width:55.52px;line-height:9.80px;text-align:center">Demand Sequence</span>
<span class="sg" style="left:55.42px;top:438.50px;line-height:9.50px">Σ</span>
<span class="h" style="left:55.52px;top:438.50px;width:50.48px;line-height:9.80px;text-align:center">Demand Type</span>
<span class="h" style="left:100.00px;top:438.50px;width:10.20px;line-height:9.80px;text-align:center">Le</span>
<span class="sg" style="left:110.10px;top:438.50px;line-height:9.50px">Σ</span>
<span class="h" style="left:110.20px;top:438.50px;width:62.32px;line-height:9.80px;text-align:center">DemandOrdNum</span>
<span class="h" style="left:160.52px;top:438.50px;width:57.00px;line-height:9.80px;text-align:center">DemandOrdLine</span>
<span class="h" style="left:205.52px;top:438.50px;width:54.38px;line-height:9.80px;text-align:center">DemandOrdRel</span>
<span class="h" style="left:247.90px;top:438.50px;width:80.00px;line-height:9.80px;text-align:center">Part</span>
<span class="h" style="left:321.90px;top:438.50px;width:16.30px;line-height:9.80px;text-align:center">Req</span>
<span class="sg" style="left:338.10px;top:438.50px;line-height:9.50px">Σ</span>
<span class="h" style="left:344.20px;top:438.50px;width:41.32px;line-height:9.80px;text-align:center">Supply Sequen</span>
<span class="sg" style="left:385.42px;top:438.50px;line-height:9.50px">Σ</span>
<span class="h" style="left:385.52px;top:438.50px;width:70.00px;line-height:9.80px;text-align:center">Supply Order Number</span>
<span class="h" style="left:443.52px;top:438.50px;width:47.18px;line-height:9.80px;text-align:center">Supply Type</span>
<span class="h" style="left:478.70px;top:438.50px;width:54.00px;line-height:9.80px;text-align:center">Supply Date</span>
<span class="h" style="left:526.70px;top:438.50px;width:22.60px;line-height:9.80px;text-align:center">Supply</span>
<span class="sg" style="left:549.20px;top:438.50px;line-height:9.50px">Σ</span>
<span class="h" style="left:555.30px;top:438.50px;width:25.50px;line-height:9.80px;text-align:center">Pegged</span>
<span class="sg" style="left:580.70px;top:438.50px;line-height:9.50px">Σ</span>
<span class="h" style="left:586.80px;top:438.50px;width:23.60px;line-height:9.80px;text-align:center">RowCo</span>
<span class="sg" style="left:610.30px;top:438.50px;line-height:9.50px">Σ</span>
<span class="h" style="left:610.40px;top:438.50px;width:72.12px;line-height:9.80px;text-align:center">OpList</span>
<span class="h" style="left:670.52px;top:438.50px;width:38.08px;line-height:9.80px;text-align:center">Part</span>
<span class="h" style="left:696.60px;top:438.50px;width:61.60px;line-height:9.80px;text-align:center">Desc</span>
<span class="h" style="left:752.20px;top:438.50px;width:17.00px;line-height:9.80px;text-align:center">Req</span>
<span class="sg" style="left:769.10px;top:438.50px;line-height:9.50px">Σ</span>
<span class="h" style="left:775.20px;top:438.50px;width:42.50px;line-height:9.80px;text-align:center">OpTime</span>
<span class="sg" style="left:817.60px;top:438.50px;line-height:9.50px">Σ</span>
<div  style="left:0.00px;top:448.00px;width:824.40px;height:84.70px;background:#c9c9c9;"></div>
<div  style="left:0.00px;top:448.00px;width:823.70px;height:84.00px;background:#ececec;"></div>
<div  style="left:0.00px;top:448.00px;width:9.00px;height:10.50px;background:#ececec;"></div>
<div class="arr" style="left:3.20px;top:450.75px"></div>
<div  style="left:9.00px;top:448.00px;width:52.52px;height:10.50px;background:#ececec;box-shadow:inset 0.75px 0 0 #c9c9c9;"></div>
<span class="c" style="left:11.20px;top:448.00px;width:47.62px;line-height:9.90px;text-align:right;color:#0d0d0d;overflow:visible">5512</span>
<div  style="left:61.52px;top:448.00px;width:38.48px;height:10.50px;background:#ececec;box-shadow:inset 0.75px 0 0 #c9c9c9;"></div>
<span class="c" style="left:63.72px;top:448.00px;width:33.58px;line-height:9.90px;text-align:left;color:#0d0d0d">S</span>
<div  style="left:100.00px;top:448.00px;width:16.20px;height:10.50px;background:#ececec;box-shadow:inset 0.75px 0 0 #c9c9c9;"></div>
<span class="c" style="left:102.20px;top:448.00px;width:11.30px;line-height:9.90px;text-align:right;color:#0d0d0d;overflow:visible">0</span>
<div  style="left:116.20px;top:448.00px;width:50.32px;height:10.50px;background:#ececec;box-shadow:inset 0.75px 0 0 #c9c9c9;"></div>
<span class="c" style="left:118.40px;top:448.00px;width:45.42px;line-height:9.90px;text-align:left;color:#0d0d0d">41563</span>
<div  style="left:166.52px;top:448.00px;width:45.00px;height:10.50px;background:#ececec;box-shadow:inset 0.75px 0 0 #c9c9c9;"></div>
<span class="c" style="left:168.72px;top:448.00px;width:40.10px;line-height:9.90px;text-align:left;color:#0d0d0d">1</span>
<div  style="left:211.52px;top:448.00px;width:42.38px;height:10.50px;background:#ececec;box-shadow:inset 0.75px 0 0 #c9c9c9;"></div>
<span class="c" style="left:213.72px;top:448.00px;width:37.48px;line-height:9.90px;text-align:left;color:#0d0d0d">1</span>
<div  style="left:253.90px;top:448.00px;width:68.00px;height:10.50px;background:#ececec;box-shadow:inset 0.75px 0 0 #c9c9c9;"></div>
<span class="c" style="left:256.10px;top:448.00px;width:63.10px;line-height:9.90px;text-align:left;color:#0d0d0d">FF10888</span>
<div  style="left:321.90px;top:448.00px;width:22.30px;height:10.50px;background:#ececec;box-shadow:inset 0.75px 0 0 #c9c9c9;"></div>
<span class="c" style="left:324.10px;top:448.00px;width:17.40px;line-height:9.90px;text-align:right;color:#0d0d0d;overflow:visible">20</span>
<div  style="left:344.20px;top:448.00px;width:47.32px;height:10.50px;background:#ececec;box-shadow:inset 0.75px 0 0 #c9c9c9;"></div>
<span class="c" style="left:346.40px;top:448.00px;width:42.42px;line-height:9.90px;text-align:right;color:#0d0d0d;overflow:visible">9688</span>
<div  style="left:391.52px;top:448.00px;width:58.00px;height:10.50px;background:#ececec;box-shadow:inset 0.75px 0 0 #c9c9c9;"></div>
<span class="c" style="left:393.72px;top:448.00px;width:53.10px;line-height:9.90px;text-align:left;color:#0d0d0d">U0000000000293</span>
<div  style="left:449.52px;top:448.00px;width:35.18px;height:10.50px;background:#ececec;box-shadow:inset 0.75px 0 0 #c9c9c9;"></div>
<span class="c" style="left:451.72px;top:448.00px;width:30.28px;line-height:9.90px;text-align:left;color:#0d0d0d">J</span>
<div  style="left:484.70px;top:448.00px;width:42.00px;height:10.50px;background:#ececec;box-shadow:inset 0.75px 0 0 #c9c9c9;"></div>
<span class="c" style="left:486.90px;top:448.00px;width:37.10px;line-height:9.90px;text-align:left;color:#0d0d0d">15/12/2023</span>
<div  style="left:526.70px;top:448.00px;width:28.60px;height:10.50px;background:#ececec;box-shadow:inset 0.75px 0 0 #c9c9c9;"></div>
<span class="c" style="left:528.90px;top:448.00px;width:23.70px;line-height:9.90px;text-align:right;color:#0d0d0d;overflow:visible">20</span>
<div  style="left:555.30px;top:448.00px;width:31.50px;height:10.50px;background:#ececec;box-shadow:inset 0.75px 0 0 #c9c9c9;"></div>
<span class="c" style="left:557.50px;top:448.00px;width:26.60px;line-height:9.90px;text-align:right;color:#0d0d0d;overflow:visible">20</span>
<div  style="left:586.80px;top:448.00px;width:29.60px;height:10.50px;background:#ececec;box-shadow:inset 0.75px 0 0 #c9c9c9;"></div>
<span class="c" style="left:589.00px;top:448.00px;width:24.70px;line-height:9.90px;text-align:right;color:#0d0d0d;overflow:visible">1</span>
<div  style="left:616.40px;top:448.00px;width:60.12px;height:10.50px;background:#ececec;box-shadow:inset 0.75px 0 0 #c9c9c9;"></div>
<span class="c" style="left:618.60px;top:448.00px;width:55.22px;line-height:9.90px;text-align:left;color:#0d0d0d">1, 94, 79, 81, 79, 94,</span>
<div  style="left:676.52px;top:448.00px;width:26.08px;height:10.50px;background:#043a5e;box-shadow:inset 0.75px 0 0 #c9c9c9;"></div>
<div  style="left:702.60px;top:448.00px;width:49.60px;height:10.50px;background:#043a5e;box-shadow:inset 0.75px 0 0 #c9c9c9;"></div>
<div  style="left:752.20px;top:448.00px;width:23.00px;height:10.50px;background:#ececec;box-shadow:inset 0.75px 0 0 #c9c9c9;"></div>
<div  style="left:775.20px;top:448.00px;width:48.50px;height:10.50px;background:#ececec;box-shadow:inset 0.75px 0 0 #c9c9c9;"></div>
<span class="c" style="left:777.40px;top:448.00px;width:43.60px;line-height:9.90px;text-align:right;color:#0d0d0d;overflow:visible">7.00</span>
<div  style="left:0.00px;top:458.50px;width:9.00px;height:10.50px;background:#ececec;box-shadow:inset 0 0.7px 0 #c9c9c9;"></div>
<div  style="left:9.00px;top:458.50px;width:52.52px;height:10.50px;background:#ececec;box-shadow:inset 0.75px 0 0 #c9c9c9, inset 0 0.7px 0 #c9c9c9;"></div>
<span class="c" style="left:11.20px;top:458.50px;width:47.62px;line-height:9.90px;text-align:right;color:#0d0d0d;overflow:visible">5512</span>
<div  style="left:61.52px;top:458.50px;width:38.48px;height:10.50px;background:#ececec;box-shadow:inset 0.75px 0 0 #c9c9c9, inset 0 0.7px 0 #c9c9c9;"></div>
<span class="c" style="left:63.72px;top:458.50px;width:33.58px;line-height:9.90px;text-align:left;color:#0d0d0d">S</span>
<div  style="left:100.00px;top:458.50px;width:16.20px;height:10.50px;background:#ececec;box-shadow:inset 0.75px 0 0 #c9c9c9, inset 0 0.7px 0 #c9c9c9;"></div>
<span class="c" style="left:102.20px;top:458.50px;width:11.30px;line-height:9.90px;text-align:right;color:#0d0d0d;overflow:visible">1</span>
<div  style="left:116.20px;top:458.50px;width:50.32px;height:10.50px;background:#ececec;box-shadow:inset 0.75px 0 0 #c9c9c9, inset 0 0.7px 0 #c9c9c9;"></div>
<span class="c" style="left:118.40px;top:458.50px;width:45.42px;line-height:9.90px;text-align:left;color:#0d0d0d">U0000000000293</span>
<div  style="left:166.52px;top:458.50px;width:45.00px;height:10.50px;background:#ececec;box-shadow:inset 0.75px 0 0 #c9c9c9, inset 0 0.7px 0 #c9c9c9;"></div>
<span class="c" style="left:168.72px;top:458.50px;width:40.10px;line-height:9.90px;text-align:left;color:#0d0d0d">0</span>
<div  style="left:211.52px;top:458.50px;width:42.38px;height:10.50px;background:#ececec;box-shadow:inset 0.75px 0 0 #c9c9c9, inset 0 0.7px 0 #c9c9c9;"></div>
<span class="c" style="left:213.72px;top:458.50px;width:37.48px;line-height:9.90px;text-align:left;color:#0d0d0d">90</span>
<div  style="left:253.90px;top:458.50px;width:68.00px;height:10.50px;background:#ececec;box-shadow:inset 0.75px 0 0 #c9c9c9, inset 0 0.7px 0 #c9c9c9;"></div>
<span class="c" style="left:256.10px;top:458.50px;width:63.10px;line-height:9.90px;text-align:left;color:#0d0d0d">FF10888-1</span>
<div  style="left:321.90px;top:458.50px;width:22.30px;height:10.50px;background:#ececec;box-shadow:inset 0.75px 0 0 #c9c9c9, inset 0 0.7px 0 #c9c9c9;"></div>
<span class="c" style="left:324.10px;top:458.50px;width:17.40px;line-height:9.90px;text-align:right;color:#0d0d0d;overflow:visible">20</span>
<div  style="left:344.20px;top:458.50px;width:47.32px;height:10.50px;background:#ececec;box-shadow:inset 0.75px 0 0 #c9c9c9, inset 0 0.7px 0 #c9c9c9;"></div>
<span class="c" style="left:346.40px;top:458.50px;width:42.42px;line-height:9.90px;text-align:right;color:#0d0d0d;overflow:visible">10417</span>
<div  style="left:391.52px;top:458.50px;width:58.00px;height:10.50px;background:#ececec;box-shadow:inset 0.75px 0 0 #c9c9c9, inset 0 0.7px 0 #c9c9c9;"></div>
<span class="c" style="left:393.72px;top:458.50px;width:53.10px;line-height:9.90px;text-align:left;color:#0d0d0d">U0000000001023</span>
<div  style="left:449.52px;top:458.50px;width:35.18px;height:10.50px;background:#ececec;box-shadow:inset 0.75px 0 0 #c9c9c9, inset 0 0.7px 0 #c9c9c9;"></div>
<span class="c" style="left:451.72px;top:458.50px;width:30.28px;line-height:9.90px;text-align:left;color:#0d0d0d">J</span>
<div  style="left:484.70px;top:458.50px;width:42.00px;height:10.50px;background:#ececec;box-shadow:inset 0.75px 0 0 #c9c9c9, inset 0 0.7px 0 #c9c9c9;"></div>
<span class="c" style="left:486.90px;top:458.50px;width:37.10px;line-height:9.90px;text-align:left;color:#0d0d0d">14/12/2023</span>
<div  style="left:526.70px;top:458.50px;width:28.60px;height:10.50px;background:#ececec;box-shadow:inset 0.75px 0 0 #c9c9c9, inset 0 0.7px 0 #c9c9c9;"></div>
<span class="c" style="left:528.90px;top:458.50px;width:23.70px;line-height:9.90px;text-align:right;color:#0d0d0d;overflow:visible">20</span>
<div  style="left:555.30px;top:458.50px;width:31.50px;height:10.50px;background:#ececec;box-shadow:inset 0.75px 0 0 #c9c9c9, inset 0 0.7px 0 #c9c9c9;"></div>
<span class="c" style="left:557.50px;top:458.50px;width:26.60px;line-height:9.90px;text-align:right;color:#0d0d0d;overflow:visible">20</span>
<div  style="left:586.80px;top:458.50px;width:29.60px;height:10.50px;background:#ececec;box-shadow:inset 0.75px 0 0 #c9c9c9, inset 0 0.7px 0 #c9c9c9;"></div>
<span class="c" style="left:589.00px;top:458.50px;width:24.70px;line-height:9.90px;text-align:right;color:#0d0d0d;overflow:visible">1</span>
<div  style="left:616.40px;top:458.50px;width:60.12px;height:10.50px;background:#ececec;box-shadow:inset 0.75px 0 0 #c9c9c9, inset 0 0.7px 0 #c9c9c9;"></div>
<span class="c" style="left:618.60px;top:458.50px;width:55.22px;line-height:9.90px;text-align:left;color:#0d0d0d">25, 29, 42</span>
<div  style="left:676.52px;top:458.50px;width:26.08px;height:10.50px;background:#ececec;box-shadow:inset 0.75px 0 0 #c9c9c9, inset 0 0.7px 0 #c9c9c9;"></div>
<span class="c" style="left:678.72px;top:458.50px;width:21.18px;line-height:9.90px;text-align:left;color:#0d0d0d">BLG047</span>
<div  style="left:702.60px;top:458.50px;width:49.60px;height:10.50px;background:#ececec;box-shadow:inset 0.75px 0 0 #c9c9c9, inset 0 0.7px 0 #c9c9c9;"></div>
<span class="c" style="left:704.80px;top:458.50px;width:44.70px;line-height:9.90px;text-align:left;color:#0d0d0d">1.5 X 2500 X 125</span>
<div  style="left:752.20px;top:458.50px;width:23.00px;height:10.50px;background:#ececec;box-shadow:inset 0.75px 0 0 #c9c9c9, inset 0 0.7px 0 #c9c9c9;"></div>
<span class="c" style="left:754.40px;top:458.50px;width:18.10px;line-height:9.90px;text-align:right;color:#0d0d0d;overflow:visible">0.63</span>
<div  style="left:775.20px;top:458.50px;width:48.50px;height:10.50px;background:#ececec;box-shadow:inset 0.75px 0 0 #c9c9c9, inset 0 0.7px 0 #c9c9c9;"></div>
<span class="c" style="left:777.40px;top:458.50px;width:43.60px;line-height:9.90px;text-align:right;color:#0d0d0d;overflow:visible">3.00</span>
<div  style="left:0.00px;top:469.00px;width:9.00px;height:10.50px;background:#ececec;box-shadow:inset 0 0.7px 0 #c9c9c9;"></div>
<div  style="left:9.00px;top:469.00px;width:52.52px;height:10.50px;background:#ececec;box-shadow:inset 0.75px 0 0 #c9c9c9, inset 0 0.7px 0 #c9c9c9;"></div>
<span class="c" style="left:11.20px;top:469.00px;width:47.62px;line-height:9.90px;text-align:right;color:#0d0d0d;overflow:visible">5512</span>
<div  style="left:61.52px;top:469.00px;width:38.48px;height:10.50px;background:#ececec;box-shadow:inset 0.75px 0 0 #c9c9c9, inset 0 0.7px 0 #c9c9c9;"></div>
<span class="c" style="left:63.72px;top:469.00px;width:33.58px;line-height:9.90px;text-align:left;color:#0d0d0d">S</span>
<div  style="left:100.00px;top:469.00px;width:16.20px;height:10.50px;background:#ececec;box-shadow:inset 0.75px 0 0 #c9c9c9, inset 0 0.7px 0 #c9c9c9;"></div>
<span class="c" style="left:102.20px;top:469.00px;width:11.30px;line-height:9.90px;text-align:right;color:#0d0d0d;overflow:visible">1</span>
<div  style="left:116.20px;top:469.00px;width:50.32px;height:10.50px;background:#ececec;box-shadow:inset 0.75px 0 0 #c9c9c9, inset 0 0.7px 0 #c9c9c9;"></div>
<span class="c" style="left:118.40px;top:469.00px;width:45.42px;line-height:9.90px;text-align:left;color:#0d0d0d">U0000000000293</span>
<div  style="left:166.52px;top:469.00px;width:45.00px;height:10.50px;background:#ececec;box-shadow:inset 0.75px 0 0 #c9c9c9, inset 0 0.7px 0 #c9c9c9;"></div>
<span class="c" style="left:168.72px;top:469.00px;width:40.10px;line-height:9.90px;text-align:left;color:#0d0d0d">0</span>
<div  style="left:211.52px;top:469.00px;width:42.38px;height:10.50px;background:#ececec;box-shadow:inset 0.75px 0 0 #c9c9c9, inset 0 0.7px 0 #c9c9c9;"></div>
<span class="c" style="left:213.72px;top:469.00px;width:37.48px;line-height:9.90px;text-align:left;color:#0d0d0d">100</span>
<div  style="left:253.90px;top:469.00px;width:68.00px;height:10.50px;background:#ececec;box-shadow:inset 0.75px 0 0 #c9c9c9, inset 0 0.7px 0 #c9c9c9;"></div>
<span class="c" style="left:256.10px;top:469.00px;width:63.10px;line-height:9.90px;text-align:left;color:#0d0d0d">FF10888-2</span>
<div  style="left:321.90px;top:469.00px;width:22.30px;height:10.50px;background:#ececec;box-shadow:inset 0.75px 0 0 #c9c9c9, inset 0 0.7px 0 #c9c9c9;"></div>
<span class="c" style="left:324.10px;top:469.00px;width:17.40px;line-height:9.90px;text-align:right;color:#0d0d0d;overflow:visible">20</span>
<div  style="left:344.20px;top:469.00px;width:47.32px;height:10.50px;background:#ececec;box-shadow:inset 0.75px 0 0 #c9c9c9, inset 0 0.7px 0 #c9c9c9;"></div>
<span class="c" style="left:346.40px;top:469.00px;width:42.42px;line-height:9.90px;text-align:right;color:#0d0d0d;overflow:visible">10418</span>
<div  style="left:391.52px;top:469.00px;width:58.00px;height:10.50px;background:#ffff00;box-shadow:inset 0.75px 0 0 #c9c9c9, inset 0 0.8px 0 rgba(255,255,255,0.3);"></div>
<span class="c" style="left:393.72px;top:469.00px;width:53.10px;line-height:9.90px;text-align:left;color:#1a1a1a">U0000000001024</span>
<div  style="left:449.52px;top:469.00px;width:35.18px;height:10.50px;background:#ececec;box-shadow:inset 0.75px 0 0 #c9c9c9, inset 0 0.7px 0 #c9c9c9;"></div>
<span class="c" style="left:451.72px;top:469.00px;width:30.28px;line-height:9.90px;text-align:left;color:#0d0d0d">J</span>
<div  style="left:484.70px;top:469.00px;width:42.00px;height:10.50px;background:#ececec;box-shadow:inset 0.75px 0 0 #c9c9c9, inset 0 0.7px 0 #c9c9c9;"></div>
<span class="c" style="left:486.90px;top:469.00px;width:37.10px;line-height:9.90px;text-align:left;color:#0d0d0d">14/12/2023</span>
<div  style="left:526.70px;top:469.00px;width:28.60px;height:10.50px;background:#ececec;box-shadow:inset 0.75px 0 0 #c9c9c9, inset 0 0.7px 0 #c9c9c9;"></div>
<span class="c" style="left:528.90px;top:469.00px;width:23.70px;line-height:9.90px;text-align:right;color:#0d0d0d;overflow:visible">20</span>
<div  style="left:555.30px;top:469.00px;width:31.50px;height:10.50px;background:#ececec;box-shadow:inset 0.75px 0 0 #c9c9c9, inset 0 0.7px 0 #c9c9c9;"></div>
<span class="c" style="left:557.50px;top:469.00px;width:26.60px;line-height:9.90px;text-align:right;color:#0d0d0d;overflow:visible">20</span>
<div  style="left:586.80px;top:469.00px;width:29.60px;height:10.50px;background:#ececec;box-shadow:inset 0.75px 0 0 #c9c9c9, inset 0 0.7px 0 #c9c9c9;"></div>
<span class="c" style="left:589.00px;top:469.00px;width:24.70px;line-height:9.90px;text-align:right;color:#0d0d0d;overflow:visible">1</span>
<div  style="left:616.40px;top:469.00px;width:60.12px;height:10.50px;background:#ececec;box-shadow:inset 0.75px 0 0 #c9c9c9, inset 0 0.7px 0 #c9c9c9;"></div>
<span class="c" style="left:618.60px;top:469.00px;width:55.22px;line-height:9.90px;text-align:left;color:#0d0d0d">25, 29, 42</span>
<div  style="left:676.52px;top:469.00px;width:26.08px;height:10.50px;background:#ececec;box-shadow:inset 0.75px 0 0 #c9c9c9, inset 0 0.7px 0 #c9c9c9;"></div>
<span class="c" style="left:678.72px;top:469.00px;width:21.18px;line-height:9.90px;text-align:left;color:#0d0d0d">BLG047</span>
<div  style="left:702.60px;top:469.00px;width:49.60px;height:10.50px;background:#ececec;box-shadow:inset 0.75px 0 0 #c9c9c9, inset 0 0.7px 0 #c9c9c9;"></div>
<span class="c" style="left:704.80px;top:469.00px;width:44.70px;line-height:9.90px;text-align:left;color:#0d0d0d">1.5 X 2500 X 125</span>
<div  style="left:752.20px;top:469.00px;width:23.00px;height:10.50px;background:#ececec;box-shadow:inset 0.75px 0 0 #c9c9c9, inset 0 0.7px 0 #c9c9c9;"></div>
<span class="c" style="left:754.40px;top:469.00px;width:18.10px;line-height:9.90px;text-align:right;color:#0d0d0d;overflow:visible">0.63</span>
<div  style="left:775.20px;top:469.00px;width:48.50px;height:10.50px;background:#ececec;box-shadow:inset 0.75px 0 0 #c9c9c9, inset 0 0.7px 0 #c9c9c9;"></div>
<span class="c" style="left:777.40px;top:469.00px;width:43.60px;line-height:9.90px;text-align:right;color:#0d0d0d;overflow:visible">3.00</span>
<div  style="left:0.00px;top:479.50px;width:9.00px;height:10.50px;background:#ececec;box-shadow:inset 0 0.7px 0 #c9c9c9;"></div>
<div  style="left:9.00px;top:479.50px;width:52.52px;height:10.50px;background:#ececec;box-shadow:inset 0.75px 0 0 #c9c9c9, inset 0 0.7px 0 #c9c9c9;"></div>
<span class="c" style="left:11.20px;top:479.50px;width:47.62px;line-height:9.90px;text-align:right;color:#0d0d0d;overflow:visible">5512</span>
<div  style="left:61.52px;top:479.50px;width:38.48px;height:10.50px;background:#ececec;box-shadow:inset 0.75px 0 0 #c9c9c9, inset 0 0.7px 0 #c9c9c9;"></div>
<span class="c" style="left:63.72px;top:479.50px;width:33.58px;line-height:9.90px;text-align:left;color:#0d0d0d">S</span>
<div  style="left:100.00px;top:479.50px;width:16.20px;height:10.50px;background:#ececec;box-shadow:inset 0.75px 0 0 #c9c9c9, inset 0 0.7px 0 #c9c9c9;"></div>
<span class="c" style="left:102.20px;top:479.50px;width:11.30px;line-height:9.90px;text-align:right;color:#0d0d0d;overflow:visible">1</span>
<div  style="left:116.20px;top:479.50px;width:50.32px;height:10.50px;background:#ececec;box-shadow:inset 0.75px 0 0 #c9c9c9, inset 0 0.7px 0 #c9c9c9;"></div>
<span class="c" style="left:118.40px;top:479.50px;width:45.42px;line-height:9.90px;text-align:left;color:#0d0d0d">U0000000000293</span>
<div  style="left:166.52px;top:479.50px;width:45.00px;height:10.50px;background:#ececec;box-shadow:inset 0.75px 0 0 #c9c9c9, inset 0 0.7px 0 #c9c9c9;"></div>
<span class="c" style="left:168.72px;top:479.50px;width:40.10px;line-height:9.90px;text-align:left;color:#0d0d0d">0</span>
<div  style="left:211.52px;top:479.50px;width:42.38px;height:10.50px;background:#ececec;box-shadow:inset 0.75px 0 0 #c9c9c9, inset 0 0.7px 0 #c9c9c9;"></div>
<span class="c" style="left:213.72px;top:479.50px;width:37.48px;line-height:9.90px;text-align:left;color:#0d0d0d">110</span>
<div  style="left:253.90px;top:479.50px;width:68.00px;height:10.50px;background:#ececec;box-shadow:inset 0.75px 0 0 #c9c9c9, inset 0 0.7px 0 #c9c9c9;"></div>
<span class="c" style="left:256.10px;top:479.50px;width:63.10px;line-height:9.90px;text-align:left;color:#0d0d0d">FF10888-3</span>
<div  style="left:321.90px;top:479.50px;width:22.30px;height:10.50px;background:#ececec;box-shadow:inset 0.75px 0 0 #c9c9c9, inset 0 0.7px 0 #c9c9c9;"></div>
<span class="c" style="left:324.10px;top:479.50px;width:17.40px;line-height:9.90px;text-align:right;color:#0d0d0d;overflow:visible">20</span>
<div  style="left:344.20px;top:479.50px;width:47.32px;height:10.50px;background:#ececec;box-shadow:inset 0.75px 0 0 #c9c9c9, inset 0 0.7px 0 #c9c9c9;"></div>
<span class="c" style="left:346.40px;top:479.50px;width:42.42px;line-height:9.90px;text-align:right;color:#0d0d0d;overflow:visible">10419</span>
<div  style="left:391.52px;top:479.50px;width:58.00px;height:10.50px;background:#ececec;box-shadow:inset 0.75px 0 0 #c9c9c9, inset 0 0.7px 0 #c9c9c9;"></div>
<span class="c" style="left:393.72px;top:479.50px;width:53.10px;line-height:9.90px;text-align:left;color:#0d0d0d">U0000000001025</span>
<div  style="left:449.52px;top:479.50px;width:35.18px;height:10.50px;background:#ececec;box-shadow:inset 0.75px 0 0 #c9c9c9, inset 0 0.7px 0 #c9c9c9;"></div>
<span class="c" style="left:451.72px;top:479.50px;width:30.28px;line-height:9.90px;text-align:left;color:#0d0d0d">J</span>
<div  style="left:484.70px;top:479.50px;width:42.00px;height:10.50px;background:#ececec;box-shadow:inset 0.75px 0 0 #c9c9c9, inset 0 0.7px 0 #c9c9c9;"></div>
<span class="c" style="left:486.90px;top:479.50px;width:37.10px;line-height:9.90px;text-align:left;color:#0d0d0d">14/12/2023</span>
<div  style="left:526.70px;top:479.50px;width:28.60px;height:10.50px;background:#ececec;box-shadow:inset 0.75px 0 0 #c9c9c9, inset 0 0.7px 0 #c9c9c9;"></div>
<span class="c" style="left:528.90px;top:479.50px;width:23.70px;line-height:9.90px;text-align:right;color:#0d0d0d;overflow:visible">20</span>
<div  style="left:555.30px;top:479.50px;width:31.50px;height:10.50px;background:#ececec;box-shadow:inset 0.75px 0 0 #c9c9c9, inset 0 0.7px 0 #c9c9c9;"></div>
<span class="c" style="left:557.50px;top:479.50px;width:26.60px;line-height:9.90px;text-align:right;color:#0d0d0d;overflow:visible">20</span>
<div  style="left:586.80px;top:479.50px;width:29.60px;height:10.50px;background:#ececec;box-shadow:inset 0.75px 0 0 #c9c9c9, inset 0 0.7px 0 #c9c9c9;"></div>
<span class="c" style="left:589.00px;top:479.50px;width:24.70px;line-height:9.90px;text-align:right;color:#0d0d0d;overflow:visible">1</span>
<div  style="left:616.40px;top:479.50px;width:60.12px;height:10.50px;background:#ececec;box-shadow:inset 0.75px 0 0 #c9c9c9, inset 0 0.7px 0 #c9c9c9;"></div>
<span class="c" style="left:618.60px;top:479.50px;width:55.22px;line-height:9.90px;text-align:left;color:#0d0d0d">25, 29, 42</span>
<div  style="left:676.52px;top:479.50px;width:26.08px;height:10.50px;background:#ececec;box-shadow:inset 0.75px 0 0 #c9c9c9, inset 0 0.7px 0 #c9c9c9;"></div>
<span class="c" style="left:678.72px;top:479.50px;width:21.18px;line-height:9.90px;text-align:left;color:#0d0d0d">BLG047</span>
<div  style="left:702.60px;top:479.50px;width:49.60px;height:10.50px;background:#ececec;box-shadow:inset 0.75px 0 0 #c9c9c9, inset 0 0.7px 0 #c9c9c9;"></div>
<span class="c" style="left:704.80px;top:479.50px;width:44.70px;line-height:9.90px;text-align:left;color:#0d0d0d">1.5 X 2500 X 125</span>
<div  style="left:752.20px;top:479.50px;width:23.00px;height:10.50px;background:#ececec;box-shadow:inset 0.75px 0 0 #c9c9c9, inset 0 0.7px 0 #c9c9c9;"></div>
<span class="c" style="left:754.40px;top:479.50px;width:18.10px;line-height:9.90px;text-align:right;color:#0d0d0d;overflow:visible">0.63</span>
<div  style="left:775.20px;top:479.50px;width:48.50px;height:10.50px;background:#ececec;box-shadow:inset 0.75px 0 0 #c9c9c9, inset 0 0.7px 0 #c9c9c9;"></div>
<span class="c" style="left:777.40px;top:479.50px;width:43.60px;line-height:9.90px;text-align:right;color:#0d0d0d;overflow:visible">3.00</span>
<div  style="left:0.00px;top:490.00px;width:9.00px;height:10.50px;background:#ececec;box-shadow:inset 0 0.7px 0 #c9c9c9;"></div>
<div  style="left:9.00px;top:490.00px;width:52.52px;height:10.50px;background:#ececec;box-shadow:inset 0.75px 0 0 #c9c9c9, inset 0 0.7px 0 #c9c9c9;"></div>
<span class="c" style="left:11.20px;top:490.00px;width:47.62px;line-height:9.90px;text-align:right;color:#0d0d0d;overflow:visible">5512</span>
<div  style="left:61.52px;top:490.00px;width:38.48px;height:10.50px;background:#ececec;box-shadow:inset 0.75px 0 0 #c9c9c9, inset 0 0.7px 0 #c9c9c9;"></div>
<span class="c" style="left:63.72px;top:490.00px;width:33.58px;line-height:9.90px;text-align:left;color:#0d0d0d">S</span>
<div  style="left:100.00px;top:490.00px;width:16.20px;height:10.50px;background:#ececec;box-shadow:inset 0.75px 0 0 #c9c9c9, inset 0 0.7px 0 #c9c9c9;"></div>
<span class="c" style="left:102.20px;top:490.00px;width:11.30px;line-height:9.90px;text-align:right;color:#0d0d0d;overflow:visible">1</span>
<div  style="left:116.20px;top:490.00px;width:50.32px;height:10.50px;background:#ececec;box-shadow:inset 0.75px 0 0 #c9c9c9, inset 0 0.7px 0 #c9c9c9;"></div>
<span class="c" style="left:118.40px;top:490.00px;width:45.42px;line-height:9.90px;text-align:left;color:#0d0d0d">U0000000000293</span>
<div  style="left:166.52px;top:490.00px;width:45.00px;height:10.50px;background:#ececec;box-shadow:inset 0.75px 0 0 #c9c9c9, inset 0 0.7px 0 #c9c9c9;"></div>
<span class="c" style="left:168.72px;top:490.00px;width:40.10px;line-height:9.90px;text-align:left;color:#0d0d0d">0</span>
<div  style="left:211.52px;top:490.00px;width:42.38px;height:10.50px;background:#ececec;box-shadow:inset 0.75px 0 0 #c9c9c9, inset 0 0.7px 0 #c9c9c9;"></div>
<span class="c" style="left:213.72px;top:490.00px;width:37.48px;line-height:9.90px;text-align:left;color:#0d0d0d">120</span>
<div  style="left:253.90px;top:490.00px;width:68.00px;height:10.50px;background:#ececec;box-shadow:inset 0.75px 0 0 #c9c9c9, inset 0 0.7px 0 #c9c9c9;"></div>
<span class="c" style="left:256.10px;top:490.00px;width:63.10px;line-height:9.90px;text-align:left;color:#0d0d0d">FF10888-4</span>
<div  style="left:321.90px;top:490.00px;width:22.30px;height:10.50px;background:#ececec;box-shadow:inset 0.75px 0 0 #c9c9c9, inset 0 0.7px 0 #c9c9c9;"></div>
<span class="c" style="left:324.10px;top:490.00px;width:17.40px;line-height:9.90px;text-align:right;color:#0d0d0d;overflow:visible">20</span>
<div  style="left:344.20px;top:490.00px;width:47.32px;height:10.50px;background:#ececec;box-shadow:inset 0.75px 0 0 #c9c9c9, inset 0 0.7px 0 #c9c9c9;"></div>
<span class="c" style="left:346.40px;top:490.00px;width:42.42px;line-height:9.90px;text-align:right;color:#0d0d0d;overflow:visible">10420</span>
<div  style="left:391.52px;top:490.00px;width:58.00px;height:10.50px;background:#ececec;box-shadow:inset 0.75px 0 0 #c9c9c9, inset 0 0.7px 0 #c9c9c9;"></div>
<span class="c" style="left:393.72px;top:490.00px;width:53.10px;line-height:9.90px;text-align:left;color:#0d0d0d">U0000000001026</span>
<div  style="left:449.52px;top:490.00px;width:35.18px;height:10.50px;background:#ececec;box-shadow:inset 0.75px 0 0 #c9c9c9, inset 0 0.7px 0 #c9c9c9;"></div>
<span class="c" style="left:451.72px;top:490.00px;width:30.28px;line-height:9.90px;text-align:left;color:#0d0d0d">J</span>
<div  style="left:484.70px;top:490.00px;width:42.00px;height:10.50px;background:#ececec;box-shadow:inset 0.75px 0 0 #c9c9c9, inset 0 0.7px 0 #c9c9c9;"></div>
<span class="c" style="left:486.90px;top:490.00px;width:37.10px;line-height:9.90px;text-align:left;color:#0d0d0d">14/12/2023</span>
<div  style="left:526.70px;top:490.00px;width:28.60px;height:10.50px;background:#ececec;box-shadow:inset 0.75px 0 0 #c9c9c9, inset 0 0.7px 0 #c9c9c9;"></div>
<span class="c" style="left:528.90px;top:490.00px;width:23.70px;line-height:9.90px;text-align:right;color:#0d0d0d;overflow:visible">20</span>
<div  style="left:555.30px;top:490.00px;width:31.50px;height:10.50px;background:#ececec;box-shadow:inset 0.75px 0 0 #c9c9c9, inset 0 0.7px 0 #c9c9c9;"></div>
<span class="c" style="left:557.50px;top:490.00px;width:26.60px;line-height:9.90px;text-align:right;color:#0d0d0d;overflow:visible">20</span>
<div  style="left:586.80px;top:490.00px;width:29.60px;height:10.50px;background:#ececec;box-shadow:inset 0.75px 0 0 #c9c9c9, inset 0 0.7px 0 #c9c9c9;"></div>
<span class="c" style="left:589.00px;top:490.00px;width:24.70px;line-height:9.90px;text-align:right;color:#0d0d0d;overflow:visible">1</span>
<div  style="left:616.40px;top:490.00px;width:60.12px;height:10.50px;background:#ececec;box-shadow:inset 0.75px 0 0 #c9c9c9, inset 0 0.7px 0 #c9c9c9;"></div>
<span class="c" style="left:618.60px;top:490.00px;width:55.22px;line-height:9.90px;text-align:left;color:#0d0d0d">25, 29, 42</span>
<div  style="left:676.52px;top:490.00px;width:26.08px;height:10.50px;background:#ececec;box-shadow:inset 0.75px 0 0 #c9c9c9, inset 0 0.7px 0 #c9c9c9;"></div>
<span class="c" style="left:678.72px;top:490.00px;width:21.18px;line-height:9.90px;text-align:left;color:#0d0d0d">BLG047</span>
<div  style="left:702.60px;top:490.00px;width:49.60px;height:10.50px;background:#ececec;box-shadow:inset 0.75px 0 0 #c9c9c9, inset 0 0.7px 0 #c9c9c9;"></div>
<span class="c" style="left:704.80px;top:490.00px;width:44.70px;line-height:9.90px;text-align:left;color:#0d0d0d">1.5 X 2500 X 125</span>
<div  style="left:752.20px;top:490.00px;width:23.00px;height:10.50px;background:#ececec;box-shadow:inset 0.75px 0 0 #c9c9c9, inset 0 0.7px 0 #c9c9c9;"></div>
<span class="c" style="left:754.40px;top:490.00px;width:18.10px;line-height:9.90px;text-align:right;color:#0d0d0d;overflow:visible">0.63</span>
<div  style="left:775.20px;top:490.00px;width:48.50px;height:10.50px;background:#ececec;box-shadow:inset 0.75px 0 0 #c9c9c9, inset 0 0.7px 0 #c9c9c9;"></div>
<span class="c" style="left:777.40px;top:490.00px;width:43.60px;line-height:9.90px;text-align:right;color:#0d0d0d;overflow:visible">3.00</span>
<div  style="left:0.00px;top:500.50px;width:9.00px;height:10.50px;background:#ececec;box-shadow:inset 0 0.7px 0 #c9c9c9;"></div>
<div  style="left:9.00px;top:500.50px;width:52.52px;height:10.50px;background:#ececec;box-shadow:inset 0.75px 0 0 #c9c9c9, inset 0 0.7px 0 #c9c9c9;"></div>
<span class="c" style="left:11.20px;top:500.50px;width:47.62px;line-height:9.90px;text-align:right;color:#0d0d0d;overflow:visible">5512</span>
<div  style="left:61.52px;top:500.50px;width:38.48px;height:10.50px;background:#ececec;box-shadow:inset 0.75px 0 0 #c9c9c9, inset 0 0.7px 0 #c9c9c9;"></div>
<span class="c" style="left:63.72px;top:500.50px;width:33.58px;line-height:9.90px;text-align:left;color:#0d0d0d">S</span>
<div  style="left:100.00px;top:500.50px;width:16.20px;height:10.50px;background:#ececec;box-shadow:inset 0.75px 0 0 #c9c9c9, inset 0 0.7px 0 #c9c9c9;"></div>
<span class="c" style="left:102.20px;top:500.50px;width:11.30px;line-height:9.90px;text-align:right;color:#0d0d0d;overflow:visible">1</span>
<div  style="left:116.20px;top:500.50px;width:50.32px;height:10.50px;background:#ececec;box-shadow:inset 0.75px 0 0 #c9c9c9, inset 0 0.7px 0 #c9c9c9;"></div>
<span class="c" style="left:118.40px;top:500.50px;width:45.42px;line-height:9.90px;text-align:left;color:#0d0d0d">U0000000000293</span>
<div  style="left:166.52px;top:500.50px;width:45.00px;height:10.50px;background:#ececec;box-shadow:inset 0.75px 0 0 #c9c9c9, inset 0 0.7px 0 #c9c9c9;"></div>
<span class="c" style="left:168.72px;top:500.50px;width:40.10px;line-height:9.90px;text-align:left;color:#0d0d0d">0</span>
<div  style="left:211.52px;top:500.50px;width:42.38px;height:10.50px;background:#ececec;box-shadow:inset 0.75px 0 0 #c9c9c9, inset 0 0.7px 0 #c9c9c9;"></div>
<span class="c" style="left:213.72px;top:500.50px;width:37.48px;line-height:9.90px;text-align:left;color:#0d0d0d">130</span>
<div  style="left:253.90px;top:500.50px;width:68.00px;height:10.50px;background:#ececec;box-shadow:inset 0.75px 0 0 #c9c9c9, inset 0 0.7px 0 #c9c9c9;"></div>
<span class="c" style="left:256.10px;top:500.50px;width:63.10px;line-height:9.90px;text-align:left;color:#0d0d0d">FF10888-5</span>
<div  style="left:321.90px;top:500.50px;width:22.30px;height:10.50px;background:#ececec;box-shadow:inset 0.75px 0 0 #c9c9c9, inset 0 0.7px 0 #c9c9c9;"></div>
<span class="c" style="left:324.10px;top:500.50px;width:17.40px;line-height:9.90px;text-align:right;color:#0d0d0d;overflow:visible">20</span>
<div  style="left:344.20px;top:500.50px;width:47.32px;height:10.50px;background:#ececec;box-shadow:inset 0.75px 0 0 #c9c9c9, inset 0 0.7px 0 #c9c9c9;"></div>
<span class="c" style="left:346.40px;top:500.50px;width:42.42px;line-height:9.90px;text-align:right;color:#0d0d0d;overflow:visible">10421</span>
<div  style="left:391.52px;top:500.50px;width:58.00px;height:10.50px;background:#ececec;box-shadow:inset 0.75px 0 0 #c9c9c9, inset 0 0.7px 0 #c9c9c9;"></div>
<span class="c" style="left:393.72px;top:500.50px;width:53.10px;line-height:9.90px;text-align:left;color:#0d0d0d">U0000000001027</span>
<div  style="left:449.52px;top:500.50px;width:35.18px;height:10.50px;background:#ececec;box-shadow:inset 0.75px 0 0 #c9c9c9, inset 0 0.7px 0 #c9c9c9;"></div>
<span class="c" style="left:451.72px;top:500.50px;width:30.28px;line-height:9.90px;text-align:left;color:#0d0d0d">J</span>
<div  style="left:484.70px;top:500.50px;width:42.00px;height:10.50px;background:#ececec;box-shadow:inset 0.75px 0 0 #c9c9c9, inset 0 0.7px 0 #c9c9c9;"></div>
<span class="c" style="left:486.90px;top:500.50px;width:37.10px;line-height:9.90px;text-align:left;color:#0d0d0d">14/12/2023</span>
<div  style="left:526.70px;top:500.50px;width:28.60px;height:10.50px;background:#ececec;box-shadow:inset 0.75px 0 0 #c9c9c9, inset 0 0.7px 0 #c9c9c9;"></div>
<span class="c" style="left:528.90px;top:500.50px;width:23.70px;line-height:9.90px;text-align:right;color:#0d0d0d;overflow:visible">80</span>
<div  style="left:555.30px;top:500.50px;width:31.50px;height:10.50px;background:#ececec;box-shadow:inset 0.75px 0 0 #c9c9c9, inset 0 0.7px 0 #c9c9c9;"></div>
<span class="c" style="left:557.50px;top:500.50px;width:26.60px;line-height:9.90px;text-align:right;color:#0d0d0d;overflow:visible">80</span>
<div  style="left:586.80px;top:500.50px;width:29.60px;height:10.50px;background:#ececec;box-shadow:inset 0.75px 0 0 #c9c9c9, inset 0 0.7px 0 #c9c9c9;"></div>
<span class="c" style="left:589.00px;top:500.50px;width:24.70px;line-height:9.90px;text-align:right;color:#0d0d0d;overflow:visible">1</span>
<div  style="left:616.40px;top:500.50px;width:60.12px;height:10.50px;background:#ececec;box-shadow:inset 0.75px 0 0 #c9c9c9, inset 0 0.7px 0 #c9c9c9;"></div>
<span class="c" style="left:618.60px;top:500.50px;width:55.22px;line-height:9.90px;text-align:left;color:#0d0d0d">25, 29, 42</span>
<div  style="left:676.52px;top:500.50px;width:26.08px;height:10.50px;background:#ececec;box-shadow:inset 0.75px 0 0 #c9c9c9, inset 0 0.7px 0 #c9c9c9;"></div>
<span class="c" style="left:678.72px;top:500.50px;width:21.18px;line-height:9.90px;text-align:left;color:#0d0d0d">BLG047</span>
<div  style="left:702.60px;top:500.50px;width:49.60px;height:10.50px;background:#ececec;box-shadow:inset 0.75px 0 0 #c9c9c9, inset 0 0.7px 0 #c9c9c9;"></div>
<span class="c" style="left:704.80px;top:500.50px;width:44.70px;line-height:9.90px;text-align:left;color:#0d0d0d">1.5 X 2500 X 125</span>
<div  style="left:752.20px;top:500.50px;width:23.00px;height:10.50px;background:#ececec;box-shadow:inset 0.75px 0 0 #c9c9c9, inset 0 0.7px 0 #c9c9c9;"></div>
<span class="c" style="left:754.40px;top:500.50px;width:18.10px;line-height:9.90px;text-align:right;color:#0d0d0d;overflow:visible">26.67</span>
<div  style="left:775.20px;top:500.50px;width:48.50px;height:10.50px;background:#ececec;box-shadow:inset 0.75px 0 0 #c9c9c9, inset 0 0.7px 0 #c9c9c9;"></div>
<span class="c" style="left:777.40px;top:500.50px;width:43.60px;line-height:9.90px;text-align:right;color:#0d0d0d;overflow:visible">3.00</span>
<div  style="left:0.00px;top:511.00px;width:9.00px;height:10.50px;background:#ececec;box-shadow:inset 0 0.7px 0 #c9c9c9;"></div>
<div  style="left:9.00px;top:511.00px;width:52.52px;height:10.50px;background:#ececec;box-shadow:inset 0.75px 0 0 #c9c9c9, inset 0 0.7px 0 #c9c9c9;"></div>
<span class="c" style="left:11.20px;top:511.00px;width:47.62px;line-height:9.90px;text-align:right;color:#0d0d0d;overflow:visible">5512</span>
<div  style="left:61.52px;top:511.00px;width:38.48px;height:10.50px;background:#ececec;box-shadow:inset 0.75px 0 0 #c9c9c9, inset 0 0.7px 0 #c9c9c9;"></div>
<span class="c" style="left:63.72px;top:511.00px;width:33.58px;line-height:9.90px;text-align:left;color:#0d0d0d">S</span>
<div  style="left:100.00px;top:511.00px;width:16.20px;height:10.50px;background:#ececec;box-shadow:inset 0.75px 0 0 #c9c9c9, inset 0 0.7px 0 #c9c9c9;"></div>
<span class="c" style="left:102.20px;top:511.00px;width:11.30px;line-height:9.90px;text-align:right;color:#0d0d0d;overflow:visible">1</span>
<div  style="left:116.20px;top:511.00px;width:50.32px;height:10.50px;background:#ececec;box-shadow:inset 0.75px 0 0 #c9c9c9, inset 0 0.7px 0 #c9c9c9;"></div>
<span class="c" style="left:118.40px;top:511.00px;width:45.42px;line-height:9.90px;text-align:left;color:#0d0d0d">U0000000000293</span>
<div  style="left:166.52px;top:511.00px;width:45.00px;height:10.50px;background:#ececec;box-shadow:inset 0.75px 0 0 #c9c9c9, inset 0 0.7px 0 #c9c9c9;"></div>
<span class="c" style="left:168.72px;top:511.00px;width:40.10px;line-height:9.90px;text-align:left;color:#0d0d0d">0</span>
<div  style="left:211.52px;top:511.00px;width:42.38px;height:10.50px;background:#ececec;box-shadow:inset 0.75px 0 0 #c9c9c9, inset 0 0.7px 0 #c9c9c9;"></div>
<span class="c" style="left:213.72px;top:511.00px;width:37.48px;line-height:9.90px;text-align:left;color:#0d0d0d">140</span>
<div  style="left:253.90px;top:511.00px;width:68.00px;height:10.50px;background:#ececec;box-shadow:inset 0.75px 0 0 #c9c9c9, inset 0 0.7px 0 #c9c9c9;"></div>
<span class="c" style="left:256.10px;top:511.00px;width:63.10px;line-height:9.90px;text-align:left;color:#0d0d0d">FF10888-6</span>
<div  style="left:321.90px;top:511.00px;width:22.30px;height:10.50px;background:#ececec;box-shadow:inset 0.75px 0 0 #c9c9c9, inset 0 0.7px 0 #c9c9c9;"></div>
<span class="c" style="left:324.10px;top:511.00px;width:17.40px;line-height:9.90px;text-align:right;color:#0d0d0d;overflow:visible">20</span>
<div  style="left:344.20px;top:511.00px;width:47.32px;height:10.50px;background:#ececec;box-shadow:inset 0.75px 0 0 #c9c9c9, inset 0 0.7px 0 #c9c9c9;"></div>
<span class="c" style="left:346.40px;top:511.00px;width:42.42px;line-height:9.90px;text-align:right;color:#0d0d0d;overflow:visible">10422</span>
<div  style="left:391.52px;top:511.00px;width:58.00px;height:10.50px;background:#ececec;box-shadow:inset 0.75px 0 0 #c9c9c9, inset 0 0.7px 0 #c9c9c9;"></div>
<span class="c" style="left:393.72px;top:511.00px;width:53.10px;line-height:9.90px;text-align:left;color:#0d0d0d">U0000000001028</span>
<div  style="left:449.52px;top:511.00px;width:35.18px;height:10.50px;background:#ececec;box-shadow:inset 0.75px 0 0 #c9c9c9, inset 0 0.7px 0 #c9c9c9;"></div>
<span class="c" style="left:451.72px;top:511.00px;width:30.28px;line-height:9.90px;text-align:left;color:#0d0d0d">J</span>
<div  style="left:484.70px;top:511.00px;width:42.00px;height:10.50px;background:#ececec;box-shadow:inset 0.75px 0 0 #c9c9c9, inset 0 0.7px 0 #c9c9c9;"></div>
<span class="c" style="left:486.90px;top:511.00px;width:37.10px;line-height:9.90px;text-align:left;color:#0d0d0d">14/12/2023</span>
<div  style="left:526.70px;top:511.00px;width:28.60px;height:10.50px;background:#ececec;box-shadow:inset 0.75px 0 0 #c9c9c9, inset 0 0.7px 0 #c9c9c9;"></div>
<span class="c" style="left:528.90px;top:511.00px;width:23.70px;line-height:9.90px;text-align:right;color:#0d0d0d;overflow:visible">40</span>
<div  style="left:555.30px;top:511.00px;width:31.50px;height:10.50px;background:#ececec;box-shadow:inset 0.75px 0 0 #c9c9c9, inset 0 0.7px 0 #c9c9c9;"></div>
<span class="c" style="left:557.50px;top:511.00px;width:26.60px;line-height:9.90px;text-align:right;color:#0d0d0d;overflow:visible">40</span>
<div  style="left:586.80px;top:511.00px;width:29.60px;height:10.50px;background:#ececec;box-shadow:inset 0.75px 0 0 #c9c9c9, inset 0 0.7px 0 #c9c9c9;"></div>
<span class="c" style="left:589.00px;top:511.00px;width:24.70px;line-height:9.90px;text-align:right;color:#0d0d0d;overflow:visible">1</span>
<div  style="left:616.40px;top:511.00px;width:60.12px;height:10.50px;background:#ececec;box-shadow:inset 0.75px 0 0 #c9c9c9, inset 0 0.7px 0 #c9c9c9;"></div>
<span class="c" style="left:618.60px;top:511.00px;width:55.22px;line-height:9.90px;text-align:left;color:#0d0d0d">25, 29, 42, 91</span>
<div  style="left:676.52px;top:511.00px;width:26.08px;height:10.50px;background:#ececec;box-shadow:inset 0.75px 0 0 #c9c9c9, inset 0 0.7px 0 #c9c9c9;"></div>
<span class="c" style="left:678.72px;top:511.00px;width:21.18px;line-height:9.90px;text-align:left;color:#0d0d0d">BLG047</span>
<div  style="left:702.60px;top:511.00px;width:49.60px;height:10.50px;background:#ececec;box-shadow:inset 0.75px 0 0 #c9c9c9, inset 0 0.7px 0 #c9c9c9;"></div>
<span class="c" style="left:704.80px;top:511.00px;width:44.70px;line-height:9.90px;text-align:left;color:#0d0d0d">1.5 X 2500 X 125</span>
<div  style="left:752.20px;top:511.00px;width:23.00px;height:10.50px;background:#ececec;box-shadow:inset 0.75px 0 0 #c9c9c9, inset 0 0.7px 0 #c9c9c9;"></div>
<span class="c" style="left:754.40px;top:511.00px;width:18.10px;line-height:9.90px;text-align:right;color:#0d0d0d;overflow:visible">1.90</span>
<div  style="left:775.20px;top:511.00px;width:48.50px;height:10.50px;background:#ececec;box-shadow:inset 0.75px 0 0 #c9c9c9, inset 0 0.7px 0 #c9c9c9;"></div>
<span class="c" style="left:777.40px;top:511.00px;width:43.60px;line-height:9.90px;text-align:right;color:#0d0d0d;overflow:visible">4.00</span>
<div  style="left:0.00px;top:521.50px;width:9.00px;height:10.50px;background:#ececec;box-shadow:inset 0 0.7px 0 #c9c9c9;"></div>
<div  style="left:9.00px;top:521.50px;width:52.52px;height:10.50px;background:#ececec;box-shadow:inset 0.75px 0 0 #c9c9c9, inset 0 0.7px 0 #c9c9c9;"></div>
<span class="c" style="left:11.20px;top:521.50px;width:47.62px;line-height:9.90px;text-align:right;color:#0d0d0d;overflow:visible">5512</span>
<div  style="left:61.52px;top:521.50px;width:38.48px;height:10.50px;background:#ececec;box-shadow:inset 0.75px 0 0 #c9c9c9, inset 0 0.7px 0 #c9c9c9;"></div>
<span class="c" style="left:63.72px;top:521.50px;width:33.58px;line-height:9.90px;text-align:left;color:#0d0d0d">S</span>
<div  style="left:100.00px;top:521.50px;width:16.20px;height:10.50px;background:#ececec;box-shadow:inset 0.75px 0 0 #c9c9c9, inset 0 0.7px 0 #c9c9c9;"></div>
<span class="c" style="left:102.20px;top:521.50px;width:11.30px;line-height:9.90px;text-align:right;color:#0d0d0d;overflow:visible">1</span>
<div  style="left:116.20px;top:521.50px;width:50.32px;height:10.50px;background:#ececec;box-shadow:inset 0.75px 0 0 #c9c9c9, inset 0 0.7px 0 #c9c9c9;"></div>
<span class="c" style="left:118.40px;top:521.50px;width:45.42px;line-height:9.90px;text-align:left;color:#0d0d0d">U0000000000293</span>
<div  style="left:166.52px;top:521.50px;width:45.00px;height:10.50px;background:#ececec;box-shadow:inset 0.75px 0 0 #c9c9c9, inset 0 0.7px 0 #c9c9c9;"></div>
<span class="c" style="left:168.72px;top:521.50px;width:40.10px;line-height:9.90px;text-align:left;color:#0d0d0d">0</span>
<div  style="left:211.52px;top:521.50px;width:42.38px;height:10.50px;background:#ececec;box-shadow:inset 0.75px 0 0 #c9c9c9, inset 0 0.7px 0 #c9c9c9;"></div>
<span class="c" style="left:213.72px;top:521.50px;width:37.48px;line-height:9.90px;text-align:left;color:#0d0d0d">150</span>
<div  style="left:253.90px;top:521.50px;width:68.00px;height:10.50px;background:#ececec;box-shadow:inset 0.75px 0 0 #c9c9c9, inset 0 0.7px 0 #c9c9c9;"></div>
<span class="c" style="left:256.10px;top:521.50px;width:63.10px;line-height:9.90px;text-align:left;color:#0d0d0d">FF10888-7</span>
<div  style="left:321.90px;top:521.50px;width:22.30px;height:10.50px;background:#ececec;box-shadow:inset 0.75px 0 0 #c9c9c9, inset 0 0.7px 0 #c9c9c9;"></div>
<span class="c" style="left:324.10px;top:521.50px;width:17.40px;line-height:9.90px;text-align:right;color:#0d0d0d;overflow:visible">20</span>
<div  style="left:344.20px;top:521.50px;width:47.32px;height:10.50px;background:#ececec;box-shadow:inset 0.75px 0 0 #c9c9c9, inset 0 0.7px 0 #c9c9c9;"></div>
<span class="c" style="left:346.40px;top:521.50px;width:42.42px;line-height:9.90px;text-align:right;color:#0d0d0d;overflow:visible">10423</span>
<div  style="left:391.52px;top:521.50px;width:58.00px;height:10.50px;background:#ececec;box-shadow:inset 0.75px 0 0 #c9c9c9, inset 0 0.7px 0 #c9c9c9;"></div>
<span class="c" style="left:393.72px;top:521.50px;width:53.10px;line-height:9.90px;text-align:left;color:#0d0d0d">U0000000001029</span>
<div  style="left:449.52px;top:521.50px;width:35.18px;height:10.50px;background:#ececec;box-shadow:inset 0.75px 0 0 #c9c9c9, inset 0 0.7px 0 #c9c9c9;"></div>
<span class="c" style="left:451.72px;top:521.50px;width:30.28px;line-height:9.90px;text-align:left;color:#0d0d0d">J</span>
<div  style="left:484.70px;top:521.50px;width:42.00px;height:10.50px;background:#ececec;box-shadow:inset 0.75px 0 0 #c9c9c9, inset 0 0.7px 0 #c9c9c9;"></div>
<span class="c" style="left:486.90px;top:521.50px;width:37.10px;line-height:9.90px;text-align:left;color:#0d0d0d">14/12/2023</span>
<div  style="left:526.70px;top:521.50px;width:28.60px;height:10.50px;background:#ececec;box-shadow:inset 0.75px 0 0 #c9c9c9, inset 0 0.7px 0 #c9c9c9;"></div>
<span class="c" style="left:528.90px;top:521.50px;width:23.70px;line-height:9.90px;text-align:right;color:#0d0d0d;overflow:visible">20</span>
<div  style="left:555.30px;top:521.50px;width:31.50px;height:10.50px;background:#ececec;box-shadow:inset 0.75px 0 0 #c9c9c9, inset 0 0.7px 0 #c9c9c9;"></div>
<span class="c" style="left:557.50px;top:521.50px;width:26.60px;line-height:9.90px;text-align:right;color:#0d0d0d;overflow:visible">20</span>
<div  style="left:586.80px;top:521.50px;width:29.60px;height:10.50px;background:#ececec;box-shadow:inset 0.75px 0 0 #c9c9c9, inset 0 0.7px 0 #c9c9c9;"></div>
<span class="c" style="left:589.00px;top:521.50px;width:24.70px;line-height:9.90px;text-align:right;color:#0d0d0d;overflow:visible">1</span>
<div  style="left:616.40px;top:521.50px;width:60.12px;height:10.50px;background:#ececec;box-shadow:inset 0.75px 0 0 #c9c9c9, inset 0 0.7px 0 #c9c9c9;"></div>
<span class="c" style="left:618.60px;top:521.50px;width:55.22px;line-height:9.90px;text-align:left;color:#0d0d0d">25, 29</span>
<div  style="left:676.52px;top:521.50px;width:26.08px;height:10.50px;background:#ececec;box-shadow:inset 0.75px 0 0 #c9c9c9, inset 0 0.7px 0 #c9c9c9;"></div>
<span class="c" style="left:678.72px;top:521.50px;width:21.18px;line-height:9.90px;text-align:left;color:#0d0d0d">BLG047</span>
<div  style="left:702.60px;top:521.50px;width:49.60px;height:10.50px;background:#ececec;box-shadow:inset 0.75px 0 0 #c9c9c9, inset 0 0.7px 0 #c9c9c9;"></div>
<span class="c" style="left:704.80px;top:521.50px;width:44.70px;line-height:9.90px;text-align:left;color:#0d0d0d">1.5 X 2500 X 125</span>
<div  style="left:752.20px;top:521.50px;width:23.00px;height:10.50px;background:#ececec;box-shadow:inset 0.75px 0 0 #c9c9c9, inset 0 0.7px 0 #c9c9c9;"></div>
<span class="c" style="left:754.40px;top:521.50px;width:18.10px;line-height:9.90px;text-align:right;color:#0d0d0d;overflow:visible">0.36</span>
<div  style="left:775.20px;top:521.50px;width:48.50px;height:10.50px;background:#ececec;box-shadow:inset 0.75px 0 0 #c9c9c9, inset 0 0.7px 0 #c9c9c9;"></div>
<span class="c" style="left:777.40px;top:521.50px;width:43.60px;line-height:9.90px;text-align:right;color:#0d0d0d;overflow:visible">2.00</span>
<div  style="left:0.00px;top:532.40px;width:823.70px;height:9.20px;background:#043a5e;"></div>
<span class="t" style="left:1.60px;top:533.00px;color:#dfeaf3;font-size:5.9px;line-height:9px">Grand Summaries</span>
<div  style="left:0.00px;top:541.50px;width:823.70px;height:0.60px;background:#3f6f92;"></div>
<div  style="left:0.00px;top:542.10px;width:823.70px;height:2.00px;background:#043a5e;"></div>
<div style="left:775.2px;top:542.4px;width:48.5px;height:1.6px;background:transparent"><span class="t" style="right:1.5px;top:0.2px;color:#dfeaf3;font-size:5.5px;line-height:7px">Sum = 29.00</span></div>
<div  style="left:1015.20px;top:438.50px;width:8.80px;height:105.50px;background:#c3c3c3;"></div>
<div  style="left:1015.20px;top:438.50px;width:8.80px;height:47.50px;background:#2389bb;"></div>
<div  style="left:1015.20px;top:438.50px;width:8.80px;height:1.60px;background:#043a5e;"></div>
<div class="au" style="left:1017.8px;top:444px"></div>
<div  style="left:1015.20px;top:535.00px;width:8.80px;height:9.00px;background:#2389bb;"></div>
<div class="ad" style="left:1017.8px;top:538.4px"></div>
<div style="left:1012px;top:504.8px;width:12px;height:21.4px;background:#fff;border-radius:2px 0 0 2px;box-shadow:0 0 0.8px #999"></div>
<div style="left:1013px;top:507.7px;width:10.2px;height:10.2px;background:#1f86d8;border-radius:1.6px"></div>
<div style="left:1014.5px;top:509.2px;width:7.2px;height:7.2px;background:#fff;border-radius:50%"></div>
<svg style="position:absolute;left:1014.5px;top:509.2px" width="7.2" height="7.2" viewBox="0 0 8 8"><path d="M0.8 4 L2.6 2.6 V3.5 H5.4 V2.6 L7.2 4 L5.4 5.4 V4.5 H2.6 V5.4 Z" fill="#1f86d8"/></svg>
<svg style="position:absolute;left:1015.2px;top:526px" width="8.8" height="9.4" viewBox="0 0 8.8 9.4"><path d="M0 0 L8.8 5.5 V9.4 H0 Z" fill="#c3c3c3"/><path d="M0 0 L8.8 5.5 V0 Z" fill="#fff"/></svg>
<div  style="left:0.00px;top:544.00px;width:1024.00px;height:12.00px;background:#f0f0f0;box-shadow:inset 0 0.6px 0 #d0d0d0;"></div>
<span class="t" style="left:1.50px;top:545.90px;color:#222;font-size:5.9px;line-height:10px">Ready</span>
</body></html>
